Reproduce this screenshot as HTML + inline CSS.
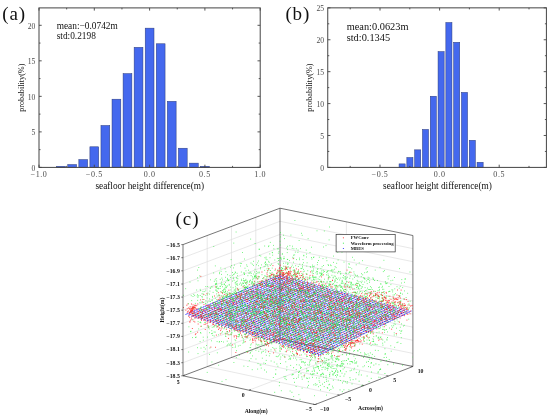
<!DOCTYPE html>
<html><head><meta charset="utf-8"><title>figure</title>
<style>html,body{margin:0;padding:0;background:#fff}body{width:550px;height:417px;overflow:hidden}</style>
</head><body>
<svg width="550" height="417" viewBox="0 0 550 417" style="display:block;font-family:'Liberation Serif', serif">
<rect width="550" height="417" fill="#fff"/>
<rect x="56.72" y="166.33" width="8.80" height="1.07" fill="#4468ee" stroke="#2a3a7a" stroke-width="0.5"/>
<rect x="67.78" y="164.56" width="8.80" height="2.84" fill="#4468ee" stroke="#2a3a7a" stroke-width="0.5"/>
<rect x="78.84" y="159.58" width="8.80" height="7.82" fill="#4468ee" stroke="#2a3a7a" stroke-width="0.5"/>
<rect x="89.90" y="146.80" width="8.80" height="20.60" fill="#4468ee" stroke="#2a3a7a" stroke-width="0.5"/>
<rect x="100.96" y="125.48" width="8.80" height="41.92" fill="#4468ee" stroke="#2a3a7a" stroke-width="0.5"/>
<rect x="112.02" y="99.20" width="8.80" height="68.20" fill="#4468ee" stroke="#2a3a7a" stroke-width="0.5"/>
<rect x="123.08" y="73.62" width="8.80" height="93.78" fill="#4468ee" stroke="#2a3a7a" stroke-width="0.5"/>
<rect x="134.14" y="47.33" width="8.80" height="120.07" fill="#4468ee" stroke="#2a3a7a" stroke-width="0.5"/>
<rect x="145.20" y="28.15" width="8.80" height="139.25" fill="#4468ee" stroke="#2a3a7a" stroke-width="0.5"/>
<rect x="156.26" y="43.78" width="8.80" height="123.62" fill="#4468ee" stroke="#2a3a7a" stroke-width="0.5"/>
<rect x="167.32" y="101.33" width="8.80" height="66.07" fill="#4468ee" stroke="#2a3a7a" stroke-width="0.5"/>
<rect x="178.38" y="148.22" width="8.80" height="19.18" fill="#4468ee" stroke="#2a3a7a" stroke-width="0.5"/>
<rect x="189.44" y="163.14" width="8.80" height="4.26" fill="#4468ee" stroke="#2a3a7a" stroke-width="0.5"/>
<rect x="200.50" y="166.33" width="8.80" height="1.07" fill="#4468ee" stroke="#2a3a7a" stroke-width="0.5"/>
<rect x="39.00" y="7.90" width="221.20" height="159.50" fill="none" stroke="#444" stroke-width="1"/>
<path d="M39.00 167.4v-2.7M39.00 7.9v2.7M94.30 167.4v-2.7M94.30 7.9v2.7M149.60 167.4v-2.7M149.60 7.9v2.7M204.90 167.4v-2.7M204.90 7.9v2.7M260.20 167.4v-2.7M260.20 7.9v2.7M66.65 167.4v-1.5M66.65 7.9v1.5M121.95 167.4v-1.5M121.95 7.9v1.5M177.25 167.4v-1.5M177.25 7.9v1.5M232.55 167.4v-1.5M232.55 7.9v1.5M39.0 167.40h2.7M260.2 167.40h-2.7M39.0 131.88h2.7M260.2 131.88h-2.7M39.0 96.35h2.7M260.2 96.35h-2.7M39.0 60.83h2.7M260.2 60.83h-2.7M39.0 25.31h2.7M260.2 25.31h-2.7M39.0 149.64h1.5M260.2 149.64h-1.5M39.0 114.11h1.5M260.2 114.11h-1.5M39.0 78.59h1.5M260.2 78.59h-1.5M39.0 43.07h1.5M260.2 43.07h-1.5" stroke="#444" stroke-width="0.9" fill="none"/>
<text x="39.00" y="177.00" text-anchor="middle" fill="#4a4a4a" style="font-size:8.0px;font-weight:normal;letter-spacing:0.6px;" >−1.0</text>
<text x="94.30" y="177.00" text-anchor="middle" fill="#4a4a4a" style="font-size:8.0px;font-weight:normal;letter-spacing:0.6px;" >−0.5</text>
<text x="149.60" y="177.00" text-anchor="middle" fill="#4a4a4a" style="font-size:8.0px;font-weight:normal;letter-spacing:0.6px;" >0.0</text>
<text x="204.90" y="177.00" text-anchor="middle" fill="#4a4a4a" style="font-size:8.0px;font-weight:normal;letter-spacing:0.6px;" >0.5</text>
<text x="260.20" y="177.00" text-anchor="middle" fill="#4a4a4a" style="font-size:8.0px;font-weight:normal;letter-spacing:0.6px;" >1.0</text>
<text x="35.40" y="170.70" text-anchor="end" fill="#4a4a4a" style="font-size:7.6px;font-weight:normal;" >0</text>
<text x="35.40" y="135.18" text-anchor="end" fill="#4a4a4a" style="font-size:7.6px;font-weight:normal;" >5</text>
<text x="35.40" y="99.65" text-anchor="end" fill="#4a4a4a" style="font-size:7.6px;font-weight:normal;" >10</text>
<text x="35.40" y="64.13" text-anchor="end" fill="#4a4a4a" style="font-size:7.6px;font-weight:normal;" >15</text>
<text x="35.40" y="28.61" text-anchor="end" fill="#4a4a4a" style="font-size:7.6px;font-weight:normal;" >20</text>
<text x="2.30" y="20.30" text-anchor="start" fill="#111" style="font-size:19px;font-weight:normal;letter-spacing:0.9px;" >(a)</text>
<text x="56.70" y="29.10" text-anchor="start" fill="#111" style="font-size:9.35px;font-weight:normal;" >mean:−0.0742m</text>
<text x="56.70" y="39.10" text-anchor="start" fill="#111" style="font-size:9.35px;font-weight:normal;" >std:0.2198</text>
<text x="149.80" y="188.70" text-anchor="middle" fill="#111" style="font-size:9.3px;font-weight:normal;" >seafloor height difference(m)</text>
<text transform="translate(24.2,87.7) rotate(-90)" text-anchor="middle" fill="#111" style="font-size:8.2px">probability(%)</text>
<rect x="399.05" y="163.89" width="6.10" height="3.51" fill="#4468ee" stroke="#2a3a7a" stroke-width="0.5"/>
<rect x="406.85" y="157.51" width="6.10" height="9.89" fill="#4468ee" stroke="#2a3a7a" stroke-width="0.5"/>
<rect x="414.65" y="149.85" width="6.10" height="17.55" fill="#4468ee" stroke="#2a3a7a" stroke-width="0.5"/>
<rect x="422.45" y="129.43" width="6.10" height="37.97" fill="#4468ee" stroke="#2a3a7a" stroke-width="0.5"/>
<rect x="430.25" y="96.24" width="6.10" height="71.16" fill="#4468ee" stroke="#2a3a7a" stroke-width="0.5"/>
<rect x="438.05" y="51.57" width="6.10" height="115.83" fill="#4468ee" stroke="#2a3a7a" stroke-width="0.5"/>
<rect x="445.85" y="22.53" width="6.10" height="144.87" fill="#4468ee" stroke="#2a3a7a" stroke-width="0.5"/>
<rect x="453.65" y="42.31" width="6.10" height="125.09" fill="#4468ee" stroke="#2a3a7a" stroke-width="0.5"/>
<rect x="461.45" y="92.41" width="6.10" height="74.99" fill="#4468ee" stroke="#2a3a7a" stroke-width="0.5"/>
<rect x="469.25" y="140.28" width="6.10" height="27.12" fill="#4468ee" stroke="#2a3a7a" stroke-width="0.5"/>
<rect x="477.05" y="162.29" width="6.10" height="5.11" fill="#4468ee" stroke="#2a3a7a" stroke-width="0.5"/>
<rect x="327.75" y="7.85" width="218.65" height="159.55" fill="none" stroke="#444" stroke-width="1"/>
<path d="M380.00 167.4v-2.7M380.00 7.85v2.7M439.60 167.4v-2.7M439.60 7.85v2.7M499.20 167.4v-2.7M499.20 7.85v2.7M350.20 167.4v-1.5M350.20 7.85v1.5M409.80 167.4v-1.5M409.80 7.85v1.5M469.40 167.4v-1.5M469.40 7.85v1.5M529.00 167.4v-1.5M529.00 7.85v1.5M327.75 167.40h2.7M546.4 167.40h-2.7M327.75 135.49h2.7M546.4 135.49h-2.7M327.75 103.58h2.7M546.4 103.58h-2.7M327.75 71.67h2.7M546.4 71.67h-2.7M327.75 39.76h2.7M546.4 39.76h-2.7M327.75 7.85h2.7M546.4 7.85h-2.7M327.75 151.44h1.5M546.4 151.44h-1.5M327.75 119.53h1.5M546.4 119.53h-1.5M327.75 87.62h1.5M546.4 87.62h-1.5M327.75 55.71h1.5M546.4 55.71h-1.5M327.75 23.81h1.5M546.4 23.81h-1.5" stroke="#444" stroke-width="0.9" fill="none"/>
<text x="380.00" y="177.00" text-anchor="middle" fill="#4a4a4a" style="font-size:8.0px;font-weight:normal;letter-spacing:0.6px;" >−0.5</text>
<text x="439.60" y="177.00" text-anchor="middle" fill="#4a4a4a" style="font-size:8.0px;font-weight:normal;letter-spacing:0.6px;" >0.0</text>
<text x="499.20" y="177.00" text-anchor="middle" fill="#4a4a4a" style="font-size:8.0px;font-weight:normal;letter-spacing:0.6px;" >0.5</text>
<text x="324.15" y="170.70" text-anchor="end" fill="#4a4a4a" style="font-size:7.6px;font-weight:normal;" >0</text>
<text x="324.15" y="138.79" text-anchor="end" fill="#4a4a4a" style="font-size:7.6px;font-weight:normal;" >5</text>
<text x="324.15" y="106.88" text-anchor="end" fill="#4a4a4a" style="font-size:7.6px;font-weight:normal;" >10</text>
<text x="324.15" y="74.97" text-anchor="end" fill="#4a4a4a" style="font-size:7.6px;font-weight:normal;" >15</text>
<text x="324.15" y="43.06" text-anchor="end" fill="#4a4a4a" style="font-size:7.6px;font-weight:normal;" >20</text>
<text x="324.15" y="11.15" text-anchor="end" fill="#4a4a4a" style="font-size:7.6px;font-weight:normal;" >25</text>
<text x="285.40" y="20.00" text-anchor="start" fill="#111" style="font-size:19px;font-weight:normal;letter-spacing:0.9px;" >(b)</text>
<text x="346.70" y="29.60" text-anchor="start" fill="#111" style="font-size:10.35px;font-weight:normal;" >mean:0.0623m</text>
<text x="346.70" y="40.50" text-anchor="start" fill="#111" style="font-size:10.35px;font-weight:normal;" >std:0.1345</text>
<text x="437.50" y="188.70" text-anchor="middle" fill="#111" style="font-size:9.3px;font-weight:normal;" >seafloor height difference(m)</text>
<text transform="translate(311.8,87.6) rotate(-90)" text-anchor="middle" fill="#111" style="font-size:8.2px">probability(%)</text>
<path d="M183.0 257.7L280.0 221.3L412.9 248.6M183.0 270.8L280.0 234.4L412.9 261.7M183.0 284.0L280.0 247.5L412.9 274.8M183.0 297.1L280.0 260.6L412.9 287.9M183.0 310.2L280.0 273.7L412.9 301.0M183.0 323.3L280.0 286.8L412.9 314.1M183.0 336.4L280.0 299.9L412.9 327.2M183.0 349.6L280.0 313.0L412.9 340.3M183.0 362.7L280.0 326.1L412.9 353.4M207.2 235.5L207.2 366.6L339.5 395.1M231.5 226.4L231.5 357.5L363.9 385.6M255.8 217.3L255.8 348.4L388.4 376.0M346.4 221.8L346.4 352.9L249.0 390.2" stroke="#dedede" stroke-width="0.7" fill="none"/>
<path d="M183.0 244.6L280.0 208.2M280.0 208.2L412.9 235.5M280.0 208.2L280.0 339.2M183.0 375.8L280.0 339.2M280.0 339.2L412.9 366.5M412.9 235.5L412.9 366.5" stroke="#4a4a4a" stroke-width="0.75" fill="none"/>
<clipPath id="bx"><polygon points="183.0,244.6 280.0,208.2 412.9,235.5 412.9,366.5 315.0,404.6 183.0,375.8"/></clipPath>
<g clip-path="url(#bx)">
<path d="M252.7 336.4h0.9M244.3 336.8h0.9M367.7 310.4h0.9M308.8 335.8h0.9M288.5 347.6h0.9M245.4 299.9h0.9M251.9 298.2h0.9M196.9 310.1h0.9M390.1 313.2h0.9M385.8 314.6h0.9M377.3 318.5h0.9M212.7 324.4h0.9M235.6 330.2h0.9M268.1 345.9h0.9M317.1 361.8h0.9M230.6 334.3h0.9M392.4 307.2h0.9M353.6 346.3h0.9M358.9 299.3h0.9M311.2 356.1h0.9M400.5 313.7h0.9M225.9 329.3h0.9M294.9 284.8h0.9M349.5 297.8h0.9M345.1 301.4h0.9M389.8 305.4h0.9M347.6 310.2h0.9M209.7 322.5h0.9M189.2 321.9h0.9M361.3 333.8h0.9M241.7 337.2h0.9M275.1 278.2h0.9M221.1 326.1h0.9M216.4 303.8h0.9M252.5 342.6h0.9M334.7 347.7h0.9M317.0 353.1h0.9M267.6 321.6h0.9M318.3 359.0h0.9M373.9 307.0h0.9M386.4 308.3h0.9M369.4 303.5h0.9M207.3 321.2h0.9M314.2 285.0h0.9M257.7 338.1h0.9M191.9 328.5h0.9M380.8 323.9h0.9M251.8 334.0h0.9M269.7 290.5h0.9M371.8 309.2h0.9M409.6 313.8h0.9M322.4 336.9h0.9M219.9 333.9h0.9M343.6 345.1h0.9M225.7 333.8h0.9M216.9 326.6h0.9M255.8 338.1h0.9M402.8 312.6h0.9M350.5 340.3h0.9M222.5 300.0h0.9M374.7 311.0h0.9M362.6 333.5h0.9M364.8 298.9h0.9M217.9 325.1h0.9M254.2 336.7h0.9M220.2 330.6h0.9M342.1 296.7h0.9M294.8 287.5h0.9M343.1 345.5h0.9M283.0 318.9h0.9M245.3 312.6h0.9M292.9 348.6h0.9M268.1 351.7h0.9M326.6 294.2h0.9M375.4 310.4h0.9M228.3 327.3h0.9M335.7 292.3h0.9M235.6 335.5h0.9M207.3 325.9h0.9M406.6 314.1h0.9M232.9 303.3h0.9M268.2 343.6h0.9M217.8 309.5h0.9M285.8 280.6h0.9M281.7 342.6h0.9M317.2 292.4h0.9M391.8 318.8h0.9M318.6 310.6h0.9M200.6 317.7h0.9M223.2 323.1h0.9M296.2 352.8h0.9M288.4 346.8h0.9M336.6 291.9h0.9M195.6 317.6h0.9M401.3 313.7h0.9M391.2 329.2h0.9M251.9 309.1h0.9M212.8 324.2h0.9M372.8 325.5h0.9M313.4 320.4h0.9M355.1 311.1h0.9M286.6 350.2h0.9M357.3 337.1h0.9M189.7 321.9h0.9M312.1 351.9h0.9M311.1 284.5h0.9M318.0 356.4h0.9M302.7 285.4h0.9M229.4 328.6h0.9M245.2 334.8h0.9M245.9 337.4h0.9M333.2 348.3h0.9M287.0 294.0h0.9M394.4 313.0h0.9M318.2 354.5h0.9M282.5 278.4h0.9M245.7 293.6h0.9M203.3 319.9h0.9M349.3 342.4h0.9M389.6 307.2h0.9M297.3 346.9h0.9M393.8 319.8h0.9M254.8 340.8h0.9M197.7 324.0h0.9M286.6 346.2h0.9M328.1 352.7h0.9M214.7 304.8h0.9M229.2 330.6h0.9M293.4 355.2h0.9M201.1 320.0h0.9M229.9 301.8h0.9M303.2 305.0h0.9M302.1 283.6h0.9M251.0 292.0h0.9M314.6 292.4h0.9M374.7 325.5h0.9M271.6 284.1h0.9M273.1 341.7h0.9M386.5 321.3h0.9M260.9 341.4h0.9M295.3 283.5h0.9M278.2 278.7h0.9M372.8 333.8h0.9M322.2 288.4h0.9M297.1 354.5h0.9M274.3 349.9h0.9M251.8 291.5h0.9M309.3 355.5h0.9M292.4 305.9h0.9M318.0 354.0h0.9M191.7 316.0h0.9M200.2 317.1h0.9M194.4 322.0h0.9M195.5 315.4h0.9M193.5 315.3h0.9M381.8 306.3h0.9M230.1 299.3h0.9M356.3 327.4h0.9M194.2 311.4h0.9M313.4 287.0h0.9M395.2 308.3h0.9M369.6 304.2h0.9M361.5 300.0h0.9M386.4 320.2h0.9M294.5 348.5h0.9M245.0 296.1h0.9M335.4 299.7h0.9M249.1 328.4h0.9M298.1 285.1h0.9M305.2 292.3h0.9M286.1 351.7h0.9M252.0 340.7h0.9M214.3 321.7h0.9M303.1 287.4h0.9M209.1 307.5h0.9M233.7 335.8h0.9M405.6 312.3h0.9M313.2 292.5h0.9M321.5 361.0h0.9M280.3 278.7h0.9M217.6 326.2h0.9M246.6 291.0h0.9M303.5 291.9h0.9M309.3 296.4h0.9M314.5 286.0h0.9M253.3 294.8h0.9M314.4 354.1h0.9M329.4 297.6h0.9M349.7 302.4h0.9M279.1 288.5h0.9M399.2 315.4h0.9M295.3 279.7h0.9M348.8 298.0h0.9M309.4 285.4h0.9M220.3 301.3h0.9M277.1 329.0h0.9M237.5 330.6h0.9M235.2 304.0h0.9M276.5 283.8h0.9M337.7 296.1h0.9M319.8 286.9h0.9M221.0 304.6h0.9M397.1 313.9h0.9M361.8 344.2h0.9M224.3 327.4h0.9M370.6 332.7h0.9M290.8 347.5h0.9M264.7 338.2h0.9M299.0 283.8h0.9M229.8 323.8h0.9M356.3 301.0h0.9M358.6 338.3h0.9M218.7 327.9h0.9M287.9 280.7h0.9M194.6 313.4h0.9M356.2 307.1h0.9M393.1 307.6h0.9M292.7 282.6h0.9M363.9 300.3h0.9M236.0 336.7h0.9M283.1 345.6h0.9M329.4 292.8h0.9M298.7 350.2h0.9M368.7 306.0h0.9M283.2 284.2h0.9M193.4 321.3h0.9M218.2 307.2h0.9M306.1 352.4h0.9M388.0 307.3h0.9M214.2 307.3h0.9M247.2 336.6h0.9M189.3 317.6h0.9M376.3 328.9h0.9M238.9 299.1h0.9M389.2 319.3h0.9M253.3 340.2h0.9M248.9 306.8h0.9M200.4 326.3h0.9M301.5 348.3h0.9M344.6 299.7h0.9M301.4 292.0h0.9M257.3 313.4h0.9M207.7 307.3h0.9M365.9 308.5h0.9M265.9 339.8h0.9M302.9 288.3h0.9M381.9 332.8h0.9M327.4 350.6h0.9M386.6 305.4h0.9M341.3 298.7h0.9M192.9 315.6h0.9M321.6 287.2h0.9M203.7 324.4h0.9M245.9 336.6h0.9M383.7 324.4h0.9M309.8 355.7h0.9M201.9 312.1h0.9M332.9 348.2h0.9M247.0 299.5h0.9M360.5 334.0h0.9M281.7 346.3h0.9M282.9 347.4h0.9M215.9 335.1h0.9M278.8 293.8h0.9M234.9 326.8h0.9M292.7 280.4h0.9M216.7 322.3h0.9M383.7 314.8h0.9M298.9 284.1h0.9M300.0 350.4h0.9M322.2 360.6h0.9M252.0 339.5h0.9M253.1 291.4h0.9M255.4 335.8h0.9M303.3 351.5h0.9M346.9 293.7h0.9M367.1 311.2h0.9M241.1 335.1h0.9M400.3 309.1h0.9M201.0 318.7h0.9M232.6 328.1h0.9M261.3 341.2h0.9M341.3 299.4h0.9M236.3 302.8h0.9M299.1 290.4h0.9M232.0 302.2h0.9M326.8 294.7h0.9M330.0 292.0h0.9M216.5 308.9h0.9M377.2 303.4h0.9M388.0 305.0h0.9M238.6 292.9h0.9M197.7 313.3h0.9M311.8 289.0h0.9M220.9 307.5h0.9M337.3 296.6h0.9M351.2 306.3h0.9M335.6 301.6h0.9M370.4 331.1h0.9M383.7 306.7h0.9M204.8 329.5h0.9M381.7 310.0h0.9M226.6 331.6h0.9M270.5 291.4h0.9M306.3 355.0h0.9M318.4 345.8h0.9M345.4 340.3h0.9M331.1 353.2h0.9M399.0 322.1h0.9M287.8 289.3h0.9M368.7 309.3h0.9M265.3 284.4h0.9M291.3 280.7h0.9M232.2 344.9h0.9M374.6 304.3h0.9M218.1 329.4h0.9M312.9 354.0h0.9M307.0 284.1h0.9M288.9 279.9h0.9M348.2 342.3h0.9M295.9 353.4h0.9M285.9 277.6h0.9M402.2 315.3h0.9M247.8 290.7h0.9M281.8 346.4h0.9M334.0 355.6h0.9M239.8 325.5h0.9M266.6 286.3h0.9M239.9 299.4h0.9M281.5 286.5h0.9M287.3 312.0h0.9M366.4 304.4h0.9M274.3 281.4h0.9M266.0 345.0h0.9M407.4 314.4h0.9M248.0 332.8h0.9M282.5 283.0h0.9M372.3 304.9h0.9M297.5 292.4h0.9M338.2 293.7h0.9M315.3 290.4h0.9M280.8 349.3h0.9M318.1 361.6h0.9M341.2 293.7h0.9M337.4 356.4h0.9M296.2 289.6h0.9M358.1 334.6h0.9M310.1 350.1h0.9M241.6 331.1h0.9M317.8 358.6h0.9M265.8 345.0h0.9M355.8 302.7h0.9M277.3 283.3h0.9M322.9 354.6h0.9M314.6 356.8h0.9M404.0 315.7h0.9M406.5 320.1h0.9M264.6 343.6h0.9M324.5 349.8h0.9M383.9 326.7h0.9M299.3 349.2h0.9M273.1 352.9h0.9M236.1 338.2h0.9M309.3 285.7h0.9M306.9 286.7h0.9M191.1 318.1h0.9M201.0 320.0h0.9M342.6 296.6h0.9M248.3 335.2h0.9M336.6 330.2h0.9M198.1 318.2h0.9M188.7 314.4h0.9M394.1 312.5h0.9M193.4 316.2h0.9M356.6 299.3h0.9M254.2 338.8h0.9M266.9 342.5h0.9M296.9 349.6h0.9M260.1 340.0h0.9M309.2 289.5h0.9M229.4 311.6h0.9M366.7 304.8h0.9M332.2 345.7h0.9M233.8 336.9h0.9M353.2 298.2h0.9M246.2 333.6h0.9M403.2 315.1h0.9" stroke="#ff3030" stroke-width="0.9" fill="none"/>
<path d="M344.8 328.8h0.9M202.2 313.0h0.9M212.2 313.7h0.9M311.3 352.5h0.9M227.7 334.7h0.9M256.6 297.2h0.9M298.4 297.9h0.9M291.2 305.9h0.9M245.3 294.9h0.9M221.7 327.8h0.9M308.5 297.2h0.9M227.4 322.1h0.9M194.9 334.6h0.9M303.7 375.7h0.9M364.4 302.2h0.9M360.0 336.1h0.9M397.9 317.5h0.9M246.1 329.0h0.9M219.3 309.4h0.9M210.0 315.8h0.9M220.7 329.0h0.9M284.4 357.0h0.9M208.3 327.3h0.9M341.8 343.7h0.9M306.0 285.0h0.9M328.6 309.5h0.9M326.2 349.7h0.9M362.3 316.1h0.9M215.0 347.3h0.9M192.8 316.1h0.9M284.3 328.1h0.9M309.2 305.7h0.9M384.6 318.2h0.9M244.8 341.7h0.9M311.8 352.7h0.9M370.0 343.0h0.9M329.8 332.9h0.9M235.4 352.5h0.9M272.8 336.2h0.9M270.3 287.3h0.9M247.7 314.3h0.9M267.4 343.9h0.9M341.8 306.4h0.9M252.3 338.4h0.9M261.6 295.9h0.9M243.6 297.8h0.9M277.2 312.4h0.9M372.5 307.9h0.9M262.1 336.1h0.9M381.4 318.9h0.9M206.6 323.6h0.9M394.4 315.4h0.9M245.0 326.8h0.9M247.2 352.2h0.9M243.4 310.3h0.9M368.2 332.1h0.9M267.2 331.6h0.9M380.6 339.1h0.9M210.4 347.1h0.9M299.4 355.2h0.9M197.2 332.2h0.9M195.5 333.6h0.9M338.6 356.4h0.9M395.8 333.5h0.9M378.3 340.2h0.9M297.0 353.5h0.9M399.7 318.0h0.9M355.8 319.5h0.9M384.4 321.7h0.9M205.0 324.1h0.9M330.4 320.1h0.9M324.7 314.4h0.9M228.0 338.4h0.9M391.7 316.9h0.9M225.9 315.0h0.9M264.0 341.5h0.9" stroke="#ff3030" stroke-width="0.9" fill="none"/>
<path d="M284.0 346.9h0.8M387.2 337.5h0.8M235.0 346.0h0.8M296.1 378.4h0.8M232.4 326.9h0.8M338.6 316.4h0.8M308.1 343.6h0.8M316.9 361.5h0.8M268.2 332.0h0.8M364.1 329.7h0.8M227.6 313.1h0.8M341.5 305.8h0.8M371.8 341.5h0.8M257.6 337.4h0.8M358.2 324.5h0.8M265.4 323.2h0.8M239.2 334.7h0.8M281.3 339.4h0.8M256.9 347.9h0.8M246.2 351.6h0.8M261.2 331.3h0.8M330.6 315.1h0.8M314.7 314.8h0.8M243.5 366.1h0.8M359.4 343.9h0.8M346.9 381.7h0.8M379.2 339.1h0.8M363.7 338.3h0.8M281.0 348.6h0.8M353.2 321.3h0.8M356.0 332.7h0.8M318.2 309.8h0.8M261.6 343.1h0.8M235.9 357.6h0.8M359.7 325.2h0.8M363.7 333.7h0.8M319.1 296.8h0.8M329.2 390.3h0.8M322.7 337.1h0.8M288.0 337.3h0.8M306.5 300.6h0.8M293.8 342.1h0.8M327.4 388.3h0.8M289.3 307.2h0.8M313.0 329.8h0.8M265.9 322.0h0.8M318.7 346.5h0.8M298.3 338.0h0.8M366.7 316.7h0.8M228.6 311.0h0.8M274.7 306.6h0.8M337.4 332.6h0.8M241.2 299.9h0.8M206.2 316.2h0.8M319.7 333.2h0.8M230.7 345.7h0.8M269.5 353.6h0.8M335.5 321.7h0.8M282.6 320.5h0.8M324.4 342.2h0.8M304.3 316.6h0.8M376.2 326.8h0.8M269.4 298.1h0.8M331.3 322.3h0.8M275.8 356.4h0.8M269.3 399.4h0.8M313.8 355.7h0.8M335.9 358.8h0.8M200.7 318.0h0.8M279.2 346.1h0.8M309.4 305.5h0.8M386.6 340.1h0.8M316.1 320.1h0.8M332.1 347.4h0.8M293.1 354.4h0.8M300.6 311.7h0.8M326.6 314.9h0.8M308.9 333.1h0.8M255.5 350.3h0.8M297.7 291.3h0.8M329.0 366.0h0.8M266.7 344.3h0.8M264.3 307.6h0.8M276.1 280.1h0.8M340.4 327.8h0.8M276.9 331.5h0.8M255.1 311.9h0.8M305.2 348.1h0.8M226.8 331.8h0.8M309.0 323.3h0.8M291.6 339.7h0.8M239.0 326.7h0.8M350.9 326.5h0.8M285.1 292.8h0.8M339.8 344.2h0.8M247.4 325.1h0.8M300.6 310.2h0.8M307.2 378.4h0.8M317.4 297.0h0.8M340.9 342.9h0.8M348.0 327.7h0.8M300.9 340.8h0.8M283.4 319.2h0.8M251.0 328.4h0.8M282.7 329.7h0.8M343.6 347.1h0.8M232.4 347.5h0.8M233.5 310.0h0.8M330.6 297.6h0.8M293.0 321.3h0.8M247.0 303.4h0.8M201.6 310.9h0.8M215.6 320.5h0.8M266.6 341.1h0.8M345.7 309.5h0.8M332.3 323.0h0.8M269.7 320.9h0.8M272.8 321.1h0.8M272.4 347.5h0.8M319.9 324.5h0.8M273.7 328.3h0.8M285.4 376.7h0.8M377.8 338.3h0.8M260.8 314.2h0.8M335.9 329.0h0.8M209.0 332.7h0.8M300.3 325.7h0.8M326.7 345.4h0.8M370.1 331.4h0.8M273.9 301.6h0.8M250.6 358.6h0.8M269.0 290.1h0.8M234.8 347.3h0.8M348.5 389.8h0.8M255.8 301.0h0.8M277.8 318.5h0.8M291.0 345.5h0.8M287.8 314.7h0.8M282.0 400.9h0.8M285.1 348.2h0.8M320.4 328.5h0.8M343.5 322.6h0.8M287.6 339.2h0.8M336.1 377.0h0.8M230.7 334.8h0.8M320.3 301.5h0.8M368.5 318.7h0.8M288.5 350.1h0.8M347.3 345.5h0.8M257.5 345.6h0.8M378.6 364.7h0.8M343.9 333.4h0.8M280.6 334.7h0.8M372.5 310.3h0.8M217.5 308.5h0.8M346.4 308.6h0.8M282.1 319.3h0.8M384.5 348.7h0.8M261.4 307.7h0.8M338.9 320.1h0.8M289.6 348.9h0.8M231.7 320.4h0.8M332.6 350.6h0.8M265.8 360.4h0.8M370.8 324.6h0.8M314.0 395.7h0.8M268.1 285.1h0.8M347.5 327.0h0.8M270.0 335.2h0.8M325.6 377.5h0.8M340.8 345.3h0.8M315.4 362.7h0.8M225.0 310.9h0.8M232.5 315.6h0.8M260.8 307.6h0.8M355.3 313.6h0.8M281.9 334.8h0.8M292.1 296.4h0.8M395.2 313.8h0.8M298.3 321.6h0.8M324.2 317.3h0.8M361.4 355.9h0.8M315.3 314.1h0.8M288.5 359.4h0.8M325.9 379.3h0.8M318.7 380.7h0.8M287.2 294.9h0.8M290.3 358.1h0.8M345.5 333.5h0.8M271.2 339.4h0.8M314.6 367.7h0.8M336.9 318.4h0.8M279.2 342.7h0.8M305.1 301.0h0.8M325.1 345.7h0.8M322.1 363.9h0.8M292.9 344.7h0.8M237.4 336.6h0.8M294.3 336.9h0.8M266.2 329.2h0.8M335.7 342.7h0.8M312.6 340.6h0.8M277.5 366.3h0.8M230.2 310.9h0.8M229.3 345.0h0.8M338.0 337.5h0.8M351.1 341.6h0.8M294.0 323.1h0.8M307.8 337.1h0.8M346.2 355.1h0.8M231.0 325.6h0.8M336.1 338.3h0.8M272.1 324.7h0.8M304.8 319.2h0.8M400.4 333.4h0.8M246.5 321.3h0.8M327.1 341.5h0.8M227.3 333.7h0.8M329.8 342.3h0.8M245.1 336.7h0.8M342.7 369.0h0.8M279.3 354.8h0.8M275.0 374.1h0.8M390.8 351.2h0.8M267.6 310.4h0.8M270.2 297.2h0.8M334.4 305.8h0.8M216.7 341.6h0.8M348.8 315.4h0.8M330.6 337.9h0.8M322.3 326.0h0.8M310.6 334.5h0.8M324.4 329.5h0.8M276.7 332.9h0.8M277.5 287.6h0.8M314.9 383.7h0.8M332.8 346.4h0.8M203.6 351.7h0.8M225.6 379.6h0.8M289.8 310.8h0.8M365.2 354.1h0.8M296.8 324.1h0.8M253.1 303.9h0.8M344.6 309.0h0.8M301.3 331.1h0.8M352.5 334.1h0.8M369.8 325.6h0.8M295.5 320.4h0.8M322.3 361.0h0.8M298.1 339.8h0.8M218.3 365.2h0.8M233.5 362.5h0.8M291.9 296.0h0.8M380.0 337.5h0.8M382.5 345.2h0.8M259.7 364.9h0.8M271.3 299.8h0.8M317.9 366.5h0.8M302.8 320.8h0.8M293.3 396.6h0.8M341.9 391.6h0.8M301.9 344.6h0.8M295.9 326.7h0.8M225.3 334.0h0.8M323.7 349.9h0.8M285.5 325.5h0.8M296.0 341.1h0.8M257.3 369.1h0.8M320.0 342.5h0.8M291.4 297.6h0.8M288.8 323.4h0.8M255.1 332.4h0.8M349.0 353.2h0.8M265.0 363.5h0.8M339.2 350.6h0.8M330.7 351.3h0.8M383.7 314.7h0.8M290.5 297.8h0.8M330.9 306.3h0.8M311.3 354.0h0.8M298.2 331.9h0.8M327.1 328.4h0.8M217.9 323.6h0.8M300.8 367.5h0.8M296.4 340.9h0.8M386.0 360.5h0.8M336.8 330.2h0.8M265.9 355.3h0.8M353.5 323.8h0.8M284.6 303.5h0.8M323.5 322.6h0.8M319.9 385.4h0.8M214.9 317.0h0.8M284.7 298.1h0.8M313.3 368.7h0.8M302.6 341.0h0.8M328.2 320.6h0.8M374.5 344.0h0.8M352.7 379.6h0.8M316.9 296.4h0.8M297.5 309.4h0.8M202.9 340.2h0.8M252.5 331.9h0.8M251.8 369.7h0.8M379.8 377.4h0.8M301.6 361.5h0.8M242.1 318.7h0.8M393.8 335.0h0.8M273.6 348.6h0.8M284.3 338.8h0.8M381.5 339.1h0.8M291.1 307.3h0.8M288.0 340.6h0.8M316.0 321.9h0.8M257.7 344.5h0.8M341.1 361.5h0.8M227.3 344.9h0.8M283.8 319.6h0.8M280.5 345.6h0.8M211.5 362.0h0.8M344.8 329.6h0.8M293.2 318.2h0.8M275.1 336.6h0.8M348.4 343.1h0.8M303.9 344.1h0.8M381.9 312.3h0.8M341.3 321.7h0.8M355.5 304.5h0.8M244.9 330.8h0.8M308.4 333.8h0.8M332.0 327.2h0.8M308.7 351.4h0.8M260.4 296.4h0.8M305.8 332.3h0.8M342.6 324.7h0.8M338.2 324.3h0.8M283.5 321.2h0.8M353.1 310.7h0.8M321.6 374.0h0.8M192.1 337.6h0.8M238.9 300.6h0.8M288.0 347.7h0.8M209.5 348.0h0.8M302.5 347.5h0.8M336.9 339.7h0.8M207.2 337.1h0.8M287.3 315.5h0.8M269.0 305.8h0.8M195.7 337.1h0.8M354.1 337.7h0.8M320.4 350.4h0.8M363.7 338.5h0.8M327.0 323.3h0.8M336.7 365.1h0.8M292.9 317.5h0.8M238.1 327.4h0.8M352.6 325.8h0.8M262.9 351.4h0.8M334.9 325.4h0.8M389.1 328.0h0.8M277.1 305.3h0.8M255.7 309.5h0.8M267.4 329.3h0.8M263.5 363.1h0.8M329.3 329.1h0.8M207.8 327.7h0.8M267.2 317.4h0.8M240.8 322.7h0.8M371.8 358.9h0.8M296.3 364.7h0.8M245.2 330.6h0.8M271.9 330.0h0.8M228.7 317.6h0.8M364.1 337.0h0.8M313.4 325.4h0.8M292.3 348.8h0.8M340.1 380.5h0.8M301.9 324.2h0.8M281.9 337.8h0.8M235.9 328.5h0.8M255.9 344.2h0.8M278.6 331.9h0.8M292.0 323.0h0.8M350.8 299.8h0.8M325.7 338.4h0.8M198.5 315.9h0.8M274.5 337.9h0.8M326.2 395.1h0.8M310.9 325.8h0.8M309.8 313.8h0.8M260.1 332.1h0.8M325.9 360.6h0.8M234.6 344.1h0.8M355.8 318.9h0.8M337.3 349.4h0.8M255.6 359.0h0.8M342.6 345.0h0.8M307.6 289.7h0.8M274.9 291.0h0.8M252.0 315.2h0.8M330.8 323.3h0.8M305.1 345.1h0.8M318.0 386.7h0.8M343.6 315.3h0.8M327.9 310.4h0.8M316.7 373.0h0.8M275.0 335.6h0.8M322.7 350.6h0.8M232.2 305.1h0.8M360.0 325.7h0.8M211.2 333.6h0.8M360.7 305.4h0.8M394.3 347.3h0.8M330.5 356.4h0.8M373.0 341.5h0.8M260.4 306.8h0.8M348.6 306.9h0.8M338.5 343.0h0.8M302.4 323.6h0.8M356.6 355.1h0.8M284.6 378.6h0.8M354.7 315.7h0.8M337.7 358.8h0.8M276.8 356.7h0.8M380.6 324.4h0.8M332.6 373.9h0.8M270.1 296.5h0.8M241.1 319.8h0.8M354.9 358.7h0.8M219.2 311.7h0.8M297.5 348.3h0.8M379.3 324.2h0.8M334.1 320.7h0.8M318.7 346.5h0.8M352.3 328.5h0.8M202.8 337.2h0.8M324.5 363.8h0.8M279.2 382.4h0.8M246.7 327.9h0.8M250.9 343.9h0.8M333.0 349.0h0.8M294.7 336.4h0.8M365.9 354.7h0.8M301.3 359.7h0.8M331.7 307.7h0.8M221.6 381.4h0.8M366.6 343.2h0.8M328.4 359.4h0.8M308.5 349.1h0.8M365.4 327.9h0.8M301.5 318.5h0.8M306.0 345.0h0.8M393.8 332.8h0.8M310.1 333.1h0.8M305.0 362.3h0.8M315.4 333.8h0.8M349.1 321.2h0.8M278.9 385.7h0.8M278.1 334.3h0.8M278.3 335.9h0.8M331.6 340.6h0.8M316.0 377.9h0.8M322.3 373.2h0.8M285.9 287.8h0.8M269.4 331.9h0.8M261.9 358.2h0.8M252.7 307.9h0.8M287.5 319.0h0.8M229.2 320.0h0.8M287.7 319.5h0.8M312.8 291.6h0.8M291.0 334.5h0.8M341.7 324.3h0.8M250.1 339.2h0.8M226.9 323.7h0.8M304.9 342.3h0.8M324.1 382.4h0.8M298.5 394.6h0.8M358.6 372.9h0.8M283.7 331.7h0.8M300.7 300.8h0.8M289.4 358.3h0.8M301.7 297.8h0.8M197.2 347.7h0.8M325.7 343.6h0.8M346.3 354.2h0.8M258.1 339.4h0.8M332.0 386.2h0.8M317.1 317.6h0.8M297.8 343.8h0.8M261.6 351.8h0.8M329.4 317.0h0.8M302.7 362.3h0.8M250.4 301.7h0.8M273.8 331.6h0.8M334.0 329.3h0.8M380.9 317.7h0.8M354.1 345.7h0.8M322.7 345.4h0.8M303.8 376.8h0.8M278.3 286.8h0.8M280.9 284.6h0.8M348.7 329.2h0.8M248.7 305.5h0.8M382.9 329.4h0.8M337.1 364.6h0.8M323.6 350.7h0.8M260.6 320.2h0.8M275.1 320.2h0.8M237.4 331.5h0.8M341.7 347.1h0.8M354.6 332.4h0.8M266.9 316.8h0.8M236.2 350.7h0.8M281.2 279.7h0.8M301.2 345.1h0.8M285.4 361.8h0.8M241.2 315.5h0.8M312.9 344.5h0.8M302.9 361.7h0.8M287.7 332.5h0.8M337.7 352.6h0.8M275.3 309.1h0.8M364.0 365.8h0.8M330.8 357.8h0.8M360.3 313.5h0.8M384.9 315.6h0.8M362.6 366.8h0.8M297.2 293.1h0.8M265.7 298.7h0.8M277.0 340.8h0.8M211.0 340.8h0.8M309.2 314.1h0.8M314.9 349.4h0.8M374.3 356.4h0.8M266.2 372.0h0.8M288.8 328.7h0.8M328.5 329.2h0.8M351.2 343.4h0.8M278.4 311.4h0.8M239.0 355.1h0.8M318.7 378.2h0.8M318.5 337.1h0.8M290.0 351.8h0.8M208.8 328.9h0.8M275.0 291.7h0.8M299.6 332.7h0.8M301.4 286.3h0.8M270.9 305.2h0.8M336.3 301.4h0.8M317.6 328.4h0.8M278.0 343.7h0.8M322.6 373.4h0.8M321.6 369.6h0.8M315.4 314.6h0.8M389.5 312.4h0.8M244.0 321.4h0.8M264.8 318.9h0.8M291.1 355.6h0.8M363.1 323.0h0.8M242.9 310.8h0.8M213.8 336.0h0.8M316.6 384.4h0.8M328.7 362.8h0.8M301.1 362.2h0.8M340.7 329.9h0.8M328.6 323.7h0.8M363.8 341.2h0.8M234.7 330.6h0.8M335.4 358.6h0.8M337.9 338.2h0.8M315.4 340.6h0.8M355.7 338.3h0.8M246.5 313.0h0.8M307.3 364.8h0.8M327.8 341.0h0.8M341.6 373.2h0.8M226.6 322.1h0.8M366.9 328.6h0.8M225.1 314.0h0.8M200.7 314.6h0.8M257.6 363.6h0.8M247.5 351.3h0.8M283.7 326.3h0.8M348.8 298.4h0.8M288.7 328.5h0.8M353.2 351.2h0.8M323.3 319.0h0.8M270.2 313.7h0.8M241.8 309.0h0.8M284.9 351.7h0.8M345.8 329.1h0.8M349.5 320.7h0.8M330.3 323.9h0.8M337.1 372.2h0.8M338.2 350.6h0.8M353.9 368.3h0.8M251.5 334.1h0.8M321.5 333.1h0.8M246.2 315.8h0.8M350.6 343.9h0.8M244.4 334.1h0.8M236.0 327.5h0.8M356.7 340.4h0.8M308.2 321.0h0.8M323.8 311.4h0.8M310.4 309.9h0.8M307.9 344.6h0.8M293.1 319.5h0.8M270.8 304.6h0.8M269.7 334.0h0.8M317.8 333.7h0.8M262.9 336.6h0.8M393.9 310.8h0.8M282.2 280.6h0.8M236.7 325.2h0.8M312.8 349.6h0.8M315.5 385.3h0.8M286.6 333.6h0.8M370.7 345.6h0.8M326.0 348.1h0.8M245.1 337.1h0.8M276.2 326.5h0.8M310.6 333.2h0.8M282.8 345.0h0.8M199.7 341.6h0.8M275.9 330.0h0.8M255.1 398.3h0.8M309.0 362.2h0.8M361.6 337.6h0.8M314.8 320.5h0.8M380.7 305.7h0.8M298.9 323.7h0.8M290.3 365.4h0.8M306.2 356.6h0.8M254.3 332.8h0.8M342.2 341.7h0.8M335.8 328.8h0.8M218.1 324.4h0.8M324.3 303.4h0.8M229.5 324.3h0.8M302.2 318.9h0.8M260.8 312.3h0.8M385.1 321.4h0.8M369.9 332.4h0.8M305.7 317.7h0.8M359.2 371.2h0.8M384.4 342.0h0.8M356.3 361.8h0.8M345.4 342.1h0.8M337.6 346.9h0.8M258.4 351.3h0.8M351.8 317.2h0.8M320.3 318.8h0.8M299.7 322.7h0.8M241.6 302.2h0.8M360.2 316.9h0.8M322.1 347.2h0.8M353.0 330.5h0.8M349.0 324.4h0.8M266.1 335.1h0.8M320.0 365.8h0.8M342.4 350.5h0.8M298.4 332.7h0.8M237.9 334.6h0.8M261.1 325.5h0.8M237.9 346.0h0.8M343.4 364.1h0.8M305.2 326.0h0.8M339.5 335.3h0.8M250.1 352.4h0.8M325.7 375.9h0.8M230.3 343.3h0.8M255.4 337.6h0.8M277.6 304.1h0.8M334.6 315.2h0.8M256.4 331.2h0.8M385.3 319.1h0.8M336.0 314.4h0.8M291.4 301.6h0.8M271.3 343.0h0.8M328.9 314.0h0.8M268.9 355.8h0.8M248.2 296.3h0.8M298.6 372.0h0.8M322.2 322.6h0.8M332.6 305.6h0.8M312.2 357.5h0.8M259.5 330.8h0.8M224.3 321.7h0.8M216.9 352.8h0.8M279.0 332.6h0.8M243.3 309.0h0.8M251.3 323.5h0.8M331.5 371.1h0.8M286.6 309.8h0.8M330.7 342.8h0.8M291.4 325.1h0.8M225.5 336.5h0.8M317.5 342.9h0.8M313.7 301.9h0.8M311.3 355.8h0.8M335.0 337.2h0.8M348.1 319.3h0.8M245.9 333.4h0.8M334.4 319.9h0.8M322.6 336.9h0.8M346.8 326.6h0.8M333.7 373.3h0.8M337.1 320.2h0.8M282.3 355.3h0.8M314.6 319.5h0.8M334.5 368.5h0.8M314.4 318.4h0.8M263.4 306.4h0.8M291.6 375.0h0.8M257.3 333.5h0.8M301.4 346.0h0.8M353.9 322.6h0.8M306.6 370.7h0.8M279.4 285.5h0.8M274.9 286.8h0.8M276.6 315.0h0.8M332.4 374.8h0.8M267.0 329.3h0.8M197.6 353.6h0.8M303.9 306.6h0.8M319.3 382.3h0.8M317.0 353.8h0.8M396.7 319.9h0.8M330.9 343.4h0.8M235.4 340.7h0.8M304.6 332.5h0.8M287.2 308.6h0.8M298.8 327.3h0.8M378.4 377.2h0.8M306.4 371.7h0.8M327.9 354.5h0.8M298.7 310.5h0.8M306.8 291.2h0.8M305.8 346.0h0.8M279.9 310.2h0.8M331.6 349.7h0.8M250.7 328.3h0.8M332.1 355.6h0.8M212.1 333.3h0.8M260.6 302.2h0.8M289.5 311.1h0.8M316.3 341.2h0.8M286.3 295.3h0.8M329.4 307.1h0.8M288.8 356.4h0.8M260.2 313.8h0.8M271.3 298.8h0.8M275.7 348.4h0.8M279.9 318.5h0.8M333.1 343.2h0.8M228.4 313.8h0.8M269.5 342.3h0.8M372.5 344.4h0.8M340.5 366.7h0.8M373.4 336.6h0.8M321.6 291.8h0.8M326.6 321.4h0.8M276.0 297.0h0.8M289.6 338.0h0.8M342.5 336.3h0.8M339.7 330.9h0.8M246.4 332.0h0.8M308.2 349.7h0.8M243.7 328.7h0.8M367.7 353.9h0.8M244.4 313.0h0.8M265.3 349.4h0.8M384.1 332.4h0.8M287.4 345.8h0.8M294.1 355.1h0.8M257.8 297.2h0.8M280.5 320.0h0.8M347.3 320.2h0.8M270.0 340.7h0.8M331.5 362.3h0.8M279.8 359.1h0.8M332.9 329.2h0.8M295.9 337.5h0.8M370.2 333.5h0.8M286.7 322.5h0.8M301.5 295.9h0.8M260.2 348.8h0.8M270.6 349.8h0.8M308.4 304.6h0.8M264.0 332.5h0.8M267.0 329.4h0.8M327.5 328.8h0.8M264.1 324.9h0.8M270.0 339.3h0.8M343.8 307.2h0.8M330.4 348.2h0.8M301.7 388.2h0.8M252.7 312.7h0.8M300.0 366.9h0.8M289.7 325.9h0.8M293.1 358.1h0.8M286.5 366.9h0.8M295.7 386.5h0.8M349.0 346.7h0.8M263.6 345.9h0.8M286.1 328.3h0.8M306.4 305.5h0.8M264.8 306.4h0.8M334.0 338.2h0.8M242.9 326.3h0.8M378.4 337.1h0.8M305.0 349.3h0.8M285.7 322.6h0.8M269.9 296.8h0.8M279.3 304.6h0.8M256.9 336.0h0.8M332.6 360.2h0.8M356.4 318.4h0.8M282.3 329.7h0.8M327.2 348.5h0.8M382.6 326.8h0.8M249.6 347.7h0.8M278.0 332.0h0.8M279.5 319.5h0.8M340.1 370.6h0.8M331.7 330.7h0.8M313.5 319.0h0.8M363.7 341.3h0.8M316.2 318.7h0.8M309.4 350.0h0.8M257.4 304.2h0.8M272.9 377.5h0.8M327.1 313.4h0.8M206.8 372.4h0.8M328.7 353.4h0.8M247.5 366.5h0.8M308.3 350.7h0.8M324.4 361.1h0.8M320.3 356.8h0.8M330.5 389.5h0.8M373.6 311.9h0.8M341.1 345.4h0.8M304.5 294.5h0.8M304.9 298.9h0.8M279.6 347.7h0.8M278.2 356.0h0.8M290.4 340.8h0.8M239.0 294.3h0.8M242.2 321.1h0.8M318.0 321.3h0.8M293.5 334.2h0.8M228.9 334.8h0.8M296.4 332.7h0.8M355.4 330.5h0.8M273.8 342.6h0.8M294.4 314.6h0.8M317.3 309.3h0.8M218.0 334.8h0.8M380.3 319.6h0.8M235.3 324.6h0.8M279.7 302.4h0.8M300.6 373.7h0.8M200.0 322.2h0.8M240.7 330.5h0.8M335.3 333.2h0.8M333.9 324.1h0.8M390.4 345.8h0.8M287.2 335.5h0.8M282.5 337.2h0.8M234.6 339.8h0.8M313.3 331.2h0.8M320.2 320.8h0.8M339.7 298.5h0.8M342.7 321.5h0.8M324.9 367.3h0.8M339.2 350.5h0.8M369.2 322.4h0.8M276.4 296.1h0.8M280.4 357.0h0.8M376.0 327.4h0.8M260.8 368.1h0.8M301.6 349.6h0.8M329.9 318.8h0.8M302.0 314.6h0.8M261.0 333.1h0.8M402.2 365.2h0.8M345.8 371.7h0.8M285.8 298.5h0.8M266.1 331.6h0.8M294.9 324.6h0.8M239.7 345.4h0.8M257.4 325.4h0.8M264.2 339.8h0.8M315.5 363.7h0.8M356.0 320.1h0.8M315.5 318.0h0.8M292.0 353.3h0.8M286.0 328.6h0.8M367.8 332.4h0.8M265.5 298.4h0.8M279.1 343.1h0.8M330.1 348.6h0.8M291.9 310.8h0.8M345.7 343.6h0.8M347.5 324.7h0.8M273.6 318.7h0.8M306.0 346.0h0.8M274.4 335.2h0.8M229.5 323.9h0.8M308.2 329.3h0.8M265.3 314.6h0.8M293.9 306.2h0.8M272.3 302.5h0.8M333.9 291.4h0.8M326.0 311.4h0.8M371.1 324.9h0.8M332.3 324.9h0.8M401.4 330.7h0.8M264.9 308.7h0.8M200.6 348.1h0.8M310.2 357.3h0.8M244.0 316.3h0.8M239.2 335.0h0.8M289.7 391.0h0.8M355.3 344.3h0.8M328.8 324.4h0.8M384.7 354.5h0.8M261.7 307.7h0.8M250.3 345.0h0.8M343.6 309.9h0.8M336.9 341.6h0.8M216.8 321.8h0.8M195.0 337.5h0.8M294.5 308.0h0.8M315.6 347.0h0.8" stroke="#30f040" stroke-width="0.8" fill="none"/>
<path d="M200.5 322.8h0.8M323.7 312.2h0.8M259.0 304.6h0.8M273.3 283.9h0.8M252.4 312.4h0.8M281.0 300.9h0.8M319.2 370.4h0.8M268.7 311.0h0.8M313.1 348.2h0.8M301.2 314.2h0.8M304.0 291.3h0.8M263.6 300.4h0.8M236.0 324.5h0.8M229.6 305.1h0.8M324.6 307.1h0.8M241.6 321.3h0.8M387.0 320.3h0.8M383.0 316.8h0.8M342.2 295.0h0.8M347.4 337.9h0.8M368.7 340.0h0.8M314.3 301.4h0.8M338.0 328.7h0.8M339.1 322.5h0.8M254.3 314.4h0.8M325.3 328.2h0.8M283.4 294.2h0.8M217.9 307.9h0.8M280.3 302.9h0.8M248.5 300.0h0.8M278.9 311.6h0.8M260.0 338.1h0.8M312.9 331.3h0.8M235.3 313.0h0.8M359.0 321.2h0.8M270.4 301.2h0.8M259.7 313.3h0.8M323.2 297.4h0.8M307.5 338.7h0.8M287.3 293.7h0.8M238.9 330.6h0.8M308.5 294.9h0.8M330.9 367.9h0.8M385.7 325.3h0.8M403.0 326.0h0.8M296.8 291.4h0.8M282.1 292.8h0.8M325.7 362.5h0.8M288.1 326.7h0.8M375.9 335.8h0.8M254.6 325.7h0.8M276.7 342.6h0.8M221.4 333.0h0.8M314.2 310.6h0.8M265.0 302.3h0.8M317.3 346.1h0.8M364.1 317.0h0.8M291.4 348.7h0.8M275.3 335.5h0.8M331.5 329.8h0.8M289.1 312.6h0.8M358.8 315.7h0.8M220.2 316.5h0.8M341.9 320.2h0.8M288.7 304.0h0.8M295.1 294.1h0.8M296.6 339.4h0.8M310.7 326.8h0.8M349.0 306.9h0.8M270.8 329.7h0.8M237.1 307.2h0.8M277.3 305.2h0.8M266.6 299.1h0.8M233.7 317.4h0.8M188.5 326.8h0.8M327.9 323.8h0.8M243.0 331.1h0.8M308.7 365.3h0.8M276.5 330.3h0.8M240.5 304.2h0.8M293.4 330.9h0.8M291.8 318.8h0.8M336.2 339.5h0.8M226.5 325.3h0.8M366.4 335.2h0.8M393.7 323.9h0.8M288.9 318.6h0.8M250.1 317.1h0.8M274.6 289.8h0.8M330.3 302.0h0.8M273.1 292.7h0.8M304.4 302.1h0.8M359.0 311.8h0.8M238.6 336.3h0.8M328.9 342.0h0.8M218.6 319.1h0.8M328.0 292.5h0.8M315.1 303.9h0.8M243.3 321.7h0.8M339.4 332.5h0.8M379.0 328.5h0.8M281.9 318.0h0.8M222.4 313.4h0.8M360.8 304.0h0.8M345.4 330.9h0.8M340.9 302.6h0.8M241.5 323.2h0.8M250.3 347.5h0.8M261.9 330.2h0.8M278.2 311.5h0.8M198.3 328.9h0.8M280.1 290.0h0.8M300.8 332.8h0.8M331.6 356.2h0.8M367.1 334.8h0.8M366.7 310.8h0.8M234.7 315.8h0.8M254.7 309.9h0.8M279.6 297.3h0.8M256.6 330.3h0.8M200.5 333.2h0.8M237.4 297.9h0.8M272.1 323.4h0.8M207.1 316.0h0.8M238.7 329.1h0.8M330.5 327.4h0.8M311.5 328.5h0.8M231.6 332.8h0.8M327.8 313.0h0.8M320.3 340.6h0.8M273.3 311.8h0.8M386.4 322.6h0.8M299.9 335.0h0.8M358.2 329.1h0.8M391.9 311.6h0.8M238.4 336.8h0.8M315.7 300.9h0.8M341.3 302.8h0.8M348.5 305.8h0.8M360.1 339.3h0.8M318.1 326.7h0.8M330.5 316.1h0.8M338.5 301.4h0.8M295.3 299.3h0.8M279.8 351.3h0.8M336.6 307.8h0.8M253.1 321.3h0.8M228.9 324.8h0.8M366.4 314.4h0.8M276.7 304.4h0.8M325.3 324.8h0.8M256.1 315.4h0.8M273.8 362.1h0.8M249.8 307.4h0.8M350.0 347.2h0.8M302.5 307.6h0.8M386.1 357.4h0.8M309.9 295.6h0.8M225.4 304.3h0.8M284.9 321.9h0.8M401.0 323.9h0.8M240.2 303.6h0.8M307.0 356.5h0.8M296.3 359.9h0.8M272.5 298.7h0.8M213.7 326.8h0.8M300.6 311.7h0.8M334.1 324.1h0.8M358.6 313.3h0.8M348.5 311.3h0.8M213.3 326.8h0.8M349.6 343.3h0.8M210.2 314.4h0.8M330.2 347.0h0.8M266.5 327.0h0.8M289.7 316.7h0.8M296.1 315.2h0.8M256.0 302.6h0.8M368.3 328.3h0.8M331.0 326.0h0.8M332.2 306.7h0.8M190.6 331.3h0.8M356.1 333.0h0.8M329.9 309.4h0.8M203.6 347.3h0.8M365.1 306.9h0.8M271.6 304.3h0.8M326.9 353.5h0.8M320.5 325.3h0.8M319.5 319.7h0.8M258.9 304.0h0.8M308.9 301.3h0.8M319.3 309.6h0.8M246.4 323.1h0.8M310.9 301.2h0.8M287.7 297.8h0.8M326.4 358.8h0.8M289.9 347.2h0.8M286.7 328.5h0.8M338.0 309.9h0.8M246.2 308.6h0.8M354.8 345.8h0.8M287.8 309.6h0.8M248.9 360.7h0.8M360.5 326.3h0.8M258.3 298.7h0.8M351.6 312.7h0.8M281.7 339.8h0.8M280.0 332.2h0.8M276.5 364.0h0.8M290.8 299.8h0.8M219.0 341.6h0.8M283.0 298.1h0.8M326.3 331.5h0.8M213.5 318.1h0.8M306.4 316.6h0.8M224.4 318.4h0.8M394.5 321.7h0.8M378.7 332.1h0.8M232.2 306.0h0.8M238.5 322.2h0.8M243.8 342.1h0.8M319.4 311.8h0.8M279.9 321.7h0.8M218.5 319.0h0.8M264.4 306.8h0.8M333.4 336.2h0.8M273.8 308.2h0.8M228.6 307.9h0.8M388.0 316.2h0.8M275.2 304.8h0.8M295.4 314.0h0.8M284.0 335.2h0.8M348.4 311.2h0.8M337.4 324.3h0.8M285.9 319.8h0.8M313.6 315.6h0.8M302.5 348.9h0.8M351.0 299.5h0.8M285.2 330.7h0.8M231.3 332.8h0.8M397.6 342.1h0.8M351.1 315.0h0.8M284.7 320.4h0.8M300.5 288.7h0.8M367.5 322.6h0.8M227.3 313.8h0.8M305.2 301.7h0.8M267.3 329.0h0.8M211.9 313.9h0.8M318.8 295.2h0.8M272.1 313.5h0.8M245.0 325.4h0.8M351.9 361.7h0.8M322.8 325.1h0.8M253.8 322.8h0.8M281.4 293.5h0.8M328.1 313.0h0.8M388.3 316.6h0.8M265.1 284.5h0.8M273.1 338.8h0.8M323.9 306.9h0.8M257.3 298.0h0.8M214.7 325.6h0.8M284.2 333.4h0.8M283.0 314.3h0.8M262.1 304.1h0.8M385.3 311.4h0.8M344.4 326.0h0.8M310.0 303.6h0.8M284.0 284.6h0.8M288.5 341.1h0.8M286.3 317.7h0.8M261.0 299.9h0.8M274.6 296.1h0.8M279.4 348.8h0.8M306.5 351.5h0.8M391.4 325.8h0.8M257.9 334.6h0.8M335.0 313.3h0.8M340.3 301.0h0.8M271.6 325.1h0.8M208.2 314.5h0.8M324.9 325.9h0.8M352.7 331.6h0.8M204.6 322.5h0.8M358.5 315.0h0.8M311.9 329.9h0.8M289.5 299.6h0.8M296.7 344.2h0.8M350.1 331.7h0.8M348.6 335.9h0.8M261.2 317.0h0.8M360.7 328.8h0.8M260.1 323.9h0.8M330.2 317.2h0.8M281.0 296.0h0.8M389.7 311.9h0.8M296.3 319.8h0.8M346.3 341.1h0.8M275.9 316.6h0.8M261.3 323.6h0.8M294.5 322.8h0.8M331.8 325.8h0.8M322.0 312.5h0.8M286.3 335.1h0.8M261.3 306.6h0.8M267.3 316.2h0.8M259.5 345.0h0.8M364.3 315.7h0.8M212.2 318.0h0.8M369.7 330.0h0.8M283.8 356.2h0.8M312.5 314.3h0.8M310.4 302.1h0.8M209.6 320.5h0.8M367.3 305.4h0.8M201.2 326.3h0.8M246.0 321.7h0.8M366.7 319.7h0.8M258.6 328.1h0.8M318.9 347.2h0.8M348.9 299.4h0.8M311.4 339.5h0.8M348.3 310.7h0.8M230.0 315.5h0.8M317.4 302.4h0.8M239.9 305.2h0.8M246.6 308.0h0.8M229.7 312.1h0.8M340.3 329.7h0.8M338.0 332.4h0.8M296.2 351.7h0.8M293.5 330.6h0.8M373.8 312.8h0.8M325.5 337.5h0.8M351.8 334.4h0.8M349.9 338.7h0.8M238.7 334.4h0.8M358.6 327.8h0.8M345.2 337.2h0.8M302.7 306.3h0.8M368.7 311.9h0.8M378.7 321.0h0.8M330.0 302.9h0.8M357.8 350.9h0.8M313.5 314.5h0.8M253.7 336.8h0.8M304.7 296.9h0.8M258.2 328.7h0.8M205.8 308.7h0.8M287.9 334.0h0.8M389.4 314.5h0.8M303.8 308.3h0.8M337.2 293.5h0.8M324.4 334.8h0.8M294.8 309.8h0.8M288.3 300.7h0.8M320.0 290.8h0.8M265.0 343.5h0.8M247.0 306.6h0.8M265.5 318.4h0.8M373.3 341.6h0.8M365.2 322.0h0.8M396.1 334.9h0.8M229.6 318.8h0.8M305.4 293.6h0.8M265.5 304.1h0.8M274.1 282.0h0.8M289.3 341.1h0.8M296.7 338.0h0.8M353.1 332.6h0.8M290.4 314.5h0.8M266.1 297.9h0.8M264.9 341.6h0.8M296.0 338.2h0.8M351.2 326.8h0.8M290.3 334.1h0.8M353.1 343.4h0.8M331.2 306.5h0.8M366.1 316.5h0.8M217.6 309.3h0.8M338.5 321.6h0.8M258.4 322.2h0.8M262.7 318.6h0.8M259.5 306.1h0.8M217.2 318.1h0.8M286.0 330.2h0.8M232.4 316.5h0.8M300.8 337.4h0.8M330.9 348.9h0.8M240.1 317.8h0.8M340.9 363.8h0.8M289.7 327.5h0.8M369.0 337.3h0.8M271.4 304.4h0.8M333.0 313.3h0.8M346.5 326.6h0.8M351.3 317.5h0.8M289.1 302.9h0.8M252.4 296.7h0.8M274.0 305.7h0.8M369.3 303.8h0.8M354.1 327.2h0.8M373.9 327.9h0.8M256.9 309.3h0.8M304.7 294.9h0.8M319.0 307.3h0.8M281.5 289.0h0.8M231.2 329.9h0.8M297.7 332.6h0.8M335.0 307.4h0.8M230.7 311.9h0.8M249.6 318.7h0.8M292.6 292.1h0.8M236.4 295.7h0.8M393.3 325.7h0.8M242.5 343.1h0.8M280.2 312.4h0.8M256.0 313.5h0.8M323.9 357.7h0.8M256.9 318.4h0.8M315.3 295.5h0.8M248.2 329.7h0.8M261.7 319.3h0.8M341.7 314.0h0.8M376.2 311.3h0.8M393.9 318.0h0.8M247.4 311.4h0.8M387.7 322.2h0.8M331.4 355.7h0.8M213.7 332.0h0.8M236.1 309.2h0.8M301.2 307.2h0.8M339.8 347.2h0.8M337.9 380.0h0.8M392.3 327.3h0.8M318.6 297.4h0.8M318.1 312.9h0.8M361.4 333.0h0.8M279.3 283.6h0.8M286.0 337.9h0.8M263.6 333.7h0.8M323.3 308.9h0.8M228.4 343.9h0.8M294.8 328.0h0.8M320.2 311.0h0.8M278.0 302.9h0.8M290.1 289.5h0.8M272.8 320.5h0.8M403.9 325.3h0.8M279.7 318.9h0.8M355.6 335.5h0.8M259.7 297.3h0.8M329.8 295.3h0.8M387.5 315.9h0.8M273.1 293.4h0.8M245.1 305.5h0.8M308.6 313.0h0.8M204.9 349.0h0.8M292.6 342.1h0.8M258.1 320.0h0.8M367.0 337.2h0.8M344.2 313.9h0.8M256.4 325.7h0.8M322.5 317.0h0.8M326.0 312.5h0.8M281.8 294.1h0.8M275.0 296.0h0.8M263.6 285.5h0.8M247.8 323.8h0.8M323.6 337.9h0.8M293.1 315.4h0.8M314.4 357.0h0.8M215.9 321.6h0.8M351.5 337.9h0.8M331.5 347.4h0.8M263.6 330.8h0.8M260.2 313.6h0.8M344.9 310.4h0.8M348.1 323.3h0.8M327.2 304.6h0.8M230.2 321.1h0.8M290.9 322.2h0.8M333.3 348.8h0.8M228.3 325.6h0.8M294.9 329.1h0.8M260.1 311.9h0.8M283.4 316.9h0.8M366.9 317.9h0.8M363.6 306.8h0.8M340.5 305.1h0.8M368.3 316.3h0.8M268.1 320.7h0.8M267.4 311.4h0.8M259.8 313.8h0.8M276.5 314.9h0.8M281.1 283.4h0.8M238.1 311.3h0.8M221.7 322.8h0.8M196.3 314.7h0.8M299.3 321.6h0.8M269.3 321.1h0.8M393.1 310.8h0.8M253.6 310.7h0.8M254.2 307.5h0.8M369.2 340.5h0.8M353.1 309.2h0.8M238.7 304.0h0.8M306.2 310.7h0.8M257.8 331.8h0.8M272.9 317.4h0.8M279.4 330.3h0.8M381.0 319.7h0.8M226.0 327.9h0.8M269.8 301.3h0.8M244.0 304.4h0.8M276.5 303.5h0.8M315.3 290.2h0.8M276.7 301.8h0.8M218.6 316.9h0.8M315.9 318.0h0.8M230.0 312.1h0.8M273.6 291.8h0.8M330.7 301.5h0.8M281.4 323.2h0.8M346.9 335.6h0.8M374.6 322.8h0.8M213.8 314.8h0.8M247.0 337.6h0.8M361.0 316.1h0.8M310.5 347.4h0.8M316.4 310.3h0.8M311.2 308.3h0.8M322.8 309.0h0.8M265.6 340.1h0.8M323.2 306.7h0.8M349.6 318.5h0.8M343.3 323.5h0.8M213.7 311.3h0.8M272.6 310.8h0.8M235.6 311.5h0.8M241.5 324.7h0.8M293.2 324.3h0.8M353.8 343.4h0.8M373.3 316.3h0.8M312.7 341.4h0.8M366.4 315.3h0.8M249.5 322.8h0.8M314.2 309.1h0.8M299.3 318.1h0.8M331.0 308.8h0.8M230.4 334.1h0.8M256.9 328.3h0.8M286.6 340.6h0.8M332.3 340.1h0.8M301.6 327.1h0.8M310.8 336.0h0.8M274.3 337.4h0.8M247.1 311.5h0.8M301.1 354.9h0.8M326.0 334.0h0.8M303.5 302.3h0.8M280.7 310.5h0.8M247.6 313.7h0.8M287.4 300.2h0.8M219.0 325.5h0.8M343.0 326.2h0.8M232.4 320.2h0.8M245.5 321.5h0.8M290.4 325.9h0.8M366.6 340.0h0.8M286.0 307.1h0.8M335.3 296.8h0.8M380.5 336.9h0.8M241.2 308.7h0.8M231.0 317.7h0.8M220.5 312.6h0.8M331.6 357.1h0.8M336.8 370.7h0.8M315.9 352.0h0.8M281.0 303.2h0.8M287.8 297.1h0.8M313.9 318.3h0.8M363.8 322.2h0.8M252.0 355.9h0.8M249.3 293.8h0.8M276.7 301.3h0.8M309.6 286.4h0.8M296.8 314.4h0.8M280.2 293.0h0.8M358.2 316.0h0.8M247.9 310.0h0.8M326.0 314.6h0.8M307.0 324.0h0.8M239.2 329.8h0.8M278.3 333.7h0.8M382.4 340.0h0.8M293.5 295.0h0.8M266.4 311.1h0.8M363.9 320.0h0.8M328.7 307.5h0.8M275.6 335.3h0.8M261.8 335.5h0.8M319.6 308.2h0.8M310.4 340.4h0.8M282.2 326.7h0.8M377.3 314.1h0.8M259.0 327.6h0.8M318.1 300.0h0.8M275.4 351.1h0.8M370.1 304.7h0.8M300.4 300.7h0.8M249.5 326.2h0.8M318.1 340.6h0.8M307.0 316.6h0.8M313.8 339.1h0.8M275.0 329.0h0.8M332.3 345.7h0.8M276.2 303.2h0.8M233.3 319.9h0.8M303.5 325.6h0.8M326.3 331.2h0.8M346.5 325.2h0.8M287.6 328.8h0.8M337.1 314.5h0.8M207.9 325.9h0.8M254.5 330.1h0.8M339.0 315.9h0.8M307.1 301.8h0.8M313.7 354.2h0.8M370.5 316.6h0.8M341.9 326.0h0.8M335.0 332.8h0.8M289.7 310.1h0.8M228.7 305.7h0.8M318.4 296.9h0.8M354.1 309.7h0.8M367.3 312.0h0.8M312.2 319.7h0.8M283.8 294.6h0.8M381.8 323.2h0.8M327.5 368.2h0.8M257.7 326.1h0.8M279.5 290.2h0.8M294.8 298.9h0.8M255.7 303.3h0.8M333.2 320.5h0.8M329.4 335.5h0.8M364.0 322.6h0.8M287.6 295.0h0.8M288.6 341.9h0.8M307.1 294.0h0.8M214.8 332.1h0.8M351.3 333.3h0.8M279.3 287.8h0.8M317.7 304.7h0.8M373.2 327.6h0.8M334.4 303.3h0.8M365.9 308.1h0.8M283.6 312.1h0.8M246.8 322.8h0.8M257.7 314.1h0.8M309.7 311.3h0.8M281.3 323.6h0.8M302.9 309.5h0.8M309.2 315.6h0.8M271.4 343.8h0.8M246.1 313.2h0.8M281.9 301.9h0.8M273.4 314.1h0.8M320.9 320.9h0.8M384.2 319.3h0.8M290.4 293.6h0.8M292.3 339.4h0.8M318.1 340.2h0.8M260.3 302.1h0.8M323.3 294.4h0.8M346.9 317.1h0.8M228.0 325.0h0.8M340.6 313.6h0.8M382.0 329.4h0.8M264.1 306.8h0.8M251.4 314.7h0.8M216.5 327.3h0.8M299.2 317.3h0.8M261.7 295.7h0.8M280.4 288.4h0.8M338.9 297.8h0.8M280.9 390.7h0.8M338.4 322.6h0.8M193.3 313.2h0.8M243.1 319.5h0.8M284.6 326.5h0.8M313.4 340.2h0.8M266.2 333.3h0.8M304.8 299.5h0.8M209.2 354.4h0.8M269.3 291.9h0.8M234.3 322.7h0.8M333.1 318.6h0.8M352.9 323.4h0.8M366.5 304.9h0.8M290.2 293.6h0.8M311.2 309.3h0.8M308.8 334.9h0.8M281.7 297.9h0.8M352.6 313.1h0.8M262.6 316.4h0.8M253.7 300.0h0.8M265.8 341.3h0.8M351.7 341.6h0.8M309.5 335.1h0.8M265.4 315.4h0.8M263.8 295.5h0.8M260.1 315.4h0.8M299.7 294.5h0.8M280.5 348.0h0.8M275.4 374.1h0.8M378.1 320.8h0.8M276.0 340.8h0.8M337.4 342.4h0.8M279.4 350.9h0.8M323.7 327.4h0.8M363.9 317.5h0.8M306.5 318.3h0.8M346.0 306.5h0.8M254.0 332.1h0.8M335.2 315.4h0.8M342.5 341.8h0.8M266.6 311.6h0.8M304.7 344.7h0.8M298.9 338.8h0.8M356.6 317.9h0.8M349.9 330.4h0.8M355.6 326.8h0.8M267.5 333.1h0.8M281.6 289.4h0.8M260.6 341.5h0.8M258.0 327.8h0.8M268.1 283.5h0.8M387.2 331.9h0.8M375.8 336.0h0.8M295.0 306.7h0.8M358.5 327.1h0.8M314.0 335.1h0.8M276.4 295.2h0.8M366.7 324.9h0.8M341.2 324.3h0.8M299.0 281.0h0.8M396.5 317.4h0.8M316.5 313.3h0.8M231.0 312.5h0.8M385.5 314.5h0.8M349.5 313.0h0.8M327.5 368.4h0.8M331.5 303.8h0.8M205.9 308.8h0.8M356.2 326.6h0.8M253.4 309.1h0.8M231.8 298.8h0.8M312.1 299.5h0.8M204.7 322.2h0.8M330.8 302.6h0.8M306.7 337.4h0.8M316.5 345.6h0.8M320.7 344.3h0.8M253.0 334.2h0.8M326.9 352.4h0.8M345.2 348.5h0.8M334.9 330.2h0.8M339.1 332.9h0.8M300.6 335.3h0.8M277.5 299.4h0.8M307.8 298.2h0.8M354.5 316.3h0.8M328.3 333.0h0.8M305.5 309.5h0.8M269.8 290.4h0.8M324.7 327.3h0.8M271.1 313.5h0.8M386.5 339.2h0.8M377.8 328.6h0.8M384.6 329.9h0.8M357.7 311.6h0.8M298.8 297.1h0.8M291.8 285.9h0.8M371.5 311.9h0.8M330.1 319.8h0.8M363.5 312.0h0.8M258.8 304.0h0.8M306.0 296.8h0.8M260.5 365.1h0.8M298.6 314.2h0.8M294.2 317.6h0.8M343.4 342.7h0.8M332.9 307.5h0.8M341.6 346.1h0.8M301.3 290.4h0.8M261.3 307.4h0.8M322.3 354.2h0.8M370.9 311.0h0.8M248.7 332.0h0.8M282.9 300.8h0.8M373.7 316.2h0.8M208.3 326.9h0.8M329.7 348.5h0.8M388.1 321.6h0.8M365.6 314.5h0.8M243.2 342.0h0.8M367.5 322.9h0.8M289.3 310.3h0.8M250.6 308.3h0.8M304.0 296.8h0.8M379.4 323.2h0.8M261.8 320.3h0.8M235.5 320.6h0.8M220.6 322.3h0.8M340.2 306.9h0.8M370.0 324.4h0.8M368.1 326.7h0.8M225.0 336.1h0.8M300.7 320.2h0.8M325.5 300.8h0.8M367.2 327.6h0.8M260.0 318.5h0.8M313.9 291.1h0.8M282.3 321.1h0.8M380.9 317.4h0.8M253.9 309.1h0.8M218.9 325.0h0.8M382.3 343.2h0.8M346.3 324.4h0.8M297.9 293.9h0.8M276.4 298.1h0.8M243.3 340.3h0.8M329.9 308.4h0.8M355.4 316.9h0.8M226.4 322.8h0.8M303.0 329.8h0.8M254.7 308.8h0.8M348.5 312.4h0.8M306.5 317.4h0.8M267.5 285.8h0.8M226.9 324.2h0.8M309.3 336.1h0.8M314.1 286.9h0.8M320.6 304.5h0.8M261.7 301.5h0.8M274.3 304.2h0.8M322.1 304.9h0.8M315.0 313.5h0.8M315.6 337.8h0.8M297.5 285.0h0.8M262.1 302.6h0.8M393.0 319.9h0.8M328.6 364.6h0.8M235.4 310.2h0.8M369.0 344.0h0.8M348.3 316.1h0.8M232.0 307.8h0.8M232.4 327.8h0.8M292.7 335.1h0.8M347.7 319.4h0.8M368.7 304.9h0.8M392.6 316.2h0.8M240.1 308.9h0.8M224.4 323.0h0.8M287.2 339.2h0.8M279.3 296.7h0.8M308.8 301.8h0.8M264.8 304.1h0.8M232.5 315.8h0.8M400.5 343.5h0.8M308.5 326.7h0.8M400.7 331.5h0.8M352.5 331.4h0.8M292.3 292.2h0.8M311.3 359.1h0.8M270.5 306.5h0.8M381.4 312.6h0.8M318.0 305.9h0.8M360.7 325.7h0.8M352.4 331.5h0.8M248.9 310.5h0.8M330.7 339.5h0.8M363.5 309.8h0.8M316.8 312.3h0.8M307.1 308.4h0.8M305.6 301.6h0.8M282.4 305.3h0.8M309.7 297.6h0.8M287.7 314.0h0.8M285.7 306.3h0.8M288.0 306.1h0.8M337.7 329.5h0.8M324.9 306.4h0.8M327.7 330.6h0.8M241.6 300.3h0.8M285.6 336.3h0.8M303.4 290.2h0.8M263.8 339.2h0.8M281.6 299.9h0.8M264.4 322.5h0.8M219.5 315.4h0.8M309.9 296.8h0.8M337.4 356.2h0.8M367.9 327.9h0.8M285.9 325.0h0.8M314.6 358.9h0.8M284.0 320.6h0.8M289.1 323.7h0.8M353.2 335.3h0.8M277.3 307.7h0.8M261.7 312.7h0.8M326.4 330.7h0.8M305.8 315.3h0.8M293.8 302.6h0.8M288.4 297.1h0.8M327.8 334.6h0.8M301.4 312.7h0.8M309.2 347.2h0.8M408.4 319.2h0.8M306.3 296.1h0.8M319.2 323.3h0.8M335.9 359.5h0.8M224.8 333.2h0.8M316.3 323.7h0.8M300.5 311.9h0.8M306.5 329.1h0.8M232.8 319.9h0.8M297.0 296.6h0.8M295.6 336.0h0.8M374.5 326.4h0.8M211.4 330.7h0.8M326.7 320.4h0.8M200.0 332.5h0.8M331.0 331.1h0.8M226.6 345.8h0.8M262.8 327.1h0.8M224.7 320.3h0.8M289.1 323.7h0.8M330.9 314.6h0.8M313.7 353.6h0.8M226.2 315.4h0.8M268.5 291.2h0.8M232.4 326.7h0.8M285.2 330.5h0.8M320.7 353.1h0.8M236.7 324.7h0.8M273.2 332.4h0.8M202.2 317.8h0.8M233.6 317.0h0.8M278.7 311.0h0.8M305.3 297.4h0.8M352.9 331.7h0.8M386.6 309.7h0.8M324.6 301.3h0.8M295.5 337.0h0.8M270.3 305.6h0.8M285.4 301.2h0.8M307.2 296.6h0.8M379.4 316.6h0.8M281.5 287.8h0.8M259.4 310.2h0.8M241.5 335.6h0.8M228.4 310.8h0.8M365.1 320.4h0.8M324.1 296.7h0.8M280.6 303.2h0.8M355.3 317.4h0.8M290.8 293.0h0.8M363.4 330.1h0.8M317.5 300.2h0.8M284.5 357.1h0.8M357.4 315.5h0.8M301.1 292.8h0.8M329.4 313.0h0.8M267.3 310.9h0.8M267.5 296.2h0.8M384.1 330.1h0.8M310.8 340.3h0.8M367.4 304.6h0.8M291.9 302.6h0.8M362.9 320.8h0.8M336.5 327.4h0.8M374.9 321.0h0.8M224.0 327.9h0.8M298.8 339.7h0.8M285.9 307.2h0.8M332.7 317.6h0.8M330.8 333.5h0.8M272.1 314.4h0.8M378.3 309.4h0.8M292.4 308.4h0.8M212.4 335.4h0.8M315.9 339.6h0.8M251.5 350.9h0.8M310.6 322.7h0.8M297.8 338.1h0.8M300.5 336.2h0.8M319.6 358.3h0.8M270.5 301.6h0.8M262.8 295.3h0.8M232.1 315.6h0.8M276.1 296.3h0.8M336.4 298.4h0.8M263.5 327.1h0.8M310.3 331.1h0.8M249.5 340.2h0.8M222.1 316.2h0.8M289.6 345.5h0.8M370.5 322.9h0.8M216.6 316.5h0.8M331.3 308.1h0.8M314.1 305.4h0.8M377.8 337.5h0.8M317.3 337.3h0.8M226.8 341.2h0.8M260.7 340.2h0.8M299.8 307.1h0.8M392.9 314.4h0.8M336.4 365.8h0.8M337.2 338.5h0.8M290.0 291.4h0.8M292.0 320.9h0.8M276.7 311.8h0.8M340.3 342.3h0.8M337.8 336.1h0.8M299.1 330.9h0.8M337.4 325.5h0.8M322.6 299.3h0.8M363.7 328.5h0.8M211.7 316.1h0.8M263.5 312.4h0.8M324.7 324.8h0.8M361.3 321.3h0.8M294.0 324.4h0.8M382.1 318.5h0.8M264.0 321.2h0.8M300.7 319.2h0.8M266.8 330.6h0.8M318.1 292.7h0.8M278.5 339.5h0.8M221.1 326.8h0.8M332.8 328.6h0.8M354.0 313.7h0.8M262.8 331.6h0.8M348.9 299.9h0.8M267.5 283.8h0.8M286.7 300.5h0.8M328.4 360.0h0.8M274.1 316.5h0.8M313.6 344.4h0.8M259.2 313.7h0.8M377.8 350.6h0.8M272.2 321.0h0.8M374.9 344.3h0.8M338.1 348.4h0.8M373.1 339.9h0.8M254.2 311.9h0.8M311.7 355.1h0.8M308.7 300.9h0.8M299.7 359.6h0.8M244.7 303.3h0.8M317.2 366.8h0.8M320.5 317.2h0.8M322.5 316.2h0.8M300.1 350.9h0.8M346.1 322.1h0.8M245.2 334.3h0.8M223.0 342.0h0.8M227.7 321.8h0.8M261.5 344.4h0.8M356.4 321.4h0.8M304.3 331.1h0.8M359.5 303.3h0.8M291.0 329.9h0.8M318.3 318.5h0.8M188.3 352.0h0.8M371.0 319.9h0.8M277.9 303.9h0.8M318.7 312.5h0.8M386.7 306.1h0.8M368.9 328.8h0.8M267.9 306.2h0.8M400.9 337.7h0.8M375.6 310.8h0.8M396.2 328.2h0.8M283.4 324.6h0.8M243.2 311.5h0.8M227.1 331.6h0.8M327.3 365.7h0.8M320.9 310.4h0.8M386.0 329.5h0.8M272.1 299.5h0.8M320.9 337.2h0.8M276.6 294.2h0.8M301.2 314.5h0.8M305.1 309.9h0.8M295.4 350.5h0.8M330.7 314.1h0.8M306.5 335.9h0.8M234.2 331.0h0.8M245.4 312.0h0.8M318.7 294.4h0.8M269.1 339.0h0.8M272.2 308.3h0.8M264.6 320.5h0.8M313.2 307.0h0.8M344.9 319.3h0.8M308.6 333.3h0.8M338.2 338.6h0.8M331.2 306.3h0.8M268.3 331.2h0.8M258.2 310.4h0.8M255.6 318.9h0.8M338.8 305.4h0.8M348.1 305.7h0.8M286.0 290.4h0.8M267.5 328.5h0.8M339.7 306.2h0.8M337.1 317.2h0.8M384.9 324.8h0.8M372.5 332.8h0.8M327.7 320.7h0.8M364.6 307.9h0.8M293.1 317.1h0.8M323.9 345.7h0.8M284.5 344.1h0.8M281.6 288.6h0.8M222.0 309.7h0.8M283.9 317.7h0.8M254.5 302.3h0.8M295.3 358.1h0.8M316.7 329.9h0.8M243.7 305.7h0.8M287.0 301.6h0.8M322.2 329.8h0.8M221.0 341.5h0.8M350.3 334.1h0.8M270.9 318.0h0.8M201.6 313.1h0.8M394.9 324.3h0.8M293.6 326.4h0.8M273.1 297.6h0.8M301.5 291.3h0.8M332.6 323.3h0.8M280.7 312.4h0.8M275.7 300.5h0.8M315.6 293.5h0.8M329.4 349.3h0.8M333.1 312.1h0.8M275.7 338.9h0.8M253.6 310.6h0.8M264.0 330.3h0.8M296.4 322.5h0.8M287.6 289.7h0.8M249.7 320.3h0.8M233.1 308.7h0.8M265.3 352.1h0.8M368.5 321.5h0.8M313.2 322.2h0.8M324.1 299.5h0.8M223.5 328.8h0.8M292.5 305.7h0.8M293.7 312.5h0.8M309.8 295.3h0.8M284.2 342.3h0.8M318.2 318.2h0.8M281.9 333.5h0.8M314.1 301.5h0.8M322.6 349.9h0.8M307.8 291.2h0.8M327.0 363.9h0.8M279.4 284.0h0.8M391.5 319.3h0.8M260.4 298.6h0.8M210.9 316.3h0.8M386.8 316.2h0.8M218.4 322.1h0.8M349.7 320.3h0.8M241.3 320.2h0.8M328.4 309.1h0.8M360.4 301.3h0.8M245.3 329.7h0.8M356.5 318.0h0.8M345.7 328.9h0.8M242.2 337.2h0.8M242.8 338.6h0.8M296.4 355.0h0.8M232.5 325.9h0.8M350.4 316.8h0.8M309.2 329.3h0.8M348.4 308.5h0.8M255.1 329.8h0.8M221.6 315.8h0.8M326.6 289.0h0.8M265.7 316.2h0.8M292.2 349.4h0.8M376.2 327.0h0.8M329.4 315.0h0.8M217.9 314.6h0.8M328.7 303.8h0.8M283.0 339.8h0.8M251.8 291.0h0.8M246.6 325.5h0.8M261.6 295.7h0.8M275.5 369.7h0.8M363.1 321.6h0.8M358.6 312.9h0.8M314.6 312.5h0.8M263.0 295.2h0.8M290.0 342.4h0.8M370.2 321.8h0.8M257.2 304.4h0.8M215.7 325.0h0.8M234.2 306.8h0.8M282.8 300.4h0.8M379.3 309.2h0.8M364.8 320.5h0.8M335.8 314.8h0.8M297.1 289.7h0.8M317.7 339.9h0.8M376.5 332.6h0.8M216.1 326.0h0.8M333.5 314.5h0.8M353.0 317.3h0.8M272.5 286.6h0.8M309.3 305.0h0.8M306.9 300.0h0.8M267.0 303.8h0.8M229.0 311.5h0.8M303.1 324.4h0.8M315.1 308.9h0.8M263.0 338.9h0.8M304.9 329.8h0.8M327.9 320.4h0.8M399.4 330.5h0.8M228.3 326.7h0.8M353.8 338.7h0.8M268.8 305.5h0.8M319.5 288.3h0.8M236.5 302.6h0.8M293.7 332.7h0.8M348.3 315.1h0.8M239.4 327.4h0.8M190.1 331.6h0.8M319.8 303.9h0.8M221.4 315.6h0.8M259.9 321.2h0.8M328.0 351.1h0.8M363.3 338.0h0.8M338.3 315.5h0.8M296.5 348.9h0.8M354.5 363.2h0.8M317.5 298.8h0.8M292.2 303.5h0.8M293.3 324.8h0.8M341.8 335.5h0.8M332.8 327.4h0.8M319.8 361.4h0.8M254.5 305.3h0.8M235.0 320.7h0.8M339.5 308.8h0.8M299.7 320.9h0.8M287.7 302.9h0.8M377.1 322.7h0.8M292.3 331.0h0.8M257.3 293.3h0.8M315.2 303.2h0.8M258.4 329.8h0.8M251.5 291.5h0.8M269.5 325.9h0.8M313.4 336.6h0.8M313.7 320.9h0.8M329.6 330.0h0.8M251.3 330.2h0.8M319.0 349.7h0.8M211.8 327.3h0.8M298.1 324.5h0.8M317.5 366.6h0.8M321.7 303.3h0.8M349.1 331.6h0.8M317.6 350.4h0.8M263.9 318.6h0.8M281.1 290.5h0.8M315.0 357.7h0.8M291.6 283.8h0.8M285.6 342.4h0.8M289.3 300.0h0.8M351.6 327.0h0.8M288.3 292.6h0.8M283.2 304.3h0.8M208.2 315.6h0.8M256.4 293.4h0.8M338.2 316.8h0.8M236.4 322.8h0.8M221.6 321.9h0.8M314.2 293.8h0.8M336.0 346.2h0.8M339.1 350.6h0.8M379.5 316.3h0.8M346.3 339.9h0.8M372.6 331.9h0.8M333.9 297.6h0.8M324.5 358.6h0.8M310.3 343.2h0.8M310.8 338.1h0.8M281.0 293.9h0.8M286.2 324.7h0.8M270.8 297.3h0.8M263.6 304.0h0.8M263.9 316.0h0.8M280.4 319.8h0.8M308.1 310.1h0.8M278.0 317.6h0.8M328.5 306.0h0.8M289.3 300.1h0.8M351.2 317.1h0.8M334.0 311.9h0.8M334.9 323.7h0.8M270.5 340.9h0.8M387.1 306.8h0.8M315.9 315.4h0.8M321.3 312.9h0.8M310.4 351.9h0.8M247.3 317.1h0.8M300.8 290.3h0.8M218.8 342.1h0.8M310.3 315.5h0.8M261.1 352.9h0.8M313.8 335.2h0.8M230.0 328.6h0.8M239.5 332.9h0.8M341.7 308.8h0.8M310.4 336.1h0.8M252.8 295.1h0.8M266.9 310.3h0.8M297.9 296.6h0.8M300.0 288.3h0.8M230.6 321.1h0.8M312.5 346.0h0.8M221.4 326.5h0.8M336.5 324.4h0.8M304.9 311.1h0.8M273.5 309.4h0.8M342.5 310.1h0.8M274.1 340.8h0.8M267.0 302.4h0.8M199.6 322.4h0.8M334.0 322.1h0.8M227.6 308.2h0.8M270.2 328.3h0.8M297.5 348.1h0.8M350.3 308.7h0.8M255.4 314.2h0.8M387.2 315.9h0.8M349.7 334.2h0.8M242.7 321.1h0.8M344.1 338.3h0.8M291.8 339.5h0.8M348.4 300.2h0.8M244.6 296.0h0.8M355.1 309.6h0.8M317.6 307.7h0.8M303.1 352.2h0.8M329.0 334.8h0.8M349.4 350.2h0.8M253.0 319.9h0.8M313.7 324.8h0.8M230.4 308.8h0.8M277.3 321.7h0.8M312.5 317.1h0.8M320.0 319.8h0.8M323.1 325.2h0.8M222.0 331.7h0.8M329.2 304.7h0.8M350.4 330.3h0.8M262.3 322.5h0.8M197.7 321.6h0.8M298.9 320.5h0.8M396.2 313.6h0.8M249.5 328.6h0.8M248.6 311.8h0.8M309.7 319.7h0.8M397.8 321.7h0.8M281.5 327.4h0.8M312.4 305.7h0.8M294.7 299.1h0.8M219.5 303.5h0.8M380.1 327.8h0.8M249.7 353.4h0.8M341.1 340.2h0.8M336.4 320.3h0.8M221.8 299.2h0.8M303.2 316.2h0.8M320.2 312.1h0.8M345.7 313.8h0.8M281.1 302.0h0.8M337.1 335.2h0.8M372.5 338.8h0.8M261.3 298.6h0.8M294.3 301.0h0.8M340.9 318.5h0.8M328.5 384.8h0.8M322.5 338.2h0.8M337.4 332.9h0.8M275.5 330.1h0.8M383.4 306.9h0.8M357.1 329.2h0.8M331.0 309.3h0.8M317.3 322.8h0.8M284.7 307.8h0.8M325.4 322.5h0.8M261.4 318.5h0.8M248.8 332.3h0.8M246.2 309.0h0.8M249.1 304.7h0.8M225.7 312.6h0.8M368.4 318.2h0.8M269.6 341.2h0.8M324.9 341.6h0.8M347.8 314.3h0.8M271.5 325.1h0.8M261.2 300.4h0.8M320.1 374.7h0.8M315.3 333.5h0.8M334.3 320.4h0.8M323.9 297.8h0.8M269.6 299.7h0.8M287.1 348.1h0.8M291.5 329.0h0.8M381.7 305.8h0.8M285.8 294.5h0.8M367.5 309.0h0.8M287.4 330.1h0.8M319.3 309.0h0.8M338.0 301.4h0.8M232.5 306.2h0.8M349.0 311.3h0.8M206.2 345.5h0.8M345.3 303.3h0.8M303.4 330.5h0.8M293.6 316.8h0.8M282.4 334.5h0.8M320.4 328.7h0.8M279.5 326.3h0.8M284.6 302.4h0.8M291.6 325.5h0.8M352.8 338.5h0.8M312.9 367.1h0.8M255.3 315.3h0.8M260.8 342.2h0.8M307.6 287.5h0.8M211.8 314.9h0.8M248.9 310.8h0.8M278.0 311.6h0.8M374.7 320.4h0.8M360.2 334.5h0.8M286.2 304.4h0.8M258.1 319.9h0.8M339.9 304.2h0.8M221.9 316.6h0.8M292.1 303.8h0.8M259.0 315.1h0.8M339.3 328.3h0.8M270.7 361.0h0.8M315.0 317.8h0.8M245.8 319.4h0.8M293.5 294.0h0.8M259.3 337.0h0.8M321.2 303.1h0.8M262.1 334.4h0.8M222.5 324.9h0.8M261.2 330.3h0.8M222.3 304.0h0.8M349.2 322.2h0.8M282.9 336.3h0.8M325.4 317.9h0.8M349.6 332.2h0.8M283.0 342.4h0.8M351.6 319.2h0.8M303.5 302.3h0.8M268.5 323.5h0.8M332.0 371.5h0.8M320.4 350.3h0.8M306.2 316.8h0.8M316.6 313.7h0.8M228.0 327.4h0.8M237.5 309.1h0.8M321.5 330.2h0.8M263.5 321.4h0.8M315.2 349.3h0.8M277.6 334.9h0.8M304.6 354.0h0.8M242.3 320.4h0.8M230.9 324.1h0.8M283.0 311.4h0.8M399.9 327.2h0.8" stroke="#30f040" stroke-width="0.8" fill="none"/>
<path d="M185.5 314.5L281.0 274.5M188.5 315.4L284.0 275.3M191.5 316.4L286.9 276.2M194.5 317.3L289.9 277.0M197.5 318.2L292.9 277.8M200.6 319.2L295.8 278.6M203.6 320.1L298.8 279.5M206.6 321.0L301.8 280.3M209.6 322.0L304.7 281.1M212.6 322.9L307.7 282.0M215.6 323.8L310.7 282.8M218.6 324.8L313.6 283.6M221.6 325.7L316.6 284.5M224.6 326.6L319.6 285.3M227.7 327.5L322.5 286.1M230.7 328.5L325.5 286.9M233.7 329.4L328.5 287.8M236.7 330.3L331.4 288.6M239.7 331.3L334.4 289.4M242.7 332.2L337.4 290.3M245.7 333.1L340.3 291.1M248.7 334.1L343.3 291.9M251.8 335.0L346.2 292.8M254.8 335.9L349.2 293.6M257.8 336.9L352.2 294.4M260.8 337.8L355.1 295.2M263.8 338.7L358.1 296.1M266.8 339.7L361.1 296.9M269.8 340.6L364.0 297.7M272.8 341.5L367.0 298.6M275.8 342.5L370.0 299.4M278.9 343.4L372.9 300.2M281.9 344.3L375.9 301.0M284.9 345.2L378.9 301.9M287.9 346.2L381.8 302.7M290.9 347.1L384.8 303.5M293.9 348.0L387.8 304.4M296.9 349.0L390.7 305.2M299.9 349.9L393.7 306.0M302.9 350.8L396.7 306.9M306.0 351.8L399.6 307.7M309.0 352.7L402.6 308.5M312.0 353.6L405.6 309.3M315.0 354.6L408.5 310.2M318.0 355.5L411.5 311.0" stroke="#2020ff" stroke-width="0.92" stroke-dasharray="1.4 0.5" fill="none"/>
<path d="M230.5 325.5h0.9M407.3 309.5h0.9M197.3 303.9h0.9M235.4 325.8h0.9M367.2 297.6h0.9M340.2 317.9h0.9M225.0 324.8h0.9M207.4 311.3h0.9M355.7 285.5h0.9M370.4 294.8h0.9M238.2 326.0h0.9M295.0 280.0h0.9M221.7 296.8h0.9M263.2 277.9h0.9M192.2 313.8h0.9M234.3 328.1h0.9M274.4 276.8h0.9M265.5 280.4h0.9M267.2 281.1h0.9M326.4 344.7h0.9M400.2 305.1h0.9M203.4 299.5h0.9M202.8 310.9h0.9M377.4 303.0h0.9M390.5 305.8h0.9M350.4 335.8h0.9M207.4 317.4h0.9M220.9 324.7h0.9M370.0 297.8h0.9M388.8 306.6h0.9M228.4 290.2h0.9M221.1 301.5h0.9M239.0 330.7h0.9M321.9 346.8h0.9M316.6 281.4h0.9M318.7 283.4h0.9M253.8 334.3h0.9M193.4 306.8h0.9M339.6 309.2h0.9M349.4 315.1h0.9M276.2 340.7h0.9M188.0 308.0h0.9M195.1 315.1h0.9M334.1 341.4h0.9M341.6 340.8h0.9M278.7 275.8h0.9M351.9 317.4h0.9M313.1 343.5h0.9M223.0 301.8h0.9M204.0 319.9h0.9M337.7 338.4h0.9M191.9 308.5h0.9M308.1 348.1h0.9M271.8 335.2h0.9M216.9 320.3h0.9M372.4 321.6h0.9M284.1 274.5h0.9M295.2 341.6h0.9M257.4 320.8h0.9M321.6 347.9h0.9M376.2 301.1h0.9M209.2 306.1h0.9M339.8 341.8h0.9M257.7 276.4h0.9M334.4 334.6h0.9M198.3 311.4h0.9M302.6 342.6h0.9M288.1 341.6h0.9M392.6 319.1h0.9M393.9 318.3h0.9M218.9 321.4h0.9M215.5 320.6h0.9M291.5 276.8h0.9M400.9 312.5h0.9M302.6 274.2h0.9M340.4 336.7h0.9M282.9 273.8h0.9M360.4 295.4h0.9M336.6 286.4h0.9M282.0 286.2h0.9M198.0 313.9h0.9M299.5 275.5h0.9M290.4 278.5h0.9M273.7 340.7h0.9M217.7 319.8h0.9M300.5 346.3h0.9M374.1 320.6h0.9M257.3 279.0h0.9M260.4 284.9h0.9M314.6 329.2h0.9M393.8 316.5h0.9M230.1 318.8h0.9M385.8 308.8h0.9M294.8 341.6h0.9M379.3 302.0h0.9M367.4 326.9h0.9M252.4 333.5h0.9M369.6 292.5h0.9M363.2 326.9h0.9M266.5 273.0h0.9M385.2 312.2h0.9M254.2 326.3h0.9M308.8 294.2h0.9M353.4 312.7h0.9M247.2 325.8h0.9M290.7 339.0h0.9M329.8 347.3h0.9M242.6 286.3h0.9M292.9 311.3h0.9M194.5 315.5h0.9M241.8 330.6h0.9M348.3 282.3h0.9M295.2 276.9h0.9M223.1 300.3h0.9M251.0 326.0h0.9M186.8 308.8h0.9M299.7 343.8h0.9M209.5 314.4h0.9M366.8 298.9h0.9M332.2 287.0h0.9M274.0 278.8h0.9M226.9 294.7h0.9M292.7 344.6h0.9M264.6 282.9h0.9M314.9 353.8h0.9M346.6 302.3h0.9M361.3 293.4h0.9M352.4 289.2h0.9M346.4 321.8h0.9M315.9 351.0h0.9M285.1 273.6h0.9M296.5 276.8h0.9M279.8 265.2h0.9M384.9 298.3h0.9M377.3 323.7h0.9M392.5 316.1h0.9M310.1 271.9h0.9M271.0 292.2h0.9M209.0 317.1h0.9M314.9 346.7h0.9M366.8 325.1h0.9M282.0 272.8h0.9M327.5 345.9h0.9M253.5 327.0h0.9M300.5 340.3h0.9M298.7 278.8h0.9M298.0 269.9h0.9M282.2 338.4h0.9M251.8 324.0h0.9M326.9 286.5h0.9M356.5 308.3h0.9M345.0 283.7h0.9M200.7 316.1h0.9M265.5 336.0h0.9M201.9 317.8h0.9M329.6 341.7h0.9M285.4 283.9h0.9M320.1 285.8h0.9M272.5 265.6h0.9M400.8 308.0h0.9M305.4 348.4h0.9M404.1 299.1h0.9M346.9 286.6h0.9M303.9 278.9h0.9M228.3 323.2h0.9M313.8 349.9h0.9M267.4 276.6h0.9M353.4 332.0h0.9M218.4 299.4h0.9M387.2 312.7h0.9M326.9 289.9h0.9M366.9 294.0h0.9M392.4 305.5h0.9M218.7 295.3h0.9M386.7 302.3h0.9M299.0 344.2h0.9M320.8 316.9h0.9M196.7 313.8h0.9M312.4 349.6h0.9M393.2 314.0h0.9M383.1 299.8h0.9M316.3 349.3h0.9M213.5 319.4h0.9M245.5 331.1h0.9M331.5 339.8h0.9M255.3 333.0h0.9M366.0 293.8h0.9M303.1 276.8h0.9M252.4 332.7h0.9M302.4 338.1h0.9M298.3 346.1h0.9M185.4 310.2h0.9M398.0 305.4h0.9M288.6 332.9h0.9M313.8 350.9h0.9M307.1 282.6h0.9M349.3 287.5h0.9M261.9 283.7h0.9M344.3 291.4h0.9M374.4 325.8h0.9M217.9 292.7h0.9M300.4 271.6h0.9M277.2 270.7h0.9M364.3 294.1h0.9M283.8 273.1h0.9M354.5 292.5h0.9M217.4 309.5h0.9M391.9 305.8h0.9M343.9 286.0h0.9M286.9 278.6h0.9M262.7 334.6h0.9M351.2 334.9h0.9M288.8 345.2h0.9M361.0 313.3h0.9M304.0 344.2h0.9M282.4 275.1h0.9M200.9 309.7h0.9M333.9 330.4h0.9M249.2 317.8h0.9M355.2 292.6h0.9M232.0 326.7h0.9M249.1 331.4h0.9M224.3 294.4h0.9M254.0 281.3h0.9M233.1 327.8h0.9M327.9 327.3h0.9M240.2 297.1h0.9M320.9 281.5h0.9M306.3 274.4h0.9M368.9 296.2h0.9M345.0 289.4h0.9M378.1 298.3h0.9M243.9 287.5h0.9M271.6 303.5h0.9M294.1 271.1h0.9M197.5 313.2h0.9M211.2 312.0h0.9M298.5 318.9h0.9M311.5 349.3h0.9M366.2 327.9h0.9M350.3 336.9h0.9M306.6 351.4h0.9M284.7 266.4h0.9M303.5 349.3h0.9M369.6 301.7h0.9M256.4 278.0h0.9M209.4 305.3h0.9M370.3 298.9h0.9M222.1 293.2h0.9M296.8 276.3h0.9M234.4 301.4h0.9M359.8 295.9h0.9M228.9 294.0h0.9M332.0 280.2h0.9M302.4 277.5h0.9M321.0 276.9h0.9M354.0 330.4h0.9M287.5 274.7h0.9M410.1 306.0h0.9M364.6 331.7h0.9M312.3 275.3h0.9M217.5 299.8h0.9M306.4 310.6h0.9M209.5 314.9h0.9M330.6 287.1h0.9M340.6 291.1h0.9M215.4 303.4h0.9M323.1 348.3h0.9M229.4 308.7h0.9M365.1 298.8h0.9M382.9 300.3h0.9M352.4 292.5h0.9M363.2 298.7h0.9M330.9 340.2h0.9M344.5 287.2h0.9M234.3 328.0h0.9M293.4 343.3h0.9M298.1 278.4h0.9M308.1 347.4h0.9M235.6 294.1h0.9M346.7 336.8h0.9M325.4 347.7h0.9M245.6 282.6h0.9M328.5 325.2h0.9M204.4 315.2h0.9M226.1 295.7h0.9M266.2 333.9h0.9M279.8 271.9h0.9M276.8 339.5h0.9M405.9 309.6h0.9M294.9 344.6h0.9M360.9 330.3h0.9M309.6 319.4h0.9M325.3 283.9h0.9M285.4 309.8h0.9M282.3 333.6h0.9M296.9 313.6h0.9M310.5 318.6h0.9M329.8 341.1h0.9M284.3 334.4h0.9M229.4 317.2h0.9M236.1 327.5h0.9M311.6 283.5h0.9M381.4 301.5h0.9M358.8 299.4h0.9M241.2 324.2h0.9M365.6 331.1h0.9M202.1 302.0h0.9M278.7 341.4h0.9M389.3 305.1h0.9M201.3 315.2h0.9M207.8 305.5h0.9M322.9 274.8h0.9M213.9 317.4h0.9M373.3 291.2h0.9M271.5 332.9h0.9M249.0 326.2h0.9M385.4 300.1h0.9M259.4 281.7h0.9M345.2 338.2h0.9M220.1 320.7h0.9M294.0 279.0h0.9M287.5 272.6h0.9M365.1 297.8h0.9M225.9 299.7h0.9M197.7 316.9h0.9M307.5 278.0h0.9M200.2 299.9h0.9M253.7 284.0h0.9M372.9 307.8h0.9M269.0 276.3h0.9M383.5 299.7h0.9M296.0 274.1h0.9M220.9 292.2h0.9M280.4 270.6h0.9M276.4 275.7h0.9M384.9 319.9h0.9M385.4 317.7h0.9M385.7 305.3h0.9M370.7 319.6h0.9M337.3 345.5h0.9M284.0 343.8h0.9M311.3 282.1h0.9M222.7 318.7h0.9M317.6 347.8h0.9M395.4 316.6h0.9M382.9 300.8h0.9M200.4 316.4h0.9M304.0 340.1h0.9M244.3 321.2h0.9M374.3 301.2h0.9M404.0 310.6h0.9M296.6 311.3h0.9M322.4 284.2h0.9M366.1 331.5h0.9M404.9 307.6h0.9M193.3 312.9h0.9M274.7 332.2h0.9M308.3 344.7h0.9M261.7 333.3h0.9M365.1 298.7h0.9M211.0 314.0h0.9M215.5 320.7h0.9" stroke="#ff3030" stroke-width="0.9" fill="none"/>
<path d="M278.9 275.3h0.9M354.0 296.8h0.9M295.1 283.8h0.9M206.5 293.7h0.9M260.7 281.7h0.9M192.2 307.5h0.9M397.0 290.0h0.9M315.5 332.5h0.9M288.4 296.7h0.9M293.2 274.5h0.9M332.0 280.5h0.9M265.7 281.6h0.9M203.5 304.6h0.9M398.9 310.6h0.9M200.4 276.4h0.9M207.5 306.6h0.9M343.2 318.5h0.9M327.8 278.1h0.9M382.2 306.2h0.9M352.5 311.3h0.9M292.8 258.6h0.9M375.7 313.4h0.9M397.4 311.2h0.9M362.9 298.4h0.9M309.5 343.6h0.9M253.4 297.6h0.9M302.7 299.8h0.9M214.9 286.9h0.9M287.1 331.0h0.9M359.4 313.1h0.9M356.7 283.7h0.9M250.5 332.1h0.9M309.6 275.4h0.9M267.5 298.7h0.9M304.8 309.8h0.9M312.5 344.5h0.9M288.5 344.8h0.9M329.9 284.4h0.9M291.7 290.7h0.9M306.8 309.6h0.9M318.5 285.1h0.9M281.8 296.5h0.9M265.8 299.8h0.9M253.2 303.0h0.9M194.4 306.0h0.9M231.0 295.6h0.9M314.6 335.6h0.9M279.7 327.0h0.9M347.3 325.0h0.9M299.9 281.7h0.9M350.5 272.4h0.9M262.2 281.1h0.9M329.7 329.0h0.9M348.6 329.1h0.9M366.6 306.4h0.9M310.1 322.8h0.9M346.6 270.1h0.9M341.9 329.9h0.9M337.1 303.3h0.9M295.5 331.6h0.9M393.7 307.0h0.9M203.4 294.6h0.9M214.1 296.0h0.9M385.9 293.2h0.9M253.1 322.9h0.9M271.4 286.2h0.9M259.1 283.4h0.9M321.5 311.0h0.9M370.2 313.2h0.9M406.5 308.5h0.9M263.5 320.0h0.9M400.7 290.1h0.9M369.1 295.6h0.9M333.6 335.3h0.9" stroke="#ff3030" stroke-width="0.9" fill="none"/>
<path d="M283.8 334.9h0.8M375.0 304.5h0.8M286.9 329.6h0.8M318.0 260.5h0.8M254.2 272.0h0.8M291.2 294.2h0.8M192.6 296.5h0.8M307.4 313.4h0.8M292.7 270.3h0.8M258.7 272.9h0.8M232.2 310.6h0.8M350.9 298.7h0.8M314.6 322.3h0.8M252.5 306.1h0.8M219.7 288.5h0.8M254.7 243.5h0.8M294.9 301.4h0.8M246.2 295.0h0.8M268.2 312.2h0.8M319.7 309.3h0.8M385.1 303.2h0.8M341.6 252.2h0.8M259.3 255.4h0.8M301.8 338.8h0.8M297.1 273.4h0.8M288.7 282.8h0.8M299.1 290.0h0.8M189.6 282.1h0.8M373.8 300.7h0.8M283.0 293.5h0.8M269.6 295.8h0.8M291.4 309.2h0.8M281.6 310.9h0.8M306.0 257.0h0.8M288.2 313.2h0.8M304.3 296.1h0.8M290.6 274.9h0.8M335.5 286.9h0.8M227.0 294.3h0.8M364.9 293.2h0.8M313.2 331.3h0.8M284.6 315.3h0.8M379.0 287.0h0.8M224.4 304.7h0.8M381.5 295.7h0.8M286.9 259.4h0.8M225.0 297.0h0.8M293.7 288.5h0.8M252.2 276.9h0.8M316.9 311.0h0.8M273.2 295.4h0.8M294.5 220.5h0.8M294.3 273.2h0.8M300.9 340.1h0.8M275.0 291.0h0.8M326.7 320.0h0.8M331.0 318.1h0.8M316.0 291.9h0.8M296.3 273.0h0.8M262.8 285.9h0.8M286.5 299.6h0.8M345.7 325.6h0.8M321.4 304.5h0.8M301.4 323.5h0.8M282.5 321.6h0.8M282.3 309.4h0.8M307.4 304.1h0.8M232.4 293.9h0.8M340.3 278.1h0.8M281.8 284.4h0.8M281.6 327.9h0.8M306.7 305.8h0.8M272.2 252.7h0.8M322.0 286.1h0.8M318.4 312.4h0.8M316.9 333.2h0.8M383.8 314.7h0.8M285.4 263.0h0.8M321.4 312.5h0.8M318.5 329.2h0.8M235.4 291.2h0.8M346.0 307.9h0.8M260.5 283.5h0.8M366.2 296.4h0.8M310.5 309.7h0.8M351.0 329.1h0.8M223.9 288.3h0.8M289.9 284.2h0.8M315.0 302.5h0.8M315.5 324.5h0.8M373.2 295.3h0.8M306.7 262.8h0.8M296.8 277.2h0.8M255.5 276.7h0.8M330.9 293.5h0.8M302.9 313.4h0.8M322.2 290.6h0.8M291.1 297.6h0.8M278.4 272.0h0.8M273.6 315.4h0.8M262.2 285.1h0.8M327.8 275.5h0.8M294.6 277.4h0.8M325.4 301.4h0.8M327.8 312.6h0.8M273.3 276.3h0.8M230.2 267.2h0.8M284.8 296.3h0.8M318.6 290.0h0.8M270.1 276.7h0.8M284.9 298.8h0.8M349.1 320.6h0.8M349.2 272.4h0.8M315.6 288.5h0.8M236.2 293.4h0.8M393.5 310.1h0.8M269.9 295.6h0.8M280.8 300.4h0.8M317.8 338.8h0.8M241.4 291.5h0.8M300.7 346.3h0.8M348.5 323.8h0.8M306.8 316.0h0.8M290.9 320.2h0.8M398.6 302.6h0.8M404.5 311.1h0.8M277.9 253.2h0.8M233.0 298.9h0.8M313.9 292.5h0.8M276.8 310.0h0.8M347.0 296.2h0.8M309.2 295.4h0.8M360.2 325.0h0.8M318.9 336.6h0.8M387.5 276.6h0.8M261.5 284.4h0.8M222.5 284.3h0.8M280.4 322.7h0.8M295.3 265.7h0.8M238.6 307.7h0.8M220.9 319.4h0.8M265.9 264.1h0.8M245.0 298.2h0.8M282.4 281.8h0.8M334.7 266.6h0.8M256.9 296.4h0.8M334.6 281.4h0.8M383.3 292.0h0.8M230.4 294.7h0.8M366.3 280.8h0.8M382.1 289.3h0.8M258.7 272.1h0.8M315.6 315.5h0.8M214.9 265.9h0.8M319.2 273.0h0.8M238.3 296.6h0.8M233.4 243.1h0.8M318.3 304.2h0.8M263.2 309.4h0.8M260.7 312.6h0.8M292.4 314.5h0.8M289.9 290.4h0.8M363.8 312.0h0.8M272.7 285.8h0.8M359.2 312.9h0.8M319.3 323.2h0.8M312.7 299.1h0.8M367.6 279.5h0.8M292.7 339.4h0.8M312.4 295.3h0.8M334.3 318.0h0.8M307.1 292.8h0.8M213.4 246.5h0.8M314.1 342.7h0.8M359.3 302.3h0.8M382.0 306.3h0.8M291.5 279.6h0.8M286.2 281.5h0.8M308.1 313.2h0.8M266.6 277.0h0.8M353.5 271.9h0.8M238.6 296.4h0.8M250.7 313.7h0.8M255.0 298.8h0.8M359.5 297.6h0.8M229.2 306.2h0.8M262.1 278.5h0.8M370.0 293.4h0.8M280.5 305.3h0.8M352.6 302.9h0.8M339.5 315.1h0.8M313.2 257.5h0.8M285.0 267.2h0.8M274.1 310.2h0.8M243.7 313.1h0.8M243.7 272.8h0.8M354.0 322.8h0.8M265.2 309.8h0.8M306.6 287.4h0.8M197.1 294.7h0.8M322.6 258.6h0.8M308.8 292.9h0.8M316.0 303.1h0.8M373.6 311.6h0.8M282.8 274.3h0.8M293.3 272.0h0.8M304.1 348.9h0.8M287.2 269.4h0.8M329.4 298.2h0.8M247.7 331.7h0.8M313.2 293.6h0.8M312.5 296.3h0.8M300.3 327.3h0.8M213.9 316.3h0.8M336.0 340.4h0.8M283.5 288.1h0.8M232.7 287.7h0.8M275.4 292.4h0.8M355.7 283.8h0.8M328.5 296.4h0.8M214.9 298.1h0.8M299.5 340.2h0.8M340.3 287.4h0.8M321.9 285.1h0.8M281.5 268.0h0.8M358.1 304.4h0.8M321.7 342.5h0.8M356.9 299.5h0.8M279.9 245.0h0.8M319.6 340.3h0.8M346.8 308.5h0.8M348.6 330.3h0.8M340.8 303.2h0.8M226.8 315.8h0.8M366.3 310.5h0.8M329.5 285.2h0.8M340.6 319.4h0.8M243.1 280.6h0.8M218.7 300.8h0.8M238.4 316.4h0.8M366.9 314.6h0.8M294.3 254.9h0.8M265.2 264.5h0.8M240.1 283.0h0.8M223.1 317.0h0.8M351.1 286.0h0.8M306.6 277.0h0.8M367.9 305.1h0.8M322.1 275.1h0.8M273.1 309.1h0.8M270.1 291.5h0.8M256.2 264.7h0.8M267.1 264.9h0.8M241.3 284.2h0.8M352.6 284.4h0.8M276.2 298.9h0.8M248.0 290.0h0.8M320.3 288.6h0.8M277.7 263.4h0.8M275.8 305.1h0.8M201.4 296.7h0.8M284.3 295.8h0.8M352.7 327.8h0.8M230.7 259.6h0.8M222.9 298.8h0.8M328.7 239.9h0.8M311.2 247.2h0.8M261.4 312.8h0.8M287.3 259.5h0.8M229.3 296.2h0.8M363.9 295.9h0.8M282.4 287.2h0.8M206.7 308.2h0.8M234.7 321.8h0.8M305.2 315.8h0.8M334.5 307.6h0.8M249.3 282.2h0.8M233.6 292.8h0.8M269.7 301.3h0.8M269.9 265.5h0.8M304.9 286.9h0.8M350.8 297.3h0.8M253.9 312.9h0.8M218.5 294.9h0.8M250.4 301.9h0.8M299.4 315.5h0.8M225.0 277.3h0.8M281.4 271.9h0.8M240.9 272.0h0.8M351.2 299.8h0.8M322.9 287.5h0.8M335.2 326.3h0.8M370.5 292.6h0.8M292.9 314.1h0.8M342.1 323.0h0.8M309.4 287.3h0.8M212.0 296.4h0.8M357.0 285.7h0.8M283.2 299.7h0.8M294.9 252.1h0.8M318.2 281.4h0.8M345.9 278.1h0.8M271.7 272.4h0.8M311.7 314.6h0.8M377.5 304.8h0.8M301.1 292.7h0.8M283.2 263.3h0.8M216.7 318.1h0.8M226.7 302.6h0.8M327.2 314.3h0.8M292.5 322.6h0.8M324.1 285.4h0.8M266.4 290.5h0.8M219.7 299.4h0.8M245.2 287.6h0.8M318.9 276.9h0.8M329.2 227.0h0.8M221.1 310.2h0.8M335.2 319.7h0.8M349.7 289.6h0.8M392.7 312.5h0.8M334.0 319.8h0.8M310.2 323.4h0.8M321.0 299.3h0.8M400.3 293.5h0.8M346.5 290.1h0.8M339.3 279.9h0.8M194.3 307.9h0.8M295.7 278.8h0.8M235.2 312.0h0.8M220.0 315.9h0.8M256.4 294.4h0.8M346.1 329.1h0.8M258.3 278.0h0.8M312.5 276.7h0.8M369.0 322.1h0.8M350.4 333.6h0.8M270.9 306.2h0.8M371.0 287.8h0.8M345.8 317.7h0.8M318.3 313.2h0.8M311.3 284.3h0.8M282.6 301.5h0.8M294.3 293.7h0.8M348.4 287.1h0.8M298.1 294.3h0.8M307.9 282.6h0.8M263.3 313.0h0.8M225.5 271.7h0.8M301.4 300.6h0.8M275.7 286.4h0.8M309.9 343.7h0.8M362.6 247.0h0.8M374.8 270.1h0.8M260.5 295.7h0.8M321.7 340.3h0.8M310.4 277.8h0.8M361.7 287.3h0.8M259.9 283.6h0.8M281.0 259.1h0.8M287.1 246.3h0.8M233.0 267.9h0.8M258.2 322.8h0.8M321.8 273.3h0.8M233.7 307.1h0.8M204.4 316.3h0.8M212.5 321.6h0.8M290.3 273.2h0.8M314.7 313.6h0.8M231.1 306.2h0.8M330.5 287.0h0.8M241.7 302.0h0.8M268.5 245.8h0.8M324.3 289.0h0.8M229.6 293.5h0.8M330.0 265.0h0.8M304.5 328.7h0.8M197.6 280.8h0.8M269.4 273.0h0.8M272.9 277.7h0.8M347.5 331.6h0.8M337.7 260.0h0.8M306.1 319.5h0.8M290.3 305.7h0.8M409.6 272.0h0.8M315.9 321.6h0.8M351.6 307.7h0.8M234.9 297.8h0.8M255.8 294.1h0.8M354.2 277.4h0.8M326.2 285.9h0.8M265.0 262.0h0.8M267.2 294.6h0.8M336.5 323.2h0.8M233.6 300.9h0.8M250.8 289.4h0.8M328.8 283.8h0.8M367.1 295.7h0.8M305.7 305.2h0.8M322.0 330.7h0.8M279.2 309.9h0.8M242.5 282.7h0.8M328.6 316.3h0.8M347.1 337.2h0.8M304.4 306.4h0.8M253.3 274.1h0.8M266.3 312.2h0.8M335.9 302.2h0.8M221.4 304.3h0.8M223.2 300.4h0.8M341.9 283.3h0.8M340.8 283.2h0.8M286.8 313.8h0.8M315.2 293.0h0.8M236.2 281.7h0.8M295.8 326.8h0.8M333.4 312.4h0.8M306.8 292.5h0.8M353.3 307.1h0.8M238.3 306.9h0.8M250.3 239.1h0.8M345.2 273.1h0.8M296.2 306.5h0.8M274.2 274.8h0.8M388.6 286.5h0.8M240.9 263.5h0.8M311.0 335.9h0.8M278.6 323.4h0.8M278.0 258.5h0.8M345.4 286.7h0.8M291.2 283.6h0.8M322.4 319.6h0.8M252.1 296.2h0.8M313.3 277.8h0.8M293.8 290.0h0.8M292.6 334.2h0.8M311.8 272.9h0.8M271.5 323.7h0.8M307.0 279.6h0.8M308.6 308.8h0.8M288.3 279.0h0.8M287.5 276.9h0.8M364.3 282.1h0.8M257.8 301.6h0.8M297.6 294.1h0.8M302.9 314.4h0.8M263.1 327.4h0.8M239.8 263.4h0.8M320.3 329.3h0.8M371.6 304.7h0.8M384.0 309.2h0.8M332.3 339.9h0.8M329.2 299.4h0.8M378.8 296.5h0.8M331.5 271.2h0.8M240.9 285.4h0.8M310.1 297.1h0.8M336.6 287.9h0.8M282.1 253.9h0.8M312.5 276.2h0.8M284.4 331.8h0.8M336.1 317.9h0.8M272.5 299.1h0.8M312.6 320.0h0.8M306.4 300.2h0.8M235.0 307.1h0.8M269.2 275.9h0.8M355.9 309.2h0.8M299.4 291.7h0.8M232.0 281.1h0.8M345.4 329.9h0.8M368.9 300.4h0.8M269.8 295.3h0.8M225.1 316.3h0.8M389.5 291.4h0.8M308.3 308.7h0.8M284.2 238.6h0.8M278.8 279.6h0.8M242.1 252.5h0.8M229.6 308.6h0.8M298.6 312.0h0.8M356.4 325.0h0.8M378.2 321.8h0.8M357.8 331.6h0.8M252.4 282.3h0.8M313.0 319.0h0.8M306.0 254.1h0.8M402.3 287.6h0.8M334.1 292.3h0.8M295.9 248.8h0.8M303.3 292.6h0.8M285.3 311.6h0.8M364.2 291.5h0.8M337.0 315.3h0.8M316.3 326.1h0.8M307.4 270.7h0.8M312.7 312.5h0.8M278.6 251.6h0.8M213.2 304.5h0.8M286.4 278.9h0.8M269.6 303.8h0.8M272.8 284.2h0.8M249.6 291.6h0.8M287.0 315.2h0.8M227.0 296.0h0.8M353.2 324.1h0.8M280.6 257.9h0.8M279.7 273.7h0.8M287.2 280.2h0.8M323.9 231.0h0.8M301.0 233.3h0.8M390.5 284.6h0.8M238.2 296.2h0.8M232.9 298.8h0.8M340.7 306.5h0.8M291.3 305.8h0.8M315.5 319.6h0.8M232.3 275.4h0.8M286.2 323.4h0.8M310.7 306.5h0.8M293.4 313.9h0.8M277.2 314.7h0.8M370.7 314.5h0.8M279.3 306.5h0.8M301.2 326.1h0.8M319.3 331.5h0.8M355.8 264.8h0.8M365.8 324.9h0.8M285.4 273.0h0.8M272.8 322.8h0.8M324.3 287.5h0.8M228.4 280.6h0.8M332.8 335.3h0.8M307.7 238.7h0.8M285.7 328.1h0.8M293.0 328.7h0.8M262.1 311.7h0.8M369.3 280.7h0.8M242.2 304.5h0.8M298.4 284.7h0.8M262.1 299.7h0.8M191.3 300.6h0.8M359.1 298.3h0.8M328.8 285.9h0.8M303.4 255.8h0.8M338.5 295.8h0.8M280.9 279.4h0.8M329.5 330.7h0.8M345.0 289.5h0.8M217.7 302.8h0.8M263.6 305.4h0.8M370.9 305.6h0.8M282.4 268.7h0.8M259.2 284.5h0.8M267.9 284.9h0.8M268.3 309.1h0.8M359.7 309.9h0.8M277.7 248.8h0.8M336.7 299.5h0.8M335.3 306.7h0.8M300.1 301.9h0.8M305.3 316.9h0.8M352.9 296.6h0.8M225.6 299.8h0.8M386.0 296.0h0.8M358.8 262.9h0.8M281.0 267.6h0.8M234.7 313.9h0.8M262.9 312.3h0.8M268.3 261.3h0.8M367.6 302.0h0.8M374.3 317.4h0.8M262.8 306.2h0.8M328.6 339.8h0.8M383.7 315.7h0.8M200.1 290.6h0.8M242.2 300.6h0.8M291.8 286.2h0.8M215.3 283.6h0.8M326.1 286.8h0.8M253.1 308.5h0.8M266.9 304.3h0.8M244.1 309.8h0.8M325.6 245.6h0.8M250.9 297.2h0.8M252.3 279.8h0.8M369.4 313.7h0.8M254.4 277.1h0.8M323.0 272.1h0.8M331.6 269.9h0.8M297.7 250.1h0.8M218.9 302.2h0.8M346.9 302.5h0.8M322.2 285.5h0.8M262.9 300.8h0.8M349.1 264.1h0.8M274.7 293.5h0.8M216.1 318.8h0.8M290.4 309.4h0.8M380.7 307.9h0.8M292.8 298.6h0.8M303.0 262.7h0.8M399.9 303.8h0.8M301.8 338.2h0.8M246.0 282.8h0.8M383.9 293.6h0.8M284.8 288.2h0.8M208.7 313.7h0.8M321.5 292.4h0.8M271.0 283.6h0.8M269.9 242.4h0.8M350.1 320.7h0.8M401.4 279.6h0.8M286.3 285.1h0.8M328.8 302.8h0.8M242.0 313.2h0.8M297.5 272.3h0.8M398.8 288.2h0.8M256.0 297.7h0.8M330.2 344.6h0.8M210.3 287.9h0.8M269.7 317.5h0.8M224.4 306.6h0.8M229.6 275.7h0.8M404.0 282.3h0.8M337.4 308.5h0.8M262.7 328.1h0.8M359.1 293.0h0.8M366.4 272.3h0.8M323.2 294.4h0.8M367.7 325.6h0.8M222.1 286.7h0.8M359.2 322.7h0.8M285.7 267.4h0.8M292.1 246.2h0.8M214.4 305.9h0.8M323.2 247.0h0.8M290.5 235.1h0.8M268.6 298.8h0.8M253.2 283.8h0.8M318.9 257.2h0.8M319.9 273.0h0.8M358.7 289.0h0.8M328.4 277.9h0.8M244.2 259.0h0.8M287.9 286.8h0.8M318.5 305.6h0.8M283.9 258.6h0.8M328.5 296.4h0.8M298.7 240.5h0.8M242.3 329.5h0.8M212.4 286.9h0.8M274.6 290.9h0.8M343.0 290.3h0.8M258.8 249.5h0.8M319.3 337.7h0.8M336.3 326.7h0.8M292.4 299.6h0.8M278.9 294.2h0.8M231.2 315.3h0.8M270.9 297.0h0.8M197.1 270.1h0.8M404.7 279.3h0.8M292.4 338.9h0.8M357.4 306.6h0.8M228.0 318.0h0.8M301.8 235.3h0.8M309.1 278.1h0.8M283.6 298.5h0.8M336.0 292.3h0.8M292.2 289.7h0.8M236.3 293.3h0.8M310.1 324.2h0.8M301.5 273.5h0.8M338.0 297.5h0.8M303.1 269.4h0.8M382.5 301.6h0.8M356.8 321.9h0.8M384.9 315.1h0.8M252.1 285.8h0.8M380.6 307.9h0.8M299.9 296.0h0.8M279.7 241.3h0.8M317.4 290.7h0.8M311.4 321.3h0.8M335.1 303.5h0.8M364.2 297.7h0.8M352.4 321.9h0.8M359.6 291.3h0.8M283.0 258.7h0.8M304.9 277.2h0.8M210.0 301.5h0.8M253.1 315.5h0.8M353.9 288.8h0.8M326.6 282.6h0.8M389.2 309.4h0.8M306.6 320.4h0.8M200.2 308.3h0.8M258.8 296.1h0.8M288.0 317.5h0.8M246.2 290.8h0.8M255.3 276.4h0.8M282.1 274.5h0.8M244.6 315.2h0.8M344.8 279.6h0.8M310.7 300.4h0.8M317.0 271.5h0.8M263.5 282.3h0.8M271.8 252.4h0.8M258.3 295.2h0.8M267.3 314.3h0.8M264.7 300.6h0.8M350.7 310.4h0.8M376.7 297.4h0.8M311.6 295.8h0.8M322.2 285.8h0.8M266.6 259.7h0.8M350.6 322.7h0.8M353.8 260.0h0.8M219.8 286.3h0.8M247.8 326.1h0.8M317.0 334.5h0.8M383.5 260.3h0.8M221.9 303.8h0.8M324.2 279.2h0.8M332.9 290.0h0.8M345.4 310.9h0.8M345.2 301.2h0.8M274.1 324.3h0.8M219.8 279.4h0.8M367.8 279.3h0.8M291.8 248.3h0.8M268.2 246.6h0.8M310.0 288.7h0.8M335.7 304.3h0.8M212.0 300.1h0.8M303.0 315.9h0.8M295.0 275.4h0.8M402.3 305.9h0.8M308.8 343.1h0.8M399.0 268.6h0.8M335.7 267.6h0.8M382.4 303.8h0.8M301.2 290.6h0.8M249.4 309.3h0.8M329.4 308.1h0.8M271.1 264.1h0.8M255.0 292.1h0.8M297.0 310.8h0.8M273.0 313.1h0.8M304.3 333.0h0.8M264.4 263.1h0.8M355.1 305.6h0.8M232.8 294.3h0.8M253.0 265.4h0.8M322.8 324.2h0.8M320.1 275.8h0.8M254.8 285.6h0.8M298.8 290.5h0.8M278.0 264.3h0.8M331.0 317.3h0.8M283.0 235.2h0.8M366.3 315.5h0.8M301.4 285.0h0.8M267.8 319.3h0.8M342.0 319.1h0.8M230.8 317.5h0.8M331.5 275.3h0.8M312.3 319.3h0.8M366.0 300.2h0.8M274.1 299.1h0.8M321.6 313.2h0.8M198.4 267.5h0.8M216.0 299.8h0.8M308.6 312.8h0.8M225.8 286.3h0.8M289.5 299.3h0.8M314.1 341.0h0.8M309.9 284.5h0.8M321.6 305.1h0.8M293.5 248.8h0.8M239.1 284.2h0.8M362.0 260.7h0.8M294.5 294.5h0.8M365.4 296.4h0.8M326.2 316.9h0.8M315.6 325.8h0.8M257.3 289.7h0.8M241.4 310.1h0.8M320.1 304.9h0.8M253.0 261.3h0.8M297.4 279.5h0.8M252.3 285.3h0.8M321.4 284.5h0.8M270.2 285.5h0.8M281.5 318.1h0.8M334.4 327.3h0.8M282.4 311.2h0.8M282.5 296.1h0.8M280.2 305.0h0.8M355.4 307.9h0.8M335.7 305.8h0.8M361.7 281.2h0.8M290.1 290.5h0.8M322.8 270.4h0.8M226.1 299.2h0.8M272.6 292.2h0.8M330.9 305.7h0.8M324.3 347.4h0.8M266.2 276.8h0.8M305.2 292.6h0.8M344.2 307.4h0.8M352.8 304.1h0.8M311.3 296.1h0.8M250.6 286.8h0.8M230.5 299.1h0.8M294.0 311.7h0.8M291.4 321.2h0.8M316.1 316.2h0.8M343.6 262.1h0.8M316.3 330.8h0.8M349.9 286.8h0.8M294.2 269.8h0.8M252.6 298.4h0.8M333.5 326.4h0.8M322.5 292.1h0.8M230.5 296.0h0.8M404.8 278.7h0.8M300.2 323.8h0.8M244.6 268.2h0.8M281.0 323.4h0.8M326.9 271.8h0.8M317.8 306.5h0.8M289.1 260.6h0.8M326.8 297.4h0.8M260.4 256.0h0.8M284.7 336.1h0.8M337.2 317.0h0.8M373.7 300.9h0.8M329.9 293.5h0.8M313.1 284.9h0.8M311.7 327.2h0.8M306.2 295.9h0.8M269.6 257.7h0.8M277.5 314.4h0.8M216.5 291.2h0.8M354.5 295.2h0.8M369.9 317.2h0.8M283.2 275.0h0.8M348.4 294.1h0.8M330.3 281.6h0.8M312.9 266.6h0.8M220.7 271.3h0.8M264.3 270.4h0.8M300.2 327.4h0.8M327.0 310.5h0.8M287.6 293.0h0.8M230.4 307.1h0.8M320.0 290.3h0.8M256.7 293.4h0.8M244.5 306.3h0.8M287.2 249.6h0.8M258.6 285.8h0.8M316.4 305.8h0.8M202.2 299.4h0.8M351.4 268.8h0.8M283.6 256.9h0.8M257.8 297.7h0.8M343.0 244.8h0.8M236.2 301.1h0.8M327.7 264.6h0.8M216.2 286.9h0.8M289.5 301.7h0.8M330.2 306.7h0.8M277.3 285.4h0.8M257.4 272.9h0.8M282.0 304.7h0.8M269.3 282.4h0.8M356.5 292.9h0.8M366.7 267.5h0.8M347.3 318.7h0.8M225.2 296.1h0.8M311.2 270.9h0.8M301.9 304.9h0.8M216.7 310.1h0.8M297.0 286.1h0.8M399.6 301.9h0.8M285.3 269.3h0.8M222.7 297.8h0.8M310.3 312.6h0.8M327.0 330.6h0.8M291.6 295.8h0.8M345.8 303.8h0.8M313.1 306.7h0.8M225.4 305.5h0.8M250.7 308.8h0.8M295.7 315.2h0.8M334.5 272.7h0.8M249.2 316.9h0.8M221.8 318.0h0.8M272.3 255.2h0.8M286.5 318.5h0.8M318.9 323.1h0.8M306.8 285.4h0.8M231.0 265.6h0.8M312.9 340.8h0.8M293.7 341.9h0.8M315.9 305.2h0.8M310.5 296.9h0.8M313.0 281.9h0.8M358.7 286.5h0.8M264.7 294.8h0.8M339.3 305.8h0.8M320.6 323.4h0.8M245.2 320.4h0.8M223.9 283.9h0.8M380.8 307.0h0.8M281.5 295.8h0.8M380.2 283.9h0.8M312.4 304.7h0.8M256.9 289.5h0.8M292.0 335.1h0.8M394.0 277.5h0.8M317.7 322.6h0.8M381.6 287.4h0.8M261.2 264.9h0.8M310.6 309.5h0.8M382.9 271.6h0.8M280.3 236.9h0.8M271.2 332.1h0.8M260.8 296.0h0.8M352.5 307.4h0.8M337.4 252.3h0.8M320.9 274.5h0.8M316.8 309.8h0.8M377.2 298.6h0.8M339.6 314.6h0.8M380.1 305.0h0.8M354.9 294.1h0.8M282.2 268.5h0.8M353.8 274.0h0.8M363.7 321.9h0.8M311.5 319.9h0.8M235.7 232.0h0.8M381.3 298.0h0.8M243.3 302.0h0.8M400.0 301.1h0.8M284.6 296.6h0.8M302.0 279.7h0.8M290.6 304.5h0.8M275.3 316.6h0.8M257.2 291.0h0.8M314.5 277.5h0.8M273.6 303.3h0.8M275.7 289.8h0.8M276.8 275.1h0.8M348.4 263.8h0.8M314.9 305.7h0.8M335.9 285.6h0.8M327.2 317.6h0.8M316.6 230.8h0.8M266.2 300.8h0.8M378.4 287.5h0.8" stroke="#30f040" stroke-width="0.8" fill="none"/>
<path d="M271.9 301.4h0.8M356.8 303.7h0.8M291.1 320.7h0.8M314.5 327.5h0.8M327.0 320.1h0.8M298.0 306.1h0.8M323.0 302.1h0.8M358.7 313.5h0.8M287.5 307.7h0.8M369.4 324.0h0.8M342.2 288.7h0.8M277.3 312.6h0.8M296.3 337.2h0.8M298.9 336.1h0.8M299.8 289.1h0.8M315.3 323.0h0.8M285.0 284.5h0.8M306.3 299.6h0.8M258.7 305.3h0.8M221.7 304.0h0.8M283.2 334.8h0.8M225.4 290.9h0.8M288.3 271.4h0.8M255.8 301.4h0.8M317.4 344.1h0.8M323.3 295.1h0.8M251.4 313.3h0.8M381.4 301.0h0.8M335.3 280.2h0.8M276.7 275.5h0.8M331.0 296.2h0.8M276.6 333.7h0.8M204.8 308.8h0.8M233.5 319.9h0.8M317.3 336.7h0.8M299.8 300.8h0.8M306.9 293.1h0.8M291.6 334.3h0.8M266.2 316.5h0.8M339.3 303.3h0.8M305.4 337.7h0.8M287.7 286.4h0.8M318.8 326.0h0.8M331.4 312.8h0.8M369.6 317.8h0.8M362.7 311.5h0.8M343.6 308.1h0.8M192.7 308.6h0.8M256.3 309.6h0.8M231.6 310.8h0.8M250.2 301.0h0.8M385.9 301.9h0.8M366.8 309.0h0.8M336.6 315.2h0.8M324.0 289.3h0.8M260.2 297.5h0.8M297.7 280.1h0.8M358.9 296.8h0.8M356.6 300.6h0.8M259.9 294.9h0.8M299.1 329.1h0.8M342.7 337.5h0.8M368.9 322.3h0.8M365.3 319.7h0.8M298.0 292.2h0.8M278.4 321.6h0.8M381.5 300.9h0.8M220.9 306.3h0.8M343.6 336.6h0.8M303.7 281.8h0.8M380.5 320.4h0.8M294.2 274.6h0.8M209.2 294.1h0.8M331.8 311.6h0.8M308.6 288.9h0.8M287.7 294.0h0.8M314.1 336.7h0.8M356.4 297.9h0.8M352.0 311.6h0.8M381.8 307.7h0.8M306.4 324.8h0.8M270.1 270.5h0.8M264.6 301.4h0.8M332.9 298.8h0.8M345.2 327.6h0.8M306.6 309.7h0.8M275.5 319.9h0.8M342.5 319.5h0.8M257.4 297.2h0.8M296.5 322.4h0.8M282.3 321.1h0.8M284.8 323.6h0.8M229.7 316.7h0.8M255.6 328.1h0.8M234.0 314.4h0.8M282.8 316.7h0.8M227.5 312.5h0.8M291.1 314.4h0.8M341.1 313.9h0.8M271.7 318.5h0.8M356.1 320.3h0.8M262.9 307.2h0.8M313.7 336.4h0.8M304.2 278.8h0.8M337.5 301.2h0.8M381.2 317.7h0.8M346.2 329.2h0.8M223.5 312.7h0.8M264.8 305.3h0.8M257.5 304.5h0.8M259.2 317.5h0.8M312.6 310.3h0.8M274.4 260.0h0.8M267.1 305.3h0.8M365.7 318.4h0.8M376.2 319.6h0.8M360.5 320.6h0.8M285.5 321.2h0.8M321.0 303.0h0.8M352.8 304.5h0.8M326.8 297.1h0.8M375.9 303.7h0.8M366.1 302.3h0.8M297.9 291.3h0.8M238.2 311.9h0.8M267.7 316.9h0.8M331.3 315.2h0.8M242.0 306.7h0.8M321.1 325.9h0.8M277.1 329.3h0.8M267.8 325.3h0.8M361.8 297.8h0.8M335.0 310.4h0.8M381.2 305.2h0.8M335.3 338.1h0.8M233.2 299.9h0.8M338.0 329.3h0.8M298.7 274.0h0.8M234.6 293.8h0.8M213.4 302.7h0.8M266.8 280.4h0.8M258.8 249.0h0.8M238.9 325.2h0.8M273.9 320.6h0.8M284.4 323.9h0.8M276.9 258.4h0.8M249.8 313.1h0.8M226.0 301.5h0.8M270.8 306.9h0.8M229.3 296.3h0.8M227.7 300.9h0.8M300.2 304.2h0.8M295.8 282.3h0.8M235.6 293.5h0.8M300.5 318.0h0.8M356.0 306.8h0.8M257.5 316.7h0.8M312.0 266.8h0.8M302.5 313.1h0.8M263.7 299.0h0.8M250.0 330.9h0.8M230.4 319.2h0.8M264.8 301.5h0.8M311.3 307.2h0.8M292.1 281.8h0.8M338.9 334.5h0.8M332.3 337.5h0.8M323.9 331.7h0.8M316.2 308.8h0.8M352.8 325.0h0.8M321.8 302.8h0.8M333.8 323.7h0.8M332.9 334.9h0.8M297.9 325.0h0.8M379.1 289.4h0.8M272.6 332.1h0.8M234.6 318.0h0.8M249.3 310.2h0.8M283.0 266.2h0.8M335.9 335.5h0.8M369.1 305.2h0.8M309.6 299.4h0.8M230.0 319.0h0.8M326.3 297.1h0.8M252.2 295.9h0.8M275.4 325.0h0.8M234.2 313.5h0.8M245.6 299.1h0.8M299.8 324.1h0.8M198.1 295.9h0.8M311.9 307.2h0.8M298.8 297.4h0.8M322.1 322.1h0.8M287.1 292.1h0.8M389.5 303.8h0.8M331.9 301.6h0.8M292.4 292.9h0.8M350.8 309.3h0.8M341.3 287.5h0.8M236.4 313.9h0.8M335.0 335.2h0.8M265.4 289.4h0.8M236.8 311.1h0.8M321.6 296.0h0.8M297.8 336.3h0.8M389.5 298.9h0.8M374.9 309.5h0.8M288.0 331.3h0.8M321.8 340.7h0.8M282.0 337.3h0.8M383.2 307.6h0.8M376.9 313.5h0.8M279.4 316.2h0.8M314.8 339.1h0.8M274.7 301.9h0.8M239.3 311.5h0.8M376.6 295.8h0.8M276.0 303.7h0.8M359.8 319.5h0.8M357.2 329.4h0.8M256.3 292.3h0.8M324.9 299.1h0.8M312.1 298.7h0.8M301.2 318.7h0.8M262.8 310.2h0.8M272.7 286.3h0.8M315.7 306.7h0.8M221.2 284.8h0.8M304.7 323.0h0.8M310.7 300.0h0.8M310.1 267.1h0.8M254.8 319.1h0.8M243.1 322.4h0.8M298.7 279.2h0.8M295.3 322.4h0.8M296.5 333.8h0.8M330.8 331.4h0.8M279.6 278.7h0.8M298.8 330.1h0.8M375.7 311.0h0.8M329.4 315.9h0.8M302.1 320.5h0.8M390.8 302.9h0.8M232.6 301.0h0.8M379.3 300.0h0.8M229.9 312.8h0.8M329.5 302.7h0.8M333.8 276.0h0.8M338.7 321.9h0.8M239.7 307.1h0.8M293.9 275.3h0.8M334.0 327.1h0.8M240.9 319.9h0.8M298.3 304.3h0.8M234.0 265.1h0.8M256.3 271.4h0.8M364.5 315.0h0.8M286.4 334.7h0.8M322.4 303.0h0.8M304.0 328.0h0.8M320.6 340.4h0.8M313.0 341.3h0.8M351.4 287.4h0.8M309.6 252.5h0.8M313.0 269.0h0.8M372.4 316.8h0.8M362.2 312.9h0.8M257.2 304.4h0.8M283.0 296.5h0.8M278.9 301.8h0.8M373.3 312.7h0.8M319.1 330.6h0.8M236.7 273.3h0.8M320.5 332.1h0.8M334.9 309.4h0.8M246.0 284.3h0.8M403.7 307.9h0.8M305.8 307.5h0.8M400.6 301.0h0.8M378.9 304.0h0.8M268.1 328.5h0.8M333.5 298.2h0.8M294.7 271.1h0.8M339.3 302.4h0.8M370.5 297.9h0.8M286.4 324.9h0.8M346.2 321.4h0.8M337.3 324.8h0.8M275.2 277.3h0.8M269.6 326.7h0.8M315.1 277.1h0.8M285.9 328.3h0.8M257.7 285.4h0.8M213.3 302.7h0.8M265.6 258.9h0.8M303.0 339.7h0.8M283.9 332.2h0.8M305.3 280.1h0.8M268.8 325.3h0.8M298.8 315.7h0.8M299.7 330.4h0.8M379.7 313.7h0.8M253.2 303.9h0.8M288.1 266.9h0.8M286.8 291.2h0.8M288.6 326.9h0.8M200.2 308.3h0.8M316.0 307.6h0.8M300.7 310.7h0.8M295.1 279.7h0.8M310.7 318.4h0.8M268.7 293.1h0.8M311.1 318.2h0.8M266.9 303.3h0.8M359.7 281.7h0.8M278.6 294.6h0.8M241.9 323.8h0.8M382.2 300.1h0.8M323.8 300.4h0.8M263.5 289.6h0.8M235.5 308.6h0.8M289.3 328.9h0.8M314.1 331.0h0.8M314.7 309.4h0.8M258.4 314.3h0.8M337.4 305.1h0.8M335.8 318.6h0.8M271.7 324.8h0.8M370.2 311.4h0.8M296.5 304.8h0.8M240.7 306.0h0.8M282.3 322.1h0.8M281.7 318.2h0.8M274.4 279.6h0.8M320.6 337.2h0.8M318.8 302.1h0.8M208.9 306.0h0.8M394.5 312.2h0.8M366.4 297.9h0.8M331.7 324.8h0.8M267.6 316.0h0.8M239.4 309.2h0.8M339.8 295.4h0.8M283.1 334.0h0.8M308.6 327.3h0.8M225.5 319.5h0.8M356.1 312.6h0.8M306.1 303.0h0.8M273.1 290.4h0.8M250.9 273.3h0.8M245.5 309.7h0.8M231.3 317.3h0.8M263.5 277.9h0.8M268.1 269.3h0.8M227.1 304.7h0.8M377.0 309.7h0.8M213.3 312.6h0.8M332.5 320.0h0.8M366.5 321.8h0.8M244.4 287.9h0.8M267.3 288.8h0.8M356.0 314.8h0.8M276.5 335.3h0.8M305.4 293.7h0.8M278.6 283.7h0.8M307.9 334.3h0.8M338.8 301.7h0.8M250.4 308.4h0.8M314.9 328.6h0.8M361.3 325.2h0.8M271.1 322.1h0.8M273.1 312.3h0.8M272.5 292.4h0.8M280.8 307.1h0.8M318.7 339.4h0.8M229.4 320.2h0.8M320.7 285.3h0.8M287.9 285.9h0.8M251.0 320.5h0.8M319.7 330.5h0.8M353.9 325.7h0.8M338.2 297.5h0.8M324.0 322.3h0.8M205.4 290.1h0.8M400.6 304.2h0.8M347.1 334.3h0.8M325.5 322.8h0.8M348.4 301.3h0.8M407.5 305.0h0.8M292.9 300.5h0.8M318.6 328.6h0.8M292.6 290.6h0.8M318.4 317.7h0.8M353.7 292.1h0.8M387.8 312.6h0.8M353.2 306.2h0.8M246.6 287.7h0.8M294.2 307.2h0.8M224.3 308.8h0.8M226.3 308.7h0.8M351.9 294.4h0.8M306.2 338.1h0.8M295.4 330.4h0.8M375.5 300.0h0.8M328.9 309.9h0.8M205.1 308.6h0.8M302.8 271.8h0.8M274.8 300.7h0.8M326.5 330.2h0.8M308.7 296.4h0.8M261.2 320.2h0.8M382.0 316.5h0.8M283.8 328.7h0.8M288.9 317.3h0.8M323.2 313.8h0.8M373.0 279.4h0.8M308.9 335.4h0.8M268.7 275.6h0.8M310.0 328.4h0.8M305.1 341.8h0.8M259.7 295.2h0.8M279.1 271.6h0.8M251.5 313.3h0.8M283.8 323.9h0.8M267.4 289.6h0.8M365.0 293.7h0.8M278.7 312.4h0.8M272.8 279.2h0.8M293.9 302.1h0.8M329.8 324.1h0.8M255.3 294.8h0.8M323.9 297.1h0.8M257.6 289.8h0.8M282.2 287.6h0.8M378.9 298.2h0.8M340.4 290.5h0.8M237.2 327.1h0.8M216.8 315.2h0.8M291.8 265.1h0.8M289.7 328.0h0.8M303.8 323.5h0.8M287.3 341.5h0.8M273.1 329.6h0.8M342.2 328.5h0.8M305.7 349.1h0.8M246.6 317.4h0.8M330.0 327.5h0.8M230.5 308.4h0.8M312.3 305.2h0.8M287.8 334.9h0.8M212.1 297.3h0.8M377.8 306.8h0.8M235.0 296.6h0.8M262.6 292.1h0.8M240.0 298.8h0.8M306.2 316.0h0.8M230.5 313.7h0.8M264.2 286.7h0.8M343.6 301.8h0.8M245.7 327.2h0.8M319.4 321.2h0.8M402.1 294.1h0.8M221.1 282.1h0.8M282.5 303.9h0.8M377.5 317.2h0.8M247.1 306.1h0.8M354.0 328.3h0.8M281.8 308.6h0.8M357.0 331.5h0.8M360.3 306.5h0.8M222.5 297.9h0.8M314.2 293.1h0.8M313.0 324.9h0.8M232.3 307.7h0.8M295.2 289.5h0.8M325.4 287.5h0.8M347.4 338.9h0.8M314.5 339.0h0.8M347.5 308.4h0.8M247.1 305.2h0.8M289.3 325.0h0.8M268.8 291.0h0.8M351.4 309.5h0.8M242.7 305.6h0.8M237.1 311.4h0.8M343.0 316.9h0.8M216.5 303.3h0.8M216.3 293.9h0.8M340.0 332.8h0.8M210.5 305.3h0.8M370.1 300.9h0.8M272.3 306.9h0.8M350.2 333.4h0.8M200.3 307.0h0.8M304.9 290.4h0.8M300.0 310.9h0.8M383.9 314.5h0.8M289.6 278.2h0.8M272.7 288.5h0.8M311.5 305.7h0.8M243.1 310.4h0.8M280.0 297.9h0.8M216.3 283.2h0.8M248.3 299.2h0.8M292.9 327.6h0.8M267.1 272.0h0.8M347.4 309.2h0.8M331.3 325.1h0.8M233.2 321.3h0.8M331.2 297.3h0.8M343.3 321.8h0.8M252.4 311.6h0.8M248.5 293.7h0.8M395.2 293.6h0.8M296.5 307.0h0.8M296.3 328.0h0.8M271.8 302.7h0.8M242.4 319.1h0.8M337.7 322.5h0.8M229.2 309.8h0.8M333.3 306.1h0.8M349.5 319.1h0.8M392.8 308.1h0.8M279.3 318.9h0.8M385.1 317.3h0.8M336.0 309.7h0.8M234.1 300.6h0.8M245.9 309.8h0.8M283.8 301.5h0.8M333.7 313.5h0.8M242.6 322.1h0.8M271.7 289.1h0.8M244.2 298.2h0.8M381.0 293.1h0.8M283.7 316.6h0.8M346.9 320.3h0.8M360.8 288.5h0.8M320.1 330.6h0.8M287.3 267.1h0.8M288.7 323.4h0.8M286.8 283.0h0.8M315.6 272.8h0.8M296.6 283.9h0.8M328.3 285.9h0.8M311.6 284.9h0.8M309.0 328.1h0.8M290.5 313.6h0.8M295.1 332.2h0.8M312.1 289.1h0.8M290.1 290.3h0.8M365.0 296.8h0.8M305.6 292.6h0.8M351.9 302.4h0.8M293.3 275.4h0.8M319.1 338.9h0.8M258.5 322.9h0.8M336.7 321.9h0.8M299.2 318.6h0.8M291.1 307.2h0.8M376.0 324.0h0.8M356.9 286.4h0.8M322.9 295.1h0.8M276.8 336.4h0.8M288.9 299.2h0.8M278.9 280.5h0.8M204.6 314.5h0.8M241.3 280.5h0.8M201.2 307.1h0.8M247.3 282.9h0.8M230.5 310.5h0.8M286.7 296.6h0.8M224.7 315.0h0.8M284.2 320.8h0.8M371.0 313.0h0.8M315.6 322.9h0.8M346.6 298.8h0.8M302.7 340.7h0.8M276.5 314.7h0.8M331.1 327.7h0.8M341.4 330.8h0.8M216.7 291.3h0.8M356.6 305.6h0.8M275.7 300.0h0.8M228.6 312.0h0.8M349.9 317.6h0.8M343.9 291.7h0.8M351.9 316.9h0.8M199.7 315.0h0.8M392.4 290.1h0.8M237.8 315.5h0.8M205.5 314.6h0.8M281.7 295.7h0.8M317.5 336.9h0.8M338.1 311.2h0.8M301.1 313.2h0.8M275.9 309.2h0.8M223.0 289.8h0.8M227.2 315.5h0.8M215.8 287.7h0.8M276.2 308.8h0.8M216.6 318.0h0.8M337.0 304.6h0.8M315.9 305.5h0.8M312.7 301.5h0.8M256.4 312.8h0.8M236.3 307.2h0.8M240.2 320.1h0.8M303.2 296.2h0.8M290.8 319.9h0.8M297.9 266.5h0.8M218.2 308.5h0.8M306.2 332.2h0.8M253.6 301.7h0.8M250.5 299.3h0.8M302.1 315.6h0.8M290.7 322.1h0.8M279.7 304.1h0.8M340.9 327.3h0.8M255.9 297.9h0.8M292.6 323.4h0.8M227.3 279.5h0.8M289.1 319.3h0.8M321.6 290.3h0.8M286.8 321.2h0.8M332.8 325.2h0.8M283.9 295.9h0.8M276.8 298.7h0.8M233.7 301.0h0.8M369.9 306.2h0.8M306.0 329.7h0.8M254.6 308.6h0.8M342.3 317.6h0.8M266.1 284.2h0.8M295.4 313.8h0.8M354.8 316.2h0.8M378.7 310.6h0.8M382.2 286.3h0.8M389.3 302.4h0.8M208.2 308.0h0.8M377.9 303.1h0.8M241.5 310.4h0.8M285.2 286.4h0.8M356.2 304.8h0.8M274.9 276.1h0.8M321.6 315.2h0.8M363.0 304.9h0.8M316.6 312.8h0.8M294.5 309.9h0.8M370.5 321.4h0.8M346.0 322.4h0.8M288.3 309.8h0.8M315.6 279.1h0.8M280.2 323.7h0.8M206.7 298.0h0.8M290.2 298.6h0.8M363.8 303.4h0.8M254.8 278.0h0.8M312.0 306.7h0.8M320.0 329.3h0.8M252.2 305.7h0.8M325.8 319.4h0.8M266.1 316.7h0.8M365.6 306.2h0.8M279.6 300.9h0.8M301.9 307.4h0.8M237.3 320.3h0.8M296.1 339.3h0.8M378.2 295.8h0.8M351.5 316.7h0.8M346.2 319.2h0.8M277.5 248.9h0.8M352.5 313.3h0.8M311.5 344.2h0.8M346.8 319.9h0.8M361.0 310.6h0.8M306.4 266.1h0.8M286.5 272.9h0.8M261.0 303.6h0.8M345.4 309.1h0.8M318.8 294.9h0.8M377.8 311.5h0.8M265.1 334.5h0.8M347.1 307.8h0.8M274.9 297.8h0.8M252.3 322.6h0.8M333.4 310.4h0.8M263.2 312.1h0.8M297.7 320.0h0.8M345.2 296.9h0.8M304.7 327.7h0.8M336.1 317.6h0.8M277.3 331.7h0.8M343.2 305.9h0.8M277.0 307.8h0.8M393.7 302.2h0.8M298.3 281.9h0.8M280.7 331.5h0.8M369.1 305.1h0.8M278.8 313.8h0.8M304.5 280.6h0.8M317.3 311.0h0.8M297.1 305.3h0.8M254.2 305.4h0.8M273.2 287.5h0.8M293.1 289.3h0.8M234.4 319.5h0.8M293.9 304.0h0.8M249.2 320.3h0.8M196.9 315.3h0.8M270.9 302.1h0.8M266.5 294.2h0.8M264.3 315.8h0.8M281.9 321.5h0.8M263.8 305.7h0.8M311.6 280.3h0.8M358.5 307.2h0.8M270.7 309.8h0.8M383.4 289.3h0.8M256.0 314.9h0.8M294.8 310.4h0.8M334.2 303.9h0.8M299.2 258.1h0.8M252.7 322.5h0.8M341.3 286.5h0.8M247.0 311.9h0.8M269.4 313.1h0.8M287.1 301.5h0.8M388.7 275.9h0.8M336.3 263.3h0.8M306.6 342.4h0.8M231.2 322.3h0.8M264.7 325.3h0.8M322.8 327.8h0.8M233.7 292.2h0.8M284.9 284.1h0.8M299.9 311.8h0.8M302.2 309.3h0.8M305.0 342.4h0.8M284.4 323.7h0.8M361.1 300.6h0.8M262.4 300.5h0.8M306.5 341.9h0.8M270.2 324.7h0.8M346.3 320.8h0.8M236.0 324.9h0.8M221.2 310.6h0.8M230.7 319.5h0.8M353.4 292.3h0.8M345.9 311.9h0.8M318.1 306.6h0.8M328.8 327.3h0.8M274.9 290.3h0.8M322.8 281.7h0.8M226.4 318.8h0.8M327.8 318.3h0.8M295.2 331.7h0.8M325.3 303.5h0.8M323.7 322.1h0.8M327.2 338.2h0.8M246.9 324.6h0.8M260.8 315.8h0.8M337.5 332.8h0.8M352.5 314.9h0.8M294.1 290.6h0.8M295.2 276.1h0.8M279.3 326.9h0.8M362.6 304.2h0.8M399.7 295.9h0.8M231.4 307.7h0.8M288.2 307.0h0.8M252.4 297.1h0.8M288.3 329.9h0.8M304.5 330.0h0.8M298.5 334.5h0.8M298.2 336.1h0.8M366.1 322.7h0.8M263.7 313.1h0.8M349.4 303.2h0.8M237.5 278.8h0.8M274.3 300.8h0.8M214.8 279.8h0.8M262.9 308.0h0.8M386.8 308.8h0.8M303.1 318.6h0.8M292.1 327.1h0.8M323.5 281.8h0.8M236.8 283.9h0.8M276.7 306.6h0.8M297.8 283.6h0.8M393.4 305.4h0.8M253.5 324.0h0.8M251.8 283.9h0.8M312.6 316.7h0.8M293.6 306.4h0.8M265.5 310.4h0.8M286.2 291.4h0.8M203.1 316.9h0.8M321.0 306.8h0.8M344.0 298.4h0.8M258.8 306.6h0.8M270.2 322.4h0.8M268.2 316.6h0.8M372.2 319.3h0.8M241.5 320.7h0.8M231.7 320.4h0.8M330.1 308.7h0.8M320.5 281.8h0.8M229.1 318.4h0.8M392.9 303.2h0.8M315.6 334.0h0.8M322.1 297.8h0.8M226.1 311.8h0.8M255.7 275.2h0.8M339.8 313.3h0.8M265.7 329.9h0.8M221.4 305.2h0.8M277.4 309.0h0.8M235.6 310.7h0.8M221.2 274.4h0.8M267.8 286.0h0.8M235.2 315.2h0.8M392.6 303.9h0.8M307.3 316.0h0.8M327.4 328.8h0.8M300.0 290.4h0.8M320.1 334.4h0.8M283.5 318.1h0.8M294.0 294.3h0.8M333.0 306.2h0.8M335.5 303.2h0.8M251.6 296.0h0.8M250.6 296.9h0.8M317.9 349.6h0.8M280.2 232.7h0.8M298.2 324.5h0.8M216.3 281.0h0.8M249.8 316.3h0.8M261.4 299.9h0.8M240.5 292.9h0.8M328.3 277.3h0.8M210.7 313.3h0.8M271.6 274.4h0.8M393.7 310.8h0.8M346.2 324.7h0.8M348.4 273.2h0.8M385.9 283.5h0.8M338.3 334.8h0.8M324.7 323.2h0.8M246.8 307.0h0.8M308.0 289.6h0.8M264.8 300.7h0.8M343.2 317.3h0.8M302.5 275.8h0.8M342.0 315.3h0.8M312.6 295.0h0.8M274.8 304.1h0.8M227.7 306.0h0.8M356.3 323.3h0.8M244.3 319.2h0.8M369.0 282.3h0.8M355.5 305.7h0.8M361.2 273.7h0.8M335.2 324.6h0.8M272.3 315.1h0.8M359.1 313.1h0.8M264.5 257.7h0.8M326.4 339.9h0.8M218.0 288.8h0.8M315.3 297.4h0.8M300.6 308.0h0.8M255.7 312.1h0.8M268.2 311.8h0.8M373.0 295.3h0.8M264.4 325.4h0.8M353.2 314.7h0.8M300.3 338.5h0.8M351.4 316.4h0.8M287.4 287.9h0.8M311.7 289.8h0.8M319.6 326.4h0.8M245.0 304.4h0.8M268.7 262.4h0.8M362.3 302.4h0.8M369.4 327.4h0.8M240.9 290.9h0.8M386.9 283.0h0.8M345.4 319.6h0.8M377.5 290.7h0.8M277.9 306.3h0.8M277.4 272.7h0.8M292.2 294.9h0.8M287.9 317.4h0.8M328.3 321.7h0.8M316.2 303.4h0.8M378.7 290.6h0.8M225.9 302.2h0.8M312.1 340.1h0.8M315.1 282.7h0.8M288.1 327.0h0.8M233.1 323.4h0.8M293.2 267.3h0.8M275.1 319.8h0.8M232.2 313.4h0.8M243.4 317.5h0.8M305.1 331.5h0.8M331.8 319.3h0.8M313.3 279.2h0.8M201.6 293.8h0.8M345.2 320.9h0.8M236.1 307.5h0.8M242.8 289.1h0.8M328.8 284.7h0.8M290.4 280.7h0.8M240.9 314.7h0.8M259.8 312.6h0.8M368.8 309.6h0.8M312.2 301.6h0.8M259.2 309.6h0.8M340.9 307.7h0.8M289.6 289.0h0.8M303.1 290.6h0.8M214.9 306.2h0.8M274.6 301.9h0.8M311.8 325.4h0.8M297.7 307.8h0.8M312.3 333.2h0.8M294.2 303.9h0.8M315.8 286.2h0.8M338.6 285.7h0.8M313.8 334.7h0.8M345.4 308.8h0.8M246.1 326.4h0.8M286.6 318.6h0.8M327.9 332.6h0.8M300.2 277.7h0.8M256.2 277.3h0.8M325.2 293.7h0.8M214.0 318.4h0.8M283.0 302.8h0.8M256.3 317.4h0.8M378.2 311.4h0.8M358.9 308.9h0.8M269.9 311.3h0.8M286.4 295.4h0.8M282.3 329.2h0.8M363.9 309.8h0.8M253.3 313.8h0.8M240.6 296.6h0.8M308.6 313.7h0.8M242.8 291.4h0.8M300.8 331.6h0.8M275.5 277.2h0.8M247.3 298.7h0.8M223.8 304.7h0.8M301.3 297.8h0.8M241.2 311.6h0.8M273.0 275.1h0.8M372.1 299.4h0.8M275.7 290.2h0.8M246.9 291.6h0.8M336.6 282.6h0.8M310.3 310.1h0.8M284.7 308.1h0.8M342.0 312.9h0.8M324.2 271.5h0.8M298.3 321.3h0.8M288.0 321.2h0.8M289.9 288.7h0.8M351.2 312.0h0.8M280.7 308.6h0.8M315.1 338.6h0.8M273.2 306.1h0.8M251.4 316.7h0.8M255.7 310.3h0.8M318.6 343.9h0.8M290.5 289.7h0.8M296.3 320.5h0.8M351.8 295.5h0.8M257.1 311.7h0.8M278.4 323.9h0.8M278.0 315.0h0.8M326.9 300.7h0.8M352.9 331.3h0.8M246.9 281.3h0.8M296.1 281.8h0.8M322.8 335.1h0.8M293.0 279.8h0.8M345.9 330.6h0.8M317.1 289.3h0.8M323.6 319.8h0.8M298.6 331.8h0.8M319.2 310.4h0.8M198.7 308.4h0.8M252.0 294.1h0.8M301.0 284.9h0.8M328.3 318.8h0.8M346.0 323.7h0.8M334.4 294.6h0.8M315.0 293.5h0.8M222.1 301.1h0.8M246.4 315.5h0.8M332.2 308.7h0.8M324.4 285.5h0.8M341.7 302.8h0.8M228.2 310.3h0.8M243.9 281.2h0.8M354.9 305.4h0.8M320.7 275.3h0.8M239.0 325.2h0.8M343.7 317.5h0.8M364.6 316.8h0.8M316.3 305.5h0.8M358.8 306.2h0.8M223.0 302.4h0.8M242.4 311.1h0.8M290.4 282.2h0.8M256.9 316.6h0.8M318.9 279.6h0.8M318.8 330.2h0.8M274.4 296.3h0.8M377.6 302.7h0.8M299.6 289.5h0.8M356.9 313.1h0.8M398.4 295.7h0.8M289.1 295.9h0.8M193.3 313.9h0.8M308.5 336.8h0.8M323.8 330.0h0.8M282.9 327.9h0.8M368.1 310.5h0.8M337.5 325.2h0.8M306.5 342.1h0.8M372.5 277.9h0.8M250.3 313.3h0.8M324.8 339.9h0.8M302.7 302.7h0.8M353.1 319.7h0.8M331.5 290.8h0.8M355.9 293.4h0.8M252.4 318.5h0.8M280.1 296.7h0.8M371.3 316.7h0.8M291.1 305.8h0.8M289.5 245.7h0.8M266.6 268.8h0.8M257.6 289.5h0.8M253.2 324.0h0.8M274.6 270.5h0.8M258.7 276.8h0.8M276.5 324.8h0.8M389.4 314.6h0.8M280.4 324.0h0.8M305.7 323.0h0.8M299.9 301.5h0.8M224.8 289.3h0.8M275.3 333.4h0.8M346.7 311.5h0.8M329.7 316.8h0.8M267.2 301.0h0.8M345.4 303.5h0.8M267.5 291.9h0.8M311.5 342.2h0.8M339.9 311.8h0.8M347.0 308.1h0.8M272.8 314.9h0.8M294.5 318.2h0.8M281.5 270.3h0.8M246.8 294.5h0.8M247.0 314.3h0.8M272.2 330.6h0.8M260.5 311.4h0.8M321.7 327.7h0.8M234.3 293.0h0.8M350.5 303.4h0.8M351.7 336.5h0.8M264.2 324.7h0.8M361.7 310.7h0.8M334.9 294.8h0.8M308.9 305.4h0.8M303.2 321.4h0.8M298.4 298.8h0.8M250.5 292.6h0.8M256.9 295.4h0.8M366.9 293.2h0.8M285.5 324.1h0.8M259.3 328.4h0.8M230.4 298.7h0.8M325.4 313.7h0.8M353.1 327.6h0.8M332.4 314.0h0.8M381.4 301.3h0.8M301.6 328.0h0.8M242.2 318.9h0.8M298.3 325.1h0.8M362.2 319.4h0.8M325.7 325.1h0.8M263.4 304.1h0.8M295.0 343.7h0.8M259.8 300.7h0.8M291.5 284.0h0.8M224.7 291.9h0.8M294.8 327.2h0.8M320.5 316.6h0.8M242.7 311.4h0.8M283.1 318.3h0.8M285.2 299.1h0.8M279.9 324.7h0.8M292.7 300.0h0.8M338.3 306.9h0.8M291.4 323.3h0.8M250.3 316.3h0.8M402.4 304.5h0.8M374.0 309.0h0.8M297.3 339.0h0.8M387.0 307.5h0.8M332.9 324.4h0.8M348.1 292.0h0.8M312.1 287.8h0.8M248.6 325.1h0.8M311.9 305.8h0.8M281.5 321.6h0.8M216.3 305.2h0.8M331.1 308.5h0.8M283.1 286.9h0.8M257.4 281.8h0.8M214.1 311.2h0.8M300.2 248.6h0.8M230.1 304.9h0.8M291.2 266.8h0.8M357.3 307.5h0.8M330.5 334.5h0.8M248.2 310.8h0.8M302.9 340.8h0.8M351.0 282.3h0.8M316.9 341.5h0.8M251.2 318.2h0.8M331.1 323.2h0.8M337.3 292.5h0.8M264.3 246.0h0.8M214.7 314.9h0.8M326.1 326.2h0.8M339.2 326.8h0.8M335.1 285.7h0.8M279.9 310.5h0.8M362.3 274.8h0.8M314.8 294.9h0.8M343.8 309.8h0.8M223.9 303.0h0.8M306.7 315.8h0.8M232.9 305.6h0.8M280.3 316.2h0.8M215.3 314.6h0.8M269.8 301.9h0.8M358.2 315.0h0.8M338.4 330.2h0.8M279.9 292.6h0.8M260.6 312.5h0.8M320.6 320.2h0.8M296.9 315.4h0.8M305.7 304.4h0.8M205.3 303.9h0.8M229.9 298.2h0.8M274.0 322.3h0.8M334.9 315.9h0.8M296.8 284.2h0.8M366.8 309.2h0.8M323.4 345.2h0.8M269.4 319.2h0.8M336.8 291.4h0.8M294.6 316.0h0.8M318.2 294.0h0.8M282.5 311.2h0.8M267.4 308.3h0.8M322.8 309.9h0.8M275.1 302.6h0.8M224.0 284.6h0.8M250.8 305.3h0.8M355.8 325.8h0.8M305.9 330.7h0.8M280.4 321.4h0.8M350.5 326.8h0.8M310.9 327.5h0.8M265.5 309.9h0.8M202.2 297.0h0.8M261.0 297.3h0.8M286.7 309.4h0.8M326.3 320.2h0.8M379.9 307.1h0.8M317.5 338.9h0.8M254.2 276.1h0.8M261.9 313.9h0.8M321.9 323.9h0.8M310.6 301.6h0.8M269.1 281.1h0.8M359.1 308.1h0.8M312.0 265.1h0.8M338.1 328.2h0.8M275.1 314.3h0.8M337.4 323.8h0.8M375.9 318.2h0.8M241.3 295.4h0.8M344.5 298.4h0.8M330.5 328.2h0.8M326.6 324.6h0.8M209.0 310.8h0.8M272.3 302.8h0.8M321.7 322.3h0.8M308.5 309.8h0.8M334.1 292.2h0.8M272.5 319.2h0.8M254.3 306.6h0.8M333.5 324.1h0.8M321.3 331.3h0.8M362.6 299.3h0.8M250.6 263.0h0.8M290.8 320.8h0.8M309.9 323.6h0.8M243.9 324.3h0.8M224.3 292.5h0.8M340.0 312.2h0.8M220.1 316.0h0.8M301.3 288.5h0.8M251.4 325.6h0.8M288.6 324.6h0.8M337.3 314.0h0.8M223.4 298.5h0.8M265.0 276.1h0.8M311.1 343.2h0.8M254.7 313.3h0.8M334.9 340.1h0.8M313.7 285.6h0.8M270.4 294.9h0.8M277.1 282.2h0.8M225.4 317.3h0.8M371.0 312.7h0.8M216.4 306.4h0.8M345.1 292.9h0.8M323.3 329.6h0.8M279.8 257.6h0.8M296.0 259.6h0.8M346.5 328.1h0.8M299.1 337.1h0.8M340.4 289.7h0.8M320.4 298.7h0.8M347.0 317.2h0.8M366.4 290.2h0.8M241.9 323.5h0.8M350.7 300.6h0.8M303.9 271.2h0.8M315.1 335.7h0.8M368.5 315.9h0.8M361.9 322.2h0.8M253.1 312.1h0.8M318.0 350.3h0.8M278.5 302.3h0.8M263.9 289.9h0.8M307.6 336.8h0.8M358.1 297.7h0.8M244.3 306.4h0.8M373.9 306.7h0.8M275.1 313.0h0.8M278.9 336.8h0.8M274.0 329.7h0.8M335.9 324.0h0.8M270.7 310.2h0.8M352.3 306.1h0.8M305.3 327.3h0.8M319.0 291.6h0.8M222.1 292.6h0.8M225.6 296.2h0.8M286.5 319.0h0.8M320.6 280.2h0.8M349.6 297.2h0.8M315.3 339.9h0.8M216.4 303.7h0.8M354.3 336.7h0.8M217.3 316.0h0.8M380.2 311.3h0.8M321.4 315.3h0.8M348.8 327.9h0.8M245.5 305.9h0.8M250.3 296.9h0.8M322.0 317.4h0.8M287.2 264.4h0.8M241.3 294.6h0.8M307.4 293.2h0.8M284.2 282.6h0.8M344.9 328.6h0.8M251.2 302.3h0.8M367.2 271.7h0.8M391.6 313.9h0.8M343.6 309.5h0.8M385.7 297.4h0.8M349.9 319.8h0.8M287.4 323.5h0.8M304.4 285.5h0.8M359.6 318.4h0.8M249.6 307.1h0.8M283.2 296.4h0.8M319.7 307.3h0.8M308.8 322.6h0.8M314.7 293.0h0.8M218.6 303.3h0.8M342.1 310.1h0.8M256.7 303.0h0.8M305.0 292.4h0.8M357.0 291.8h0.8M325.3 345.9h0.8M329.9 332.3h0.8M354.8 292.2h0.8M296.2 317.8h0.8M315.8 312.8h0.8M255.3 289.3h0.8M223.8 289.6h0.8M265.5 294.2h0.8M263.6 297.3h0.8M228.0 313.9h0.8M322.8 320.6h0.8M300.9 268.6h0.8M313.4 332.5h0.8M242.1 301.8h0.8M226.3 307.8h0.8M303.3 317.5h0.8M281.1 319.8h0.8M408.5 303.9h0.8M378.9 297.4h0.8M297.2 271.8h0.8M356.1 287.5h0.8M353.0 303.2h0.8M234.6 317.1h0.8M279.1 312.1h0.8M331.8 290.2h0.8M227.1 291.9h0.8M335.7 288.7h0.8M297.4 296.1h0.8M351.1 283.0h0.8M312.4 303.8h0.8M262.9 329.7h0.8M244.4 295.0h0.8M262.1 302.3h0.8M370.1 286.6h0.8M271.4 316.7h0.8M321.3 270.9h0.8M259.9 295.0h0.8M265.5 291.0h0.8M401.7 305.0h0.8M285.0 339.7h0.8M385.4 315.5h0.8M365.6 310.2h0.8M350.3 315.6h0.8M304.3 325.8h0.8M338.5 331.3h0.8M253.3 322.4h0.8M226.6 293.8h0.8M287.2 337.0h0.8M339.6 331.8h0.8M288.9 333.0h0.8M302.1 314.1h0.8M264.5 318.8h0.8M260.6 313.5h0.8M229.0 302.9h0.8M262.7 318.7h0.8M307.2 338.0h0.8M291.7 330.0h0.8M280.2 309.1h0.8M296.5 298.8h0.8M269.7 319.0h0.8M359.0 303.8h0.8M253.7 313.8h0.8M265.2 326.9h0.8M276.8 308.7h0.8M320.6 288.6h0.8M267.5 332.3h0.8M274.5 322.8h0.8M341.6 311.8h0.8M307.8 323.9h0.8M210.5 308.8h0.8M368.6 302.2h0.8M303.5 301.3h0.8M281.2 269.7h0.8M377.2 304.2h0.8M363.7 308.9h0.8M345.6 297.5h0.8M398.0 307.0h0.8M397.2 308.5h0.8M306.7 292.0h0.8M239.7 296.3h0.8M334.4 280.0h0.8M330.6 321.9h0.8M254.4 276.2h0.8M286.8 291.9h0.8M301.6 336.6h0.8M334.3 285.7h0.8M242.3 308.8h0.8M265.4 315.9h0.8M320.6 327.4h0.8M261.1 292.2h0.8M272.4 283.4h0.8M266.8 302.0h0.8M274.3 326.8h0.8M269.8 301.6h0.8M309.8 266.7h0.8M291.8 324.5h0.8M357.4 312.2h0.8M373.8 306.0h0.8M280.4 293.6h0.8M241.7 302.4h0.8M329.9 300.0h0.8M299.6 335.9h0.8M227.4 303.3h0.8M279.5 303.3h0.8M381.0 315.4h0.8M290.9 335.4h0.8M325.1 342.4h0.8M247.5 287.1h0.8M265.7 298.8h0.8M244.8 293.6h0.8M284.0 322.6h0.8M395.5 305.9h0.8M214.3 304.9h0.8M205.4 303.4h0.8M391.5 289.8h0.8M269.9 297.1h0.8M379.8 301.3h0.8M339.5 338.4h0.8M290.0 305.8h0.8M397.5 303.1h0.8M354.9 314.2h0.8M350.6 293.0h0.8M307.8 350.5h0.8M316.1 339.5h0.8M238.1 324.8h0.8M251.6 292.2h0.8M331.7 288.7h0.8M331.0 301.6h0.8M346.7 335.6h0.8M284.1 277.1h0.8M313.4 279.5h0.8M327.2 296.1h0.8M314.0 343.4h0.8M294.9 317.4h0.8M221.2 299.4h0.8M258.0 308.6h0.8M387.8 296.3h0.8M302.7 327.4h0.8M271.8 268.1h0.8M310.7 320.7h0.8M263.7 307.5h0.8M316.8 339.2h0.8M254.3 284.1h0.8M304.6 290.2h0.8M306.3 344.9h0.8M392.3 291.9h0.8M313.6 282.6h0.8M311.9 320.7h0.8M332.9 283.5h0.8M392.6 303.0h0.8M244.3 319.4h0.8M236.9 313.4h0.8M265.7 257.2h0.8M201.1 310.5h0.8M277.2 286.5h0.8M361.6 314.5h0.8M286.6 315.0h0.8M296.0 306.5h0.8M278.1 288.2h0.8M299.6 294.8h0.8M342.2 302.5h0.8M358.9 305.5h0.8M317.1 298.2h0.8M251.6 314.3h0.8M227.0 286.0h0.8M291.7 319.4h0.8M347.5 315.2h0.8M247.0 308.3h0.8M341.7 312.1h0.8M277.5 269.9h0.8M241.3 313.8h0.8M286.3 272.2h0.8M266.5 304.3h0.8M294.5 272.8h0.8M271.3 300.9h0.8M286.3 312.5h0.8M319.3 306.3h0.8M306.0 306.2h0.8M222.1 297.5h0.8M287.2 274.1h0.8M233.0 274.4h0.8M311.9 337.4h0.8M218.7 303.2h0.8M203.1 302.4h0.8M305.5 320.5h0.8M331.2 319.4h0.8M255.6 303.9h0.8M323.2 319.0h0.8M299.9 292.5h0.8M285.7 333.1h0.8M211.1 286.8h0.8M304.4 326.4h0.8M294.4 300.1h0.8" stroke="#30f040" stroke-width="0.8" fill="none"/>
<path d="M317.8 319.6h0.8M348.9 326.5h0.8M247.3 319.3h0.8M254.9 296.5h0.8M266.0 285.5h0.8M368.8 319.3h0.8M264.4 287.2h0.8M274.3 303.0h0.8M294.9 311.1h0.8M347.3 317.7h0.8M238.6 314.7h0.8M247.5 301.3h0.8M346.1 333.0h0.8M226.8 305.5h0.8M310.1 351.9h0.8M218.3 323.5h0.8M310.7 313.2h0.8M317.3 310.6h0.8M276.8 303.0h0.8M236.3 328.8h0.8M305.0 295.1h0.8M316.2 325.3h0.8M285.2 290.1h0.8M281.9 306.4h0.8M344.1 303.2h0.8M369.2 313.0h0.8M296.8 344.2h0.8M291.5 293.6h0.8M267.0 299.4h0.8M356.8 316.0h0.8M329.5 303.9h0.8M285.3 327.9h0.8M394.9 311.0h0.8M296.6 297.2h0.8M322.6 301.9h0.8M387.9 306.6h0.8M321.3 304.1h0.8M319.9 347.2h0.8M252.3 332.5h0.8M224.2 300.8h0.8M298.8 334.6h0.8M284.8 311.4h0.8M244.9 313.1h0.8M231.3 313.8h0.8M311.5 302.4h0.8M259.1 330.3h0.8M257.9 298.3h0.8M302.4 334.6h0.8M403.3 310.2h0.8M274.3 322.4h0.8M305.3 340.0h0.8M331.3 330.7h0.8M202.5 316.7h0.8M308.3 301.5h0.8M281.2 306.9h0.8M305.4 303.1h0.8M317.8 289.5h0.8M237.2 316.3h0.8M216.8 314.2h0.8M386.6 310.9h0.8M317.5 300.1h0.8M319.0 309.4h0.8M255.5 288.5h0.8M333.2 321.9h0.8M292.7 327.9h0.8M292.0 327.5h0.8M283.7 294.8h0.8M348.5 338.3h0.8M306.1 307.2h0.8M354.3 319.9h0.8M269.1 339.2h0.8M331.6 339.0h0.8M275.3 338.8h0.8M221.8 303.6h0.8M330.6 316.3h0.8M203.8 309.7h0.8M290.0 281.1h0.8M278.2 340.6h0.8M362.6 311.3h0.8M256.0 289.7h0.8M379.9 325.0h0.8M218.3 311.0h0.8M304.0 300.9h0.8M316.0 331.4h0.8M243.0 325.6h0.8M236.8 297.9h0.8M285.4 299.5h0.8M359.3 303.7h0.8M251.4 299.3h0.8M223.7 310.9h0.8M240.0 331.8h0.8M380.9 307.4h0.8M313.0 349.4h0.8M265.7 332.1h0.8M340.1 293.6h0.8M288.5 302.6h0.8M367.3 326.0h0.8M313.6 313.6h0.8M247.7 327.2h0.8M228.8 300.5h0.8M281.3 298.4h0.8M272.7 334.8h0.8M320.4 325.5h0.8M236.9 306.0h0.8M356.0 295.4h0.8M355.1 310.2h0.8M239.9 329.1h0.8M236.4 308.0h0.8M317.5 323.7h0.8M357.4 315.0h0.8M352.9 305.8h0.8M332.7 326.5h0.8M328.7 290.4h0.8M261.1 281.0h0.8M224.8 326.3h0.8M340.3 318.9h0.8M269.4 332.9h0.8M301.4 343.0h0.8M236.0 309.8h0.8M282.1 309.1h0.8M255.9 301.2h0.8M314.1 317.0h0.8M237.3 296.1h0.8M299.4 290.2h0.8M371.9 312.3h0.8M260.7 294.0h0.8M267.9 295.4h0.8M331.8 315.2h0.8M282.2 305.9h0.8M248.6 329.0h0.8M215.2 313.1h0.8M273.0 338.9h0.8M356.2 334.9h0.8M361.9 300.7h0.8M303.1 332.6h0.8M284.0 309.4h0.8M306.1 288.7h0.8M299.5 296.9h0.8M310.3 348.5h0.8M237.3 288.5h0.8M363.7 327.1h0.8M298.7 288.3h0.8M260.8 329.4h0.8M304.4 350.2h0.8M317.1 346.3h0.8M310.3 316.6h0.8M261.4 306.9h0.8M339.9 302.2h0.8M290.7 324.8h0.8M275.8 342.9h0.8M296.8 300.3h0.8M330.6 311.2h0.8M289.9 287.5h0.8M262.0 325.7h0.8M331.2 293.7h0.8M314.6 330.1h0.8M338.6 304.3h0.8M262.4 294.1h0.8M282.5 284.1h0.8M359.4 315.4h0.8M350.2 337.1h0.8M237.2 289.9h0.8M302.4 328.5h0.8M205.6 309.9h0.8M194.6 314.7h0.8M293.0 339.9h0.8M386.6 314.1h0.8M261.1 337.1h0.8M260.0 292.0h0.8M330.9 314.2h0.8M344.1 324.8h0.8M216.0 313.2h0.8M272.1 286.3h0.8M315.8 343.0h0.8M243.5 309.9h0.8M386.1 319.5h0.8M356.9 315.2h0.8M380.9 318.3h0.8M310.8 307.6h0.8M351.8 306.3h0.8M276.9 337.2h0.8M343.5 343.1h0.8M229.3 325.5h0.8M293.4 308.7h0.8M281.2 278.7h0.8M313.0 301.4h0.8M221.0 309.8h0.8M358.5 312.9h0.8M234.7 329.8h0.8M225.0 307.8h0.8M335.1 325.3h0.8M389.3 307.8h0.8M285.5 341.1h0.8M259.6 322.0h0.8M351.5 311.3h0.8M231.9 316.7h0.8M391.4 314.7h0.8M256.1 295.5h0.8M380.8 318.7h0.8M327.4 297.0h0.8M331.0 294.0h0.8M378.0 326.6h0.8M245.3 331.0h0.8M243.7 330.2h0.8M274.7 316.4h0.8M338.5 317.6h0.8M339.3 306.3h0.8M225.9 323.6h0.8M267.4 334.8h0.8M276.3 318.7h0.8M296.1 290.7h0.8M314.2 342.5h0.8M273.2 280.3h0.8M340.7 321.2h0.8M216.0 310.2h0.8M302.9 320.7h0.8M379.7 317.9h0.8M317.3 310.7h0.8M235.7 297.8h0.8M370.7 306.7h0.8M231.7 299.4h0.8M378.0 315.7h0.8M277.8 289.9h0.8M288.0 309.5h0.8M224.9 315.6h0.8M278.4 306.9h0.8M270.4 306.1h0.8M300.5 300.4h0.8M313.6 347.7h0.8M324.0 339.4h0.8M335.2 335.5h0.8M349.3 320.8h0.8M233.5 304.6h0.8M328.5 309.0h0.8M306.8 289.7h0.8M276.8 300.6h0.8M265.1 313.3h0.8M249.5 304.6h0.8M282.7 295.6h0.8M285.9 319.4h0.8M354.4 295.4h0.8M241.2 320.8h0.8M354.8 303.1h0.8M250.6 298.4h0.8M310.2 343.2h0.8M313.1 309.0h0.8M397.4 314.2h0.8M385.5 318.5h0.8M317.4 312.3h0.8M269.7 323.8h0.8M274.4 278.7h0.8M276.0 329.7h0.8M246.7 325.2h0.8M206.5 305.2h0.8M327.3 294.0h0.8M276.1 322.0h0.8M285.5 307.8h0.8M368.6 309.8h0.8M295.7 308.9h0.8M319.7 344.5h0.8M195.7 317.3h0.8M294.5 322.5h0.8M368.5 330.9h0.8M268.9 301.3h0.8M253.3 284.9h0.8M332.8 303.2h0.8M301.3 286.6h0.8M262.1 337.7h0.8M299.1 320.2h0.8M371.4 297.2h0.8M220.3 298.0h0.8M301.2 292.2h0.8M338.8 325.3h0.8M352.6 302.1h0.8M272.1 286.2h0.8M282.6 308.3h0.8M323.5 332.8h0.8M308.6 312.8h0.8M358.2 300.0h0.8M296.6 347.3h0.8M321.6 332.5h0.8M344.9 314.4h0.8M354.6 317.0h0.8M202.0 313.5h0.8M302.5 324.3h0.8M256.7 311.6h0.8M376.6 323.1h0.8M329.8 328.9h0.8M346.5 335.7h0.8M375.4 320.6h0.8M269.1 338.9h0.8M313.2 330.9h0.8M272.1 315.3h0.8M316.8 287.4h0.8M360.7 323.0h0.8M288.0 275.0h0.8M317.5 314.4h0.8M343.2 322.9h0.8M244.3 319.9h0.8M279.7 307.2h0.8M298.1 321.7h0.8M335.6 347.5h0.8M259.9 289.9h0.8M237.2 321.7h0.8M311.8 295.6h0.8M317.1 294.6h0.8M244.5 290.1h0.8M295.6 322.1h0.8M358.6 332.7h0.8M282.5 300.6h0.8M402.6 306.9h0.8M285.0 339.0h0.8M275.6 303.7h0.8M346.3 321.1h0.8M382.1 307.0h0.8M266.4 286.4h0.8M336.1 300.7h0.8M315.4 341.4h0.8M339.0 299.7h0.8M278.6 315.3h0.8M250.0 331.4h0.8M362.2 319.0h0.8M227.9 303.9h0.8M359.7 313.8h0.8M260.0 285.2h0.8M314.0 347.7h0.8M342.4 308.9h0.8M311.2 295.1h0.8M334.0 324.2h0.8M253.7 292.8h0.8M273.2 335.1h0.8M295.2 305.3h0.8M254.1 314.8h0.8M383.6 304.4h0.8M283.5 315.0h0.8M269.2 337.1h0.8M332.4 293.1h0.8M325.6 352.2h0.8M342.3 336.8h0.8M265.8 307.8h0.8M325.4 320.0h0.8M253.3 331.8h0.8M323.5 289.8h0.8M236.3 317.0h0.8M212.0 308.9h0.8M279.3 340.7h0.8M276.9 276.6h0.8M233.7 315.3h0.8M365.0 314.5h0.8M271.5 341.5h0.8M329.0 346.0h0.8M324.5 299.4h0.8M228.6 306.8h0.8M352.4 305.7h0.8M353.5 317.4h0.8M289.8 296.5h0.8M296.8 284.2h0.8M303.8 305.0h0.8M307.9 307.6h0.8M322.7 295.8h0.8M278.7 288.2h0.8M250.6 311.7h0.8M281.2 288.2h0.8M301.6 331.0h0.8M294.8 345.7h0.8M351.1 326.6h0.8M274.7 288.2h0.8M217.6 314.3h0.8M291.1 304.1h0.8M299.4 308.6h0.8M367.1 304.0h0.8M245.8 324.5h0.8M225.7 310.2h0.8M248.5 298.3h0.8M384.0 314.3h0.8M295.0 309.8h0.8M287.4 278.1h0.8M369.6 317.5h0.8M293.5 334.8h0.8M264.2 302.3h0.8M313.0 329.6h0.8M318.8 349.2h0.8M319.5 300.9h0.8M250.7 302.8h0.8M353.6 340.6h0.8M256.8 301.9h0.8M393.5 307.3h0.8M302.5 301.4h0.8M294.0 318.0h0.8M256.7 287.6h0.8M297.9 324.5h0.8M299.8 307.5h0.8M201.9 317.5h0.8M319.9 325.4h0.8M368.6 309.4h0.8M253.5 329.4h0.8M225.9 302.5h0.8M297.7 350.0h0.8M335.2 309.2h0.8M286.3 292.4h0.8M215.2 312.8h0.8M265.8 329.5h0.8M237.9 301.5h0.8M363.2 316.4h0.8M342.9 314.1h0.8M300.9 288.9h0.8M294.3 304.4h0.8M207.0 314.7h0.8M273.1 303.7h0.8M296.8 341.3h0.8M255.2 306.5h0.8M350.4 303.4h0.8M271.9 300.6h0.8M299.4 304.9h0.8M353.7 337.2h0.8M282.0 300.3h0.8M401.1 315.8h0.8M340.8 337.9h0.8M270.7 304.5h0.8M288.5 294.7h0.8M381.8 316.3h0.8M270.9 310.5h0.8M243.9 299.1h0.8M229.0 315.2h0.8M279.6 291.4h0.8M314.6 313.2h0.8M313.5 343.8h0.8M297.0 282.6h0.8M310.7 337.0h0.8M233.3 309.6h0.8M393.3 313.6h0.8M363.5 320.7h0.8M292.4 279.5h0.8M275.4 279.9h0.8M301.4 288.5h0.8M281.1 311.4h0.8M372.4 323.2h0.8M384.4 324.1h0.8M269.1 323.0h0.8M282.4 310.8h0.8M344.0 302.9h0.8M362.0 311.7h0.8M235.6 325.7h0.8M264.8 299.0h0.8M271.5 321.2h0.8M226.7 324.8h0.8M267.6 317.9h0.8M282.3 276.6h0.8M275.8 324.0h0.8M282.8 307.5h0.8M266.8 342.1h0.8M341.0 304.1h0.8M273.0 339.5h0.8M327.8 300.9h0.8M210.7 314.2h0.8M314.2 320.7h0.8M374.7 306.5h0.8M410.2 311.0h0.8M242.7 331.7h0.8M239.8 294.8h0.8M313.4 343.7h0.8M344.8 296.2h0.8M315.2 347.9h0.8M254.8 304.5h0.8M276.3 333.4h0.8M362.9 336.6h0.8M209.7 315.0h0.8M321.6 328.2h0.8M361.3 296.8h0.8M279.7 329.8h0.8M285.0 285.0h0.8M264.3 312.4h0.8M354.0 304.6h0.8M320.6 319.2h0.8M320.6 286.0h0.8M236.3 292.6h0.8M333.5 298.0h0.8M347.0 311.7h0.8M323.9 322.2h0.8M263.3 340.0h0.8M346.1 306.2h0.8M302.9 286.3h0.8M363.4 302.0h0.8M358.6 305.1h0.8M385.5 309.5h0.8M372.3 330.8h0.8M348.3 338.5h0.8M357.3 314.4h0.8M380.6 306.3h0.8M274.5 306.7h0.8M235.2 299.9h0.8M299.4 346.4h0.8M273.5 314.9h0.8M345.4 303.5h0.8M359.2 316.7h0.8M286.6 325.4h0.8M275.3 297.1h0.8M371.5 328.6h0.8M212.5 302.9h0.8M318.1 314.1h0.8" stroke="#ff2020" stroke-width="0.8" fill="none"/>
<path d="M313.9 354.9h0.8M328.9 332.1h0.8M320.1 299.9h0.8M351.9 325.9h0.8M280.2 317.7h0.8M231.9 297.4h0.8M240.6 328.6h0.8M347.1 300.6h0.8M339.7 330.1h0.8M341.3 340.3h0.8M236.8 321.6h0.8M298.3 287.6h0.8M329.1 336.4h0.8M383.6 306.5h0.8M329.4 341.8h0.8M329.0 305.2h0.8M335.4 296.8h0.8M326.6 301.0h0.8M304.8 314.6h0.8M247.3 335.7h0.8M396.4 307.7h0.8M283.2 334.2h0.8M237.7 307.2h0.8M334.4 320.8h0.8M321.8 295.8h0.8M345.0 329.0h0.8M260.8 294.0h0.8M295.8 309.6h0.8M347.3 319.6h0.8M285.7 291.3h0.8M369.5 327.6h0.8M258.3 307.4h0.8M326.4 343.9h0.8M281.6 331.4h0.8M324.7 291.5h0.8M373.7 302.4h0.8M252.1 316.6h0.8M315.1 327.2h0.8M238.8 310.2h0.8M350.3 298.3h0.8M346.8 295.1h0.8M268.5 327.0h0.8M286.4 325.7h0.8M240.0 297.4h0.8M260.8 330.5h0.8M288.2 300.7h0.8M240.5 299.9h0.8M216.6 313.1h0.8M358.3 323.9h0.8M303.4 316.7h0.8M276.0 309.7h0.8M268.0 328.7h0.8M383.6 311.5h0.8M354.7 331.8h0.8M230.5 326.0h0.8M366.0 320.0h0.8M365.9 318.3h0.8M332.0 284.3h0.8M286.4 329.7h0.8M263.6 301.9h0.8M280.3 290.0h0.8M230.0 315.7h0.8M300.0 317.7h0.8M308.9 327.7h0.8M297.1 334.8h0.8M323.1 309.6h0.8M327.7 293.1h0.8M233.8 313.0h0.8M326.4 329.6h0.8M241.1 325.2h0.8M263.1 311.5h0.8M374.3 308.7h0.8M275.5 289.8h0.8M329.0 327.9h0.8M308.4 294.0h0.8M302.7 305.2h0.8M215.8 312.2h0.8M290.7 340.2h0.8M294.5 344.0h0.8M270.6 295.4h0.8M366.6 310.2h0.8M264.5 298.1h0.8M272.2 294.7h0.8M364.5 318.2h0.8M335.1 342.9h0.8M363.0 316.6h0.8M263.2 338.1h0.8M259.5 300.6h0.8M325.9 290.7h0.8M397.5 317.5h0.8M270.0 297.7h0.8M261.1 324.5h0.8M345.3 303.1h0.8M305.9 324.6h0.8M388.8 312.5h0.8M324.4 329.9h0.8M361.3 301.6h0.8M268.3 339.2h0.8M357.3 316.5h0.8M352.2 316.6h0.8M265.9 327.7h0.8M331.4 340.7h0.8M306.5 341.2h0.8M294.4 339.4h0.8M375.6 327.0h0.8M352.0 316.9h0.8M263.5 315.3h0.8M370.9 321.4h0.8M273.8 306.9h0.8M273.1 336.8h0.8" stroke="#20e030" stroke-width="0.8" fill="none"/>
<path d="M276.8 309.7h0.8M275.1 325.5h0.8M273.7 323.4h0.8M269.1 320.9h0.8M313.9 311.3h0.8M342.2 340.2h0.8M285.8 313.2h0.8M288.9 283.6h0.8M321.3 328.4h0.8M348.0 308.4h0.8M367.6 322.6h0.8M281.7 317.5h0.8M346.2 314.5h0.8M352.9 328.4h0.8M263.8 307.2h0.8M314.0 301.3h0.8M321.0 317.5h0.8M406.0 308.7h0.8M359.9 320.6h0.8M310.0 288.3h0.8M332.1 305.7h0.8M275.6 320.6h0.8M339.9 341.2h0.8M383.4 317.5h0.8M389.7 319.3h0.8M240.9 305.6h0.8M248.9 318.5h0.8M329.3 301.0h0.8M270.6 313.1h0.8M345.2 313.0h0.8M318.7 291.1h0.8M299.1 306.1h0.8M362.3 296.6h0.8M353.4 321.7h0.8M302.3 305.1h0.8M336.4 300.4h0.8M391.0 309.7h0.8M299.8 348.2h0.8M339.1 330.8h0.8M364.5 310.5h0.8M334.9 341.3h0.8M313.1 312.1h0.8M257.3 298.6h0.8M246.7 293.2h0.8M262.1 286.4h0.8M307.6 290.0h0.8M366.8 321.3h0.8M279.1 327.2h0.8M260.1 308.5h0.8M262.1 304.1h0.8M215.1 311.1h0.8M303.5 292.6h0.8M192.2 313.5h0.8M254.0 317.8h0.8M316.0 332.4h0.8M358.9 331.9h0.8M283.3 289.8h0.8M351.4 314.8h0.8M291.3 320.4h0.8M257.7 327.1h0.8M304.0 333.7h0.8M307.9 317.0h0.8M322.2 325.2h0.8M272.2 279.6h0.8M297.4 295.4h0.8M360.9 301.5h0.8M287.9 302.3h0.8M350.5 342.1h0.8M286.0 325.7h0.8M200.2 312.1h0.8M306.8 346.7h0.8M245.8 313.7h0.8M325.5 331.0h0.8M250.2 317.7h0.8M318.7 342.4h0.8M370.6 323.6h0.8M292.3 285.6h0.8M387.0 309.8h0.8M278.8 276.8h0.8M272.7 279.1h0.8M274.7 285.4h0.8M387.5 316.5h0.8M302.0 339.5h0.8M343.5 297.7h0.8M342.2 300.9h0.8M296.7 306.3h0.8M303.1 325.2h0.8M247.9 313.7h0.8M363.4 305.7h0.8M214.3 325.7h0.8M211.2 317.3h0.8M249.5 303.3h0.8M365.8 313.5h0.8M293.3 303.5h0.8M263.9 318.4h0.8M372.8 321.9h0.8M283.8 304.6h0.8M328.5 334.1h0.8M289.3 301.6h0.8M261.0 303.6h0.8M260.3 322.9h0.8M266.3 337.6h0.8M310.6 348.9h0.8M273.3 333.8h0.8M201.3 315.2h0.8M321.0 312.1h0.8M324.4 321.0h0.8M258.6 340.1h0.8M282.1 339.2h0.8M350.2 323.4h0.8M317.5 335.8h0.8M317.5 335.2h0.8M235.9 325.0h0.8M306.1 322.8h0.8M320.1 301.2h0.8M309.0 291.0h0.8M369.6 300.2h0.8M294.4 317.9h0.8M341.1 296.5h0.8M331.1 309.0h0.8M277.2 306.2h0.8M264.3 311.7h0.8M312.9 323.4h0.8M369.3 328.4h0.8M243.7 323.1h0.8M308.8 318.8h0.8M294.0 327.5h0.8M220.6 309.8h0.8M316.8 297.1h0.8M254.5 307.0h0.8M318.6 337.1h0.8M313.5 318.1h0.8M252.6 306.0h0.8M253.0 296.8h0.8M365.8 301.4h0.8M328.2 309.1h0.8M188.3 310.9h0.8M317.5 307.7h0.8M214.4 307.8h0.8M394.2 318.4h0.8M346.2 319.9h0.8M258.4 307.4h0.8M381.8 301.3h0.8M342.9 309.9h0.8M287.2 276.8h0.8M254.5 307.5h0.8M261.5 286.5h0.8M344.2 296.3h0.8M360.2 321.3h0.8M245.6 313.3h0.8M283.9 305.4h0.8M363.1 302.1h0.8M247.2 319.6h0.8M301.9 279.7h0.8M313.2 295.8h0.8M286.8 323.8h0.8M218.2 314.1h0.8M281.2 290.4h0.8M252.3 322.1h0.8M283.0 321.0h0.8M329.7 325.7h0.8M303.3 293.8h0.8M323.2 335.6h0.8M336.1 309.9h0.8M367.6 319.2h0.8M266.2 314.8h0.8M355.7 336.5h0.8M273.7 301.4h0.8M212.6 305.5h0.8M336.3 332.4h0.8M335.3 326.7h0.8M226.3 320.0h0.8M322.8 288.4h0.8M257.4 316.3h0.8M214.6 310.5h0.8M306.0 345.9h0.8M325.4 318.4h0.8M297.7 326.3h0.8M265.9 315.6h0.8M322.0 318.4h0.8M204.9 317.6h0.8M313.1 299.7h0.8M305.0 287.0h0.8M329.0 299.3h0.8M270.9 285.8h0.8M347.8 313.9h0.8M291.7 325.3h0.8M257.6 335.4h0.8M229.7 314.5h0.8M308.0 338.1h0.8M316.7 312.7h0.8M224.7 300.2h0.8M342.0 301.4h0.8M321.9 294.6h0.8M327.3 291.4h0.8M264.1 302.3h0.8M374.3 321.9h0.8M373.3 300.5h0.8M355.2 314.8h0.8M345.6 335.0h0.8M240.0 298.7h0.8M335.7 318.0h0.8M357.1 299.4h0.8M295.3 334.2h0.8M370.5 329.2h0.8M354.8 296.6h0.8M197.2 313.7h0.8M298.8 342.9h0.8M295.5 319.4h0.8M364.3 327.1h0.8M369.5 308.0h0.8M277.8 279.3h0.8M267.3 314.8h0.8M339.9 309.0h0.8M307.3 328.3h0.8M219.7 310.4h0.8M240.7 302.9h0.8M272.8 290.6h0.8M375.6 313.9h0.8M268.6 316.5h0.8M279.6 286.9h0.8M242.2 317.8h0.8M332.5 301.9h0.8M282.0 287.9h0.8M301.3 342.0h0.8M270.2 330.4h0.8M353.5 326.9h0.8M277.9 301.3h0.8M280.9 297.5h0.8M327.6 317.0h0.8M319.5 331.5h0.8M308.1 287.6h0.8M286.6 334.0h0.8M191.7 315.8h0.8M363.8 327.5h0.8M312.3 343.4h0.8M267.7 299.0h0.8M291.8 307.9h0.8M220.8 311.1h0.8M257.8 283.5h0.8M342.7 339.1h0.8M288.1 321.5h0.8M351.9 309.1h0.8M330.1 300.4h0.8M286.7 277.8h0.8M241.9 328.3h0.8M231.8 326.0h0.8M356.7 304.7h0.8M336.7 303.1h0.8M369.3 314.8h0.8M316.1 304.1h0.8M263.0 308.5h0.8M278.9 283.8h0.8M286.6 329.3h0.8M297.6 312.1h0.8M242.0 300.8h0.8M260.4 340.7h0.8M289.2 324.9h0.8M272.6 316.5h0.8M372.2 309.5h0.8M307.8 287.4h0.8M348.7 328.2h0.8M238.7 301.7h0.8M320.1 313.3h0.8M236.4 304.6h0.8M227.7 302.6h0.8M273.7 308.3h0.8M322.4 321.0h0.8M297.5 314.0h0.8M237.7 321.5h0.8M272.2 311.3h0.8M245.1 293.9h0.8M251.8 293.8h0.8M264.7 323.7h0.8M307.9 326.0h0.8M277.0 288.9h0.8M328.2 295.7h0.8M230.5 314.1h0.8M261.7 300.1h0.8M334.9 294.1h0.8M343.0 298.1h0.8M308.1 291.3h0.8M315.4 294.6h0.8M226.3 318.1h0.8M321.8 298.6h0.8M294.5 347.9h0.8M364.4 320.9h0.8M259.1 311.0h0.8M346.1 294.1h0.8M361.8 327.0h0.8M362.4 324.5h0.8M309.6 299.6h0.8M326.8 341.6h0.8M268.0 303.1h0.8M261.9 331.0h0.8M295.6 329.0h0.8M240.0 296.8h0.8M278.9 296.4h0.8M200.6 312.3h0.8M362.3 327.4h0.8M312.2 327.9h0.8M246.8 320.8h0.8M279.3 280.8h0.8M306.7 281.1h0.8M363.8 326.3h0.8M293.2 325.5h0.8M400.1 312.9h0.8M390.4 312.1h0.8M340.6 340.5h0.8M233.0 310.1h0.8M256.2 315.0h0.8M265.7 279.6h0.8M281.4 289.3h0.8M328.1 319.8h0.8M302.7 294.4h0.8M297.9 322.0h0.8M240.8 327.5h0.8M253.3 321.5h0.8M304.9 319.5h0.8M210.3 322.2h0.8M297.2 335.1h0.8M219.4 308.0h0.8M311.4 329.2h0.8M353.8 332.9h0.8M312.2 339.2h0.8M360.4 303.3h0.8M279.1 338.4h0.8M333.6 312.8h0.8M221.0 303.8h0.8M303.4 343.2h0.8M236.3 320.1h0.8M194.5 318.2h0.8M315.3 332.7h0.8M275.9 335.9h0.8M302.1 307.7h0.8M206.5 318.5h0.8M292.5 348.2h0.8M233.2 303.8h0.8M332.0 321.2h0.8M326.7 338.8h0.8M330.6 286.2h0.8M379.6 312.2h0.8M308.9 347.7h0.8M255.4 323.9h0.8M297.9 288.0h0.8M235.8 310.4h0.8M264.9 307.0h0.8M334.9 307.9h0.8M329.3 306.6h0.8M246.1 312.7h0.8M275.0 336.4h0.8M311.1 326.0h0.8M227.7 314.6h0.8M270.2 304.1h0.8M370.1 307.6h0.8M370.7 301.2h0.8M279.5 335.3h0.8M214.8 303.0h0.8M342.6 332.6h0.8M298.5 309.3h0.8M271.4 297.0h0.8M314.5 307.0h0.8M365.7 307.0h0.8M246.8 299.8h0.8M317.8 328.1h0.8M201.7 318.0h0.8M229.5 312.5h0.8M340.9 321.1h0.8M273.9 313.1h0.8M339.8 333.9h0.8M336.2 318.4h0.8M333.2 327.0h0.8M299.7 328.7h0.8M311.4 286.2h0.8M337.2 314.5h0.8M245.3 320.4h0.8M282.8 338.3h0.8M264.7 315.5h0.8M351.6 302.1h0.8M337.3 321.1h0.8M318.3 347.4h0.8M268.8 308.5h0.8M277.1 317.9h0.8M304.8 313.5h0.8M348.9 319.3h0.8M324.5 306.8h0.8M257.7 293.5h0.8M365.0 301.4h0.8M398.2 312.5h0.8M347.8 311.8h0.8M297.4 315.4h0.8M257.8 324.1h0.8M347.3 324.8h0.8M402.0 311.1h0.8M248.7 293.8h0.8M312.8 296.2h0.8M252.3 307.7h0.8M235.6 320.3h0.8M204.7 311.8h0.8M269.0 305.2h0.8M291.7 307.6h0.8M349.8 297.0h0.8M352.7 323.3h0.8M343.9 294.6h0.8M334.6 305.8h0.8M302.1 282.4h0.8M373.6 319.9h0.8M209.6 307.5h0.8M344.3 303.9h0.8M380.0 320.0h0.8M328.3 303.4h0.8M248.6 308.5h0.8M324.7 292.8h0.8M225.4 315.0h0.8M275.1 312.2h0.8M280.8 338.9h0.8M261.4 317.2h0.8M258.5 318.9h0.8M295.5 291.5h0.8M354.8 310.3h0.8M358.9 316.5h0.8M318.7 349.7h0.8M208.6 310.9h0.8M373.1 325.4h0.8M330.9 340.5h0.8M341.6 298.9h0.8M255.3 301.1h0.8M278.7 308.3h0.8M268.7 286.0h0.8M258.4 312.0h0.8M295.7 345.2h0.8M352.6 313.6h0.8M288.6 291.1h0.8M246.9 305.6h0.8M334.9 337.9h0.8M317.3 341.4h0.8M243.2 325.6h0.8M285.2 318.7h0.8M296.8 321.1h0.8M203.4 315.7h0.8M303.7 282.3h0.8M284.3 313.6h0.8M344.9 312.1h0.8M374.4 324.4h0.8M308.8 328.6h0.8M334.3 333.0h0.8M324.5 315.8h0.8M298.7 333.9h0.8M347.5 330.7h0.8M196.7 313.3h0.8M260.2 330.2h0.8M258.5 293.1h0.8M371.4 323.5h0.8M328.3 344.9h0.8M386.4 315.8h0.8M242.4 321.2h0.8M210.2 320.5h0.8M321.9 293.0h0.8M320.2 312.3h0.8M256.3 312.2h0.8M280.1 309.9h0.8M307.2 316.9h0.8M292.7 292.6h0.8M293.2 295.6h0.8M281.8 295.7h0.8M299.5 319.3h0.8M357.9 310.5h0.8M324.5 303.4h0.8M349.2 312.7h0.8M269.1 335.6h0.8M275.5 338.1h0.8M329.6 298.4h0.8M336.0 314.5h0.8M295.2 330.7h0.8M258.7 327.7h0.8M343.8 299.3h0.8M281.2 317.2h0.8M286.0 307.2h0.8M327.5 319.1h0.8M302.4 340.4h0.8M339.9 334.0h0.8M314.5 313.0h0.8M304.8 329.5h0.8M260.3 285.0h0.8M258.0 297.1h0.8M280.3 308.8h0.8M263.8 292.9h0.8M359.8 333.3h0.8M280.9 274.9h0.8M364.9 311.5h0.8M365.3 309.5h0.8M289.6 321.2h0.8M291.9 301.0h0.8M220.9 303.1h0.8M310.2 296.8h0.8M373.9 321.5h0.8M311.9 332.7h0.8M303.7 325.9h0.8M344.3 333.7h0.8M326.2 297.2h0.8" stroke="#ff2020" stroke-width="0.8" fill="none"/>
<path d="M348.6 301.3h0.8M393.2 309.3h0.8M290.5 289.4h0.8M292.2 282.6h0.8M278.5 311.5h0.8M338.3 340.7h0.8M328.2 343.8h0.8M274.3 339.3h0.8M310.9 318.0h0.8M231.7 312.7h0.8M257.5 295.1h0.8M335.5 347.9h0.8M306.7 349.8h0.8M348.5 317.0h0.8M288.3 289.0h0.8M265.0 314.9h0.8M288.3 340.5h0.8M285.0 311.7h0.8M270.1 314.4h0.8M273.0 303.1h0.8M248.7 328.9h0.8M233.9 325.9h0.8M328.5 296.1h0.8M252.2 305.2h0.8M303.3 320.0h0.8M394.3 304.1h0.8M322.4 342.5h0.8M389.6 318.8h0.8M309.0 332.3h0.8M331.2 316.6h0.8M293.0 330.8h0.8M215.6 311.6h0.8M313.9 316.5h0.8M354.2 327.8h0.8M341.3 308.8h0.8M256.3 329.8h0.8M289.2 343.0h0.8M358.4 323.6h0.8M262.4 338.0h0.8M239.1 309.6h0.8M235.6 322.8h0.8M273.6 324.3h0.8M333.6 326.8h0.8M215.8 301.5h0.8M273.3 280.5h0.8M311.4 335.3h0.8M348.0 320.4h0.8M306.7 336.2h0.8M384.8 319.4h0.8M360.1 327.0h0.8M300.0 307.7h0.8M337.1 291.7h0.8M246.0 287.5h0.8M326.9 305.0h0.8M272.1 294.3h0.8M308.7 310.4h0.8M270.0 324.6h0.8M299.7 336.7h0.8M224.7 308.6h0.8M230.3 303.6h0.8M299.5 289.8h0.8M263.1 321.9h0.8M324.5 291.7h0.8M342.6 320.9h0.8M283.5 346.5h0.8M356.9 303.8h0.8M277.1 332.5h0.8M301.4 323.2h0.8M246.1 287.3h0.8M322.2 313.6h0.8M342.6 316.8h0.8M304.6 347.0h0.8M306.5 333.8h0.8M283.2 307.1h0.8M256.5 289.9h0.8M235.6 314.1h0.8M270.9 304.6h0.8M317.1 334.8h0.8M295.3 329.9h0.8M210.6 312.9h0.8M287.7 296.7h0.8M306.3 340.0h0.8M343.4 329.0h0.8M329.5 332.8h0.8M300.9 296.7h0.8M366.4 330.4h0.8M306.6 341.1h0.8M266.7 317.8h0.8M313.3 339.9h0.8M273.8 339.5h0.8M363.1 325.6h0.8M313.5 346.5h0.8M301.1 312.1h0.8M270.9 301.4h0.8M253.5 302.1h0.8M328.1 306.4h0.8M261.0 333.3h0.8M301.0 343.8h0.8M286.8 343.9h0.8M226.6 301.2h0.8M288.9 292.9h0.8M243.9 334.3h0.8M213.0 302.8h0.8M215.1 314.1h0.8M324.4 323.2h0.8M359.8 334.9h0.8M399.8 311.1h0.8M307.0 349.3h0.8M241.6 305.9h0.8M257.3 293.9h0.8" stroke="#20e030" stroke-width="0.8" fill="none"/>
<path d="M293.1 316.4h0.8M254.4 326.9h0.8M332.4 327.5h0.8M277.6 302.2h0.8M342.7 300.4h0.8M279.9 344.2h0.8M285.2 302.1h0.8M292.5 321.2h0.8M320.4 296.4h0.8M301.3 328.9h0.8M332.8 299.0h0.8M291.9 313.6h0.8M290.6 289.2h0.8M329.8 308.3h0.8M196.7 308.5h0.8M301.9 287.4h0.8M246.2 321.3h0.8M294.0 300.2h0.8M251.3 289.8h0.8M264.2 335.0h0.8M283.2 319.4h0.8M302.4 308.7h0.8M347.4 295.4h0.8M270.0 330.1h0.8M254.9 291.4h0.8M244.1 316.7h0.8M250.8 325.7h0.8M288.3 283.9h0.8M371.4 331.6h0.8M311.0 331.8h0.8M369.5 314.1h0.8M290.8 312.7h0.8M299.8 318.4h0.8M393.7 315.3h0.8M334.1 304.6h0.8M327.4 309.5h0.8M191.5 319.4h0.8M316.4 282.4h0.8M303.8 299.6h0.8M360.9 328.3h0.8M252.4 333.0h0.8M371.9 326.5h0.8M376.7 312.2h0.8M263.7 324.3h0.8M320.5 333.9h0.8M209.3 310.5h0.8M324.0 314.8h0.8M306.6 345.9h0.8M257.1 286.9h0.8M303.7 317.5h0.8M316.0 323.2h0.8M288.3 324.5h0.8M306.3 296.6h0.8M224.2 310.2h0.8M363.6 303.1h0.8M340.5 304.7h0.8M320.4 355.5h0.8M240.7 295.1h0.8M236.6 330.5h0.8M327.7 342.2h0.8M293.9 306.8h0.8M317.6 328.2h0.8M299.0 288.5h0.8M289.7 339.4h0.8M354.0 318.5h0.8M306.5 284.8h0.8M236.2 294.9h0.8M307.1 283.2h0.8M287.3 279.1h0.8M237.8 331.9h0.8M277.9 336.4h0.8M333.7 338.5h0.8M293.9 322.1h0.8M262.0 284.1h0.8M309.6 290.6h0.8M374.3 313.7h0.8M258.5 332.9h0.8M288.3 288.0h0.8M246.7 292.7h0.8M331.1 295.7h0.8M366.0 321.9h0.8M272.3 297.6h0.8M286.7 317.5h0.8M300.3 288.0h0.8M334.4 335.2h0.8M259.7 333.0h0.8M278.0 332.1h0.8M284.4 323.1h0.8M362.8 299.7h0.8M314.9 306.0h0.8M265.9 302.8h0.8M294.4 335.4h0.8M358.2 297.8h0.8M300.7 318.6h0.8M325.6 300.6h0.8M290.7 323.3h0.8M259.1 301.0h0.8M252.7 294.7h0.8M223.3 319.0h0.8M349.8 332.5h0.8M294.3 317.6h0.8M317.2 331.2h0.8M341.3 301.0h0.8M190.7 312.1h0.8M313.3 286.1h0.8M319.0 311.3h0.8M357.7 313.0h0.8M229.7 316.8h0.8M251.9 311.1h0.8M349.1 307.7h0.8M298.0 319.5h0.8M226.1 316.1h0.8M304.6 293.4h0.8M277.6 281.8h0.8M396.7 314.5h0.8M315.8 336.4h0.8M250.1 289.1h0.8M274.3 322.5h0.8M363.1 319.5h0.8M297.0 322.7h0.8M278.4 309.5h0.8M283.1 285.4h0.8M245.0 327.4h0.8M271.3 280.4h0.8M245.5 328.3h0.8M221.7 300.1h0.8M314.9 315.5h0.8M199.2 316.1h0.8M346.2 335.1h0.8M281.6 284.5h0.8M293.8 290.2h0.8M303.4 289.6h0.8M342.3 293.0h0.8M368.0 308.0h0.8M323.8 329.1h0.8M291.5 338.8h0.8M305.1 338.6h0.8M270.2 299.7h0.8M390.4 310.5h0.8M329.2 335.3h0.8M281.1 330.1h0.8M312.1 345.1h0.8M250.2 334.3h0.8M215.1 317.4h0.8M319.7 308.3h0.8M320.7 330.7h0.8M248.4 319.3h0.8M279.6 296.4h0.8M318.0 302.2h0.8M275.1 279.4h0.8M332.3 328.4h0.8M384.1 309.3h0.8M326.8 329.0h0.8M291.1 347.1h0.8M287.3 283.0h0.8M204.0 317.9h0.8M321.2 289.3h0.8M314.2 292.1h0.8M245.4 308.8h0.8M304.2 329.1h0.8M289.9 314.2h0.8M301.4 342.3h0.8M289.3 324.7h0.8M364.2 325.7h0.8M277.3 319.7h0.8M350.6 320.6h0.8M276.1 297.2h0.8M348.8 315.9h0.8M220.9 309.2h0.8M322.0 317.3h0.8M258.5 337.6h0.8M327.8 314.1h0.8M263.8 315.4h0.8M238.6 297.5h0.8M254.8 315.9h0.8M186.9 312.3h0.8M282.8 326.0h0.8M282.3 275.1h0.8M266.3 290.3h0.8M339.7 313.7h0.8M261.1 330.3h0.8M262.9 305.9h0.8M333.4 300.6h0.8M364.9 304.4h0.8M275.8 339.6h0.8M299.3 320.1h0.8M305.1 279.4h0.8M287.3 334.6h0.8M324.4 305.9h0.8M322.4 342.6h0.8M331.7 332.6h0.8M254.1 318.5h0.8M340.1 338.6h0.8M328.0 319.0h0.8M251.3 335.3h0.8M359.1 317.7h0.8M269.6 331.0h0.8M326.3 329.2h0.8M229.7 293.6h0.8M245.8 329.9h0.8M391.4 314.4h0.8M325.7 322.0h0.8M258.5 312.1h0.8M247.0 317.0h0.8M316.9 305.9h0.8M332.8 314.7h0.8M364.3 325.1h0.8M242.9 297.4h0.8M372.1 317.3h0.8M286.6 279.0h0.8M254.8 307.9h0.8M240.4 295.2h0.8M240.2 333.3h0.8M257.5 291.0h0.8M288.3 307.0h0.8M302.9 332.6h0.8M301.1 310.1h0.8M341.2 324.8h0.8M213.6 310.8h0.8M275.9 336.1h0.8M376.8 306.4h0.8M271.8 298.9h0.8M200.4 311.8h0.8M381.5 304.7h0.8M312.0 300.8h0.8M375.8 312.5h0.8M348.5 319.7h0.8M358.0 324.1h0.8M245.9 299.4h0.8M237.3 296.0h0.8M226.1 302.6h0.8M326.2 352.5h0.8M339.9 328.7h0.8M259.6 306.2h0.8M334.0 309.5h0.8M401.7 308.9h0.8M230.0 296.9h0.8M286.2 282.9h0.8M333.4 346.7h0.8M312.0 333.6h0.8M342.4 310.5h0.8M324.6 348.1h0.8M288.6 318.5h0.8M276.4 303.5h0.8M307.0 352.5h0.8M380.9 318.1h0.8M209.9 321.1h0.8M280.7 326.5h0.8M316.8 318.8h0.8M328.5 342.8h0.8M318.2 341.5h0.8M288.4 289.0h0.8M378.9 318.4h0.8M264.6 301.6h0.8M251.2 320.0h0.8M284.2 283.0h0.8M215.3 308.0h0.8M291.4 306.8h0.8M262.5 317.7h0.8M235.5 326.6h0.8M298.4 333.4h0.8M329.9 324.6h0.8M312.2 318.6h0.8M246.1 301.6h0.8M322.3 314.8h0.8M334.5 326.9h0.8M349.8 315.2h0.8M356.2 302.3h0.8M300.5 325.3h0.8M290.1 335.3h0.8M297.1 340.8h0.8M364.0 313.5h0.8M325.7 295.7h0.8M319.6 305.6h0.8M355.7 329.2h0.8M333.8 349.2h0.8M303.4 301.6h0.8M232.7 302.7h0.8M273.0 285.2h0.8M319.9 327.7h0.8M284.4 338.2h0.8M331.7 333.4h0.8M337.6 332.4h0.8M272.6 299.8h0.8M387.8 319.0h0.8M339.7 315.8h0.8M252.7 288.8h0.8M275.0 281.7h0.8M281.2 289.5h0.8M189.7 312.5h0.8M271.2 323.6h0.8M368.7 302.4h0.8M310.4 343.5h0.8M346.7 341.0h0.8M349.1 298.5h0.8M336.6 300.4h0.8M250.1 291.4h0.8M252.9 303.7h0.8M274.6 333.0h0.8M264.5 313.2h0.8M290.5 330.3h0.8M217.0 304.7h0.8M201.7 313.1h0.8M286.5 328.1h0.8M303.8 300.6h0.8M231.2 310.2h0.8M232.3 304.8h0.8M246.9 297.3h0.8M257.2 300.9h0.8M299.7 301.4h0.8M205.8 305.4h0.8M336.8 291.9h0.8M227.3 305.5h0.8M265.6 330.8h0.8M313.8 325.7h0.8M215.6 315.9h0.8M275.8 286.9h0.8M227.2 303.7h0.8M358.5 296.6h0.8M351.7 340.4h0.8M211.7 320.4h0.8M293.8 326.2h0.8M334.5 316.9h0.8M301.3 302.0h0.8M237.2 296.5h0.8M344.0 319.7h0.8M240.5 298.0h0.8M314.3 285.0h0.8M306.4 295.2h0.8M317.0 317.7h0.8M368.7 306.4h0.8M190.0 320.1h0.8M274.5 328.0h0.8M281.6 327.2h0.8M283.4 282.9h0.8M389.5 310.4h0.8M256.5 334.2h0.8M284.5 333.1h0.8M300.6 301.4h0.8M274.9 311.6h0.8M391.9 314.8h0.8M375.7 322.0h0.8M236.1 298.5h0.8M287.4 324.0h0.8M344.9 341.6h0.8M342.6 306.8h0.8M301.4 327.0h0.8M286.0 319.8h0.8M233.7 329.1h0.8M257.9 318.1h0.8M214.4 313.8h0.8M330.4 300.7h0.8M285.8 310.3h0.8M272.7 281.9h0.8M344.4 321.4h0.8M313.5 282.6h0.8M267.0 296.2h0.8M300.7 341.3h0.8M228.4 307.1h0.8M272.5 332.8h0.8M311.1 304.7h0.8M309.6 308.4h0.8M292.0 305.7h0.8M236.0 303.0h0.8M399.2 309.0h0.8M381.9 306.2h0.8M353.7 328.8h0.8M246.6 320.0h0.8M227.1 311.2h0.8M367.8 332.0h0.8M301.4 297.6h0.8M366.3 301.0h0.8M212.6 324.0h0.8M277.5 316.5h0.8M238.5 296.4h0.8M289.1 281.3h0.8M349.5 308.5h0.8M283.0 318.7h0.8M370.2 306.5h0.8M339.5 312.1h0.8M249.4 289.3h0.8M298.7 294.3h0.8M275.9 324.0h0.8M308.6 297.2h0.8M240.3 311.7h0.8M396.5 316.9h0.8M340.8 312.8h0.8M298.4 329.9h0.8M285.2 286.5h0.8M283.6 339.3h0.8M341.8 301.3h0.8M299.5 320.1h0.8M222.0 313.8h0.8M304.1 312.8h0.8M338.5 298.8h0.8M217.8 317.6h0.8M356.2 318.0h0.8M301.7 337.7h0.8M323.7 305.4h0.8M349.6 319.0h0.8M358.3 320.0h0.8M354.9 331.0h0.8M337.7 303.5h0.8M266.9 318.4h0.8M290.9 336.0h0.8M267.3 297.7h0.8M263.4 331.6h0.8M335.7 314.5h0.8M284.4 302.3h0.8M240.8 322.4h0.8M318.0 347.9h0.8M398.8 310.4h0.8M335.4 338.4h0.8M360.7 319.0h0.8M296.3 303.3h0.8M358.5 329.3h0.8M261.2 306.4h0.8M314.6 301.6h0.8M283.9 287.8h0.8M282.2 310.8h0.8M298.4 294.3h0.8M281.4 325.0h0.8M233.6 298.9h0.8M334.8 291.9h0.8M389.8 318.0h0.8M299.9 277.3h0.8M376.2 317.7h0.8M314.9 340.0h0.8M202.6 309.7h0.8M260.1 283.1h0.8M297.7 285.7h0.8M361.1 328.4h0.8M235.0 321.7h0.8M288.9 297.2h0.8M289.6 292.5h0.8M258.8 302.0h0.8M259.9 298.8h0.8M270.1 286.4h0.8M274.0 311.7h0.8M326.6 344.9h0.8M348.4 311.0h0.8M345.7 298.1h0.8M233.4 303.1h0.8M256.5 304.8h0.8M305.0 339.2h0.8M295.0 315.4h0.8M316.0 351.1h0.8M237.2 314.8h0.8M309.3 316.8h0.8M336.9 310.1h0.8M336.6 305.7h0.8M205.1 320.6h0.8M330.4 344.6h0.8M300.6 288.3h0.8M302.5 287.9h0.8M273.1 333.9h0.8M282.6 345.7h0.8M255.9 335.9h0.8M260.3 307.1h0.8M283.6 318.9h0.8M231.6 324.5h0.8M314.9 301.1h0.8M367.5 328.3h0.8M375.7 311.6h0.8M250.9 329.2h0.8M213.7 314.0h0.8M260.2 292.4h0.8M246.5 328.8h0.8M332.0 323.0h0.8M217.2 323.5h0.8M390.0 308.6h0.8M278.2 299.7h0.8M341.7 314.9h0.8M358.9 325.2h0.8M301.9 311.8h0.8M212.9 322.1h0.8M357.3 333.3h0.8M290.6 282.8h0.8M281.5 307.7h0.8M321.7 340.7h0.8M296.7 315.8h0.8M356.1 313.5h0.8M241.0 294.1h0.8M297.0 283.5h0.8M291.2 339.9h0.8M349.2 314.8h0.8M288.5 316.8h0.8M281.3 339.7h0.8M337.4 310.0h0.8M307.2 332.5h0.8M327.0 307.4h0.8M275.0 300.6h0.8M380.4 319.7h0.8M310.0 353.3h0.8M205.8 318.1h0.8M309.8 287.2h0.8M260.7 304.6h0.8M229.0 301.6h0.8M283.8 281.9h0.8M333.5 291.6h0.8" stroke="#ff2020" stroke-width="0.8" fill="none"/>
<path d="M301.8 335.9h0.8M263.3 296.7h0.8M289.2 338.1h0.8M378.5 312.4h0.8M289.1 337.4h0.8M251.0 319.0h0.8M242.6 324.1h0.8M340.0 340.4h0.8M243.8 323.2h0.8M291.4 344.5h0.8M378.4 312.7h0.8M355.6 296.5h0.8M258.0 305.1h0.8M199.4 309.5h0.8M272.4 320.7h0.8M339.1 319.7h0.8M309.2 340.3h0.8M356.4 300.1h0.8M240.4 307.9h0.8M320.8 339.3h0.8M291.0 340.8h0.8M284.9 316.3h0.8M286.1 322.7h0.8M239.6 302.2h0.8M334.6 331.5h0.8M275.3 337.1h0.8M322.1 288.4h0.8M329.3 327.2h0.8M262.9 321.7h0.8M292.5 318.9h0.8M286.7 317.3h0.8M258.2 299.1h0.8M229.5 323.7h0.8M252.1 322.3h0.8M389.7 310.8h0.8M324.3 346.8h0.8M361.6 314.0h0.8M267.8 314.6h0.8M356.2 304.4h0.8M314.3 307.3h0.8M222.6 321.9h0.8M335.5 314.3h0.8M327.0 346.4h0.8M293.6 329.7h0.8M241.0 291.0h0.8M278.3 303.4h0.8M321.8 312.3h0.8M305.1 343.9h0.8M368.4 302.4h0.8M336.1 322.6h0.8M333.2 300.7h0.8M397.6 311.8h0.8M279.3 312.1h0.8M289.3 339.6h0.8M336.5 314.4h0.8M279.6 286.4h0.8M353.2 315.8h0.8M367.7 319.7h0.8M321.5 353.2h0.8M260.4 284.7h0.8M272.5 337.7h0.8M338.5 343.2h0.8M282.3 278.2h0.8M241.7 300.1h0.8M321.9 316.4h0.8M275.7 303.3h0.8M276.7 291.9h0.8M251.9 310.3h0.8M294.0 317.6h0.8M377.7 305.6h0.8M250.7 301.2h0.8M259.9 338.3h0.8M408.8 307.9h0.8M269.8 323.6h0.8M314.9 347.6h0.8M291.0 344.1h0.8M319.0 332.8h0.8M342.6 329.8h0.8M308.7 317.0h0.8M264.7 333.2h0.8M312.7 320.3h0.8M293.0 320.7h0.8M229.8 317.7h0.8M288.0 291.5h0.8M370.6 307.0h0.8M199.9 312.0h0.8M365.6 302.2h0.8M370.7 313.7h0.8M349.5 304.4h0.8M336.0 326.9h0.8M357.0 317.7h0.8M343.2 320.4h0.8M225.4 319.4h0.8M371.4 306.5h0.8M339.4 325.7h0.8M329.7 340.2h0.8M295.6 289.5h0.8M390.1 317.5h0.8M329.4 306.5h0.8M294.4 291.8h0.8M316.1 326.3h0.8M367.7 319.7h0.8M348.5 324.3h0.8M260.0 322.4h0.8M267.6 311.3h0.8M385.9 314.3h0.8M215.0 303.5h0.8M336.9 325.3h0.8M282.7 301.9h0.8M291.9 275.6h0.8" stroke="#20e030" stroke-width="0.8" fill="none"/>
<path d="M254.6 322.1h0.8M299.8 285.7h0.8M295.6 285.3h0.8M311.7 347.2h0.8M334.6 288.9h0.8M319.8 312.9h0.8M385.3 317.1h0.8M294.1 307.5h0.8M315.7 335.6h0.8M298.4 281.5h0.8M310.8 343.0h0.8M342.0 308.7h0.8M279.1 324.1h0.8M261.2 336.6h0.8M372.7 312.6h0.8M355.9 329.4h0.8M244.1 292.0h0.8M335.2 308.0h0.8M239.3 313.7h0.8M299.3 319.0h0.8M373.5 324.2h0.8M286.0 342.4h0.8M358.0 300.4h0.8M253.1 314.4h0.8M271.2 317.3h0.8M240.5 325.3h0.8M356.6 331.9h0.8M281.4 304.9h0.8M381.3 314.6h0.8M297.7 312.2h0.8M298.0 334.4h0.8M229.3 298.5h0.8M331.2 298.4h0.8M347.9 301.5h0.8M286.8 339.3h0.8M281.6 290.9h0.8M318.5 346.3h0.8M374.5 321.2h0.8M339.8 319.0h0.8M273.3 316.9h0.8M402.9 312.6h0.8M283.5 328.3h0.8M379.3 323.9h0.8M310.7 310.0h0.8M330.0 321.3h0.8M287.6 293.7h0.8M330.9 315.6h0.8M333.0 332.9h0.8M326.5 288.7h0.8M380.3 322.4h0.8M308.9 308.1h0.8M328.7 304.2h0.8M396.4 312.7h0.8M332.9 312.2h0.8M263.1 293.7h0.8M220.3 309.4h0.8M384.9 312.6h0.8M319.1 327.9h0.8M307.6 290.7h0.8M322.2 351.8h0.8M271.7 334.7h0.8M313.6 311.8h0.8M323.5 332.0h0.8M333.2 315.8h0.8M338.9 294.2h0.8M315.8 303.3h0.8M288.6 314.8h0.8M266.3 316.6h0.8M332.4 319.6h0.8M253.4 286.0h0.8M300.8 288.4h0.8M345.2 318.5h0.8M356.3 313.9h0.8M321.0 339.2h0.8M317.3 295.5h0.8M297.2 313.6h0.8M281.2 326.4h0.8M298.3 291.9h0.8M320.7 352.2h0.8M246.4 299.4h0.8M373.0 328.6h0.8M295.0 339.0h0.8M353.2 334.5h0.8M279.2 325.6h0.8M303.1 349.1h0.8M207.5 322.7h0.8M299.6 340.2h0.8M287.2 314.0h0.8M268.7 289.9h0.8M288.9 330.4h0.8M307.1 286.8h0.8M272.6 286.1h0.8M218.8 311.4h0.8M286.9 336.4h0.8M323.0 286.7h0.8M236.6 321.8h0.8M275.5 298.7h0.8M229.1 331.2h0.8M193.5 313.1h0.8M331.5 300.6h0.8M273.3 330.8h0.8M337.4 304.9h0.8M332.8 332.3h0.8M327.1 307.5h0.8M346.4 311.5h0.8M367.8 315.4h0.8M322.0 335.0h0.8M345.6 327.3h0.8M351.0 301.6h0.8M279.2 323.4h0.8M308.2 313.0h0.8M250.7 322.1h0.8M353.4 304.0h0.8M247.2 301.2h0.8M222.2 320.4h0.8M343.4 325.4h0.8M324.7 294.8h0.8M341.7 319.1h0.8M340.7 323.4h0.8M277.1 294.4h0.8M287.2 283.3h0.8M294.8 299.1h0.8M356.7 329.6h0.8M280.8 285.2h0.8M339.4 310.4h0.8M290.0 296.8h0.8M261.1 297.4h0.8M250.5 294.4h0.8M270.9 289.5h0.8M327.4 314.9h0.8M292.7 326.3h0.8M296.8 346.8h0.8M248.5 306.8h0.8M369.5 320.7h0.8M263.4 311.9h0.8M302.0 289.7h0.8M263.7 335.1h0.8M261.4 284.8h0.8M359.0 314.1h0.8M267.3 298.9h0.8M382.2 321.2h0.8M315.4 310.4h0.8M348.2 299.0h0.8M348.9 313.6h0.8M284.4 295.4h0.8M310.8 313.9h0.8M331.2 299.6h0.8M289.5 281.6h0.8M300.0 345.4h0.8M311.0 289.4h0.8M271.3 287.0h0.8M303.0 312.1h0.8M266.6 317.2h0.8M270.1 334.8h0.8M407.6 311.4h0.8M330.0 307.8h0.8M290.2 285.7h0.8M274.1 339.9h0.8M321.4 306.3h0.8M274.5 329.8h0.8M312.5 332.6h0.8M282.8 289.2h0.8M200.1 308.8h0.8M363.4 302.2h0.8M352.5 310.4h0.8M314.2 332.5h0.8M313.4 337.7h0.8M287.2 281.6h0.8M324.3 325.2h0.8M307.9 347.2h0.8M261.1 287.4h0.8M290.8 299.7h0.8M359.5 334.8h0.8M295.9 309.7h0.8M327.7 337.5h0.8M389.4 310.4h0.8M248.9 323.4h0.8M288.5 324.6h0.8M307.9 301.0h0.8M286.7 287.4h0.8M238.1 289.8h0.8M297.6 302.3h0.8M328.8 296.3h0.8M270.0 331.2h0.8M318.0 350.9h0.8M330.4 315.3h0.8M255.9 292.0h0.8M295.1 321.1h0.8M205.4 314.3h0.8M321.3 319.7h0.8M307.4 328.2h0.8M329.6 334.8h0.8M293.0 286.2h0.8M278.6 314.6h0.8M323.4 343.7h0.8M388.5 301.1h0.8M296.7 342.8h0.8M267.3 307.9h0.8M324.6 296.9h0.8M336.3 298.0h0.8M199.3 318.0h0.8M362.4 318.2h0.8M293.6 320.5h0.8M277.6 320.8h0.8M266.7 319.7h0.8M295.6 318.3h0.8M282.4 278.8h0.8M318.1 285.1h0.8M284.8 320.2h0.8M332.0 314.5h0.8M244.9 301.0h0.8M239.0 294.8h0.8M264.3 292.1h0.8M262.5 316.4h0.8M301.3 295.1h0.8M312.7 287.3h0.8M294.6 290.6h0.8M224.2 317.6h0.8M271.6 310.8h0.8M316.1 323.4h0.8M290.7 278.3h0.8M207.5 319.5h0.8M267.2 338.9h0.8M304.7 290.3h0.8M278.5 292.5h0.8M239.5 318.8h0.8M303.2 343.5h0.8M349.4 324.5h0.8M280.3 320.4h0.8M334.6 325.1h0.8M323.4 330.4h0.8M206.0 313.1h0.8M350.1 345.0h0.8M313.2 289.5h0.8M383.7 316.1h0.8M341.9 314.1h0.8M348.6 331.9h0.8M326.9 335.6h0.8M281.8 341.2h0.8M298.6 313.9h0.8M395.1 316.9h0.8M289.7 290.1h0.8M329.5 320.7h0.8M292.3 312.9h0.8M274.2 310.5h0.8M321.9 319.7h0.8M369.0 308.3h0.8M266.0 313.4h0.8M314.1 350.9h0.8M271.9 297.1h0.8M376.7 321.3h0.8M283.6 308.5h0.8M310.5 329.7h0.8M242.7 294.3h0.8M292.7 332.3h0.8M216.2 313.5h0.8M373.4 305.3h0.8M292.5 312.9h0.8M277.5 307.0h0.8M256.4 301.6h0.8M320.8 314.1h0.8M330.2 296.1h0.8M244.9 321.6h0.8M363.7 316.9h0.8M356.1 332.6h0.8M204.7 311.5h0.8M392.2 309.2h0.8M291.3 289.8h0.8M303.1 298.6h0.8M214.0 308.8h0.8M242.8 311.9h0.8M278.3 324.5h0.8M307.1 351.3h0.8M285.6 343.2h0.8M280.2 274.9h0.8M275.3 281.5h0.8M320.3 291.8h0.8M383.9 311.0h0.8M307.6 348.6h0.8M368.4 314.5h0.8M256.8 301.7h0.8M321.2 311.6h0.8M308.1 348.6h0.8M310.2 330.4h0.8M318.0 303.4h0.8M290.1 299.2h0.8M289.6 274.7h0.8M269.7 287.0h0.8M298.3 320.7h0.8M299.6 286.8h0.8M298.8 285.9h0.8M350.2 315.0h0.8M289.1 291.3h0.8M289.4 337.1h0.8M364.9 316.7h0.8M220.2 320.5h0.8M231.5 300.9h0.8M283.5 279.2h0.8M326.5 327.2h0.8M367.9 327.1h0.8M229.6 321.4h0.8M303.8 327.2h0.8M263.0 307.3h0.8M300.3 335.6h0.8M314.7 351.5h0.8M274.7 332.8h0.8M381.9 319.7h0.8M254.1 303.0h0.8M288.3 318.7h0.8M324.6 294.9h0.8M218.6 305.3h0.8M284.1 281.7h0.8M255.3 295.6h0.8M240.6 314.8h0.8M302.0 313.5h0.8M266.0 283.5h0.8M310.5 328.1h0.8M277.6 324.3h0.8M274.3 289.0h0.8M248.8 284.5h0.8M250.5 327.4h0.8M298.9 290.1h0.8M333.3 303.7h0.8M264.0 327.4h0.8M331.3 312.7h0.8M285.2 332.1h0.8M301.1 339.6h0.8M348.4 299.9h0.8M294.2 303.3h0.8M404.2 308.8h0.8M363.5 321.5h0.8M254.1 320.7h0.8M260.3 304.6h0.8M293.4 302.7h0.8M347.7 302.8h0.8M357.8 298.2h0.8M287.6 320.3h0.8M284.4 317.3h0.8M273.4 294.2h0.8M380.0 304.8h0.8M286.0 294.9h0.8M256.9 333.5h0.8M250.3 316.2h0.8M219.7 308.4h0.8M344.1 320.1h0.8M349.0 312.0h0.8M286.3 286.7h0.8M314.0 297.9h0.8M273.2 302.2h0.8M358.6 306.3h0.8M317.2 299.3h0.8M238.7 310.5h0.8M295.8 331.1h0.8M275.3 316.1h0.8M219.4 328.0h0.8M347.9 302.4h0.8M290.7 279.8h0.8M277.1 316.2h0.8M364.1 328.5h0.8M278.8 309.6h0.8M333.1 298.7h0.8M334.5 320.3h0.8M358.2 306.7h0.8M203.0 310.3h0.8M198.2 317.3h0.8M292.8 311.8h0.8M320.1 304.8h0.8M313.8 345.5h0.8M319.9 325.9h0.8M268.5 294.8h0.8M328.3 291.6h0.8M352.1 309.1h0.8M277.7 335.2h0.8M281.6 275.3h0.8M205.8 309.3h0.8M351.8 310.3h0.8M297.6 321.8h0.8M290.5 309.4h0.8M241.8 314.3h0.8M305.4 304.1h0.8M314.1 320.0h0.8M383.4 323.7h0.8M391.2 309.8h0.8M240.3 326.5h0.8M328.9 306.5h0.8M321.0 308.7h0.8M357.5 312.6h0.8M282.8 330.1h0.8M369.8 312.4h0.8M221.1 312.9h0.8M395.7 318.6h0.8M334.3 303.6h0.8M331.9 293.7h0.8M274.4 297.9h0.8M275.0 325.6h0.8M340.7 342.6h0.8M193.8 309.5h0.8M356.3 311.4h0.8M330.5 312.9h0.8M315.3 321.0h0.8M243.1 317.9h0.8M333.2 328.4h0.8M385.8 309.1h0.8M282.6 311.1h0.8M223.8 309.0h0.8M235.6 294.6h0.8M268.9 327.6h0.8M338.9 300.4h0.8M263.8 291.7h0.8M264.6 319.9h0.8M236.8 313.6h0.8M227.2 319.9h0.8M377.7 307.2h0.8M274.7 318.9h0.8M226.8 312.6h0.8M375.1 314.9h0.8M356.8 325.8h0.8M256.0 334.0h0.8M321.6 331.2h0.8M283.8 322.3h0.8M330.1 339.7h0.8M256.0 284.8h0.8M323.3 351.4h0.8M225.8 324.9h0.8M292.1 305.7h0.8M245.6 315.2h0.8M302.0 306.4h0.8M301.9 300.2h0.8M252.0 309.4h0.8M328.7 298.3h0.8M329.8 319.8h0.8M280.7 321.2h0.8M267.0 330.9h0.8M269.6 300.0h0.8M207.9 320.8h0.8M336.7 317.7h0.8M256.9 285.4h0.8M316.2 333.5h0.8M250.0 297.2h0.8M338.8 308.3h0.8M250.2 328.5h0.8M303.2 283.4h0.8M359.5 319.7h0.8M314.1 340.4h0.8M326.1 317.5h0.8M292.2 319.5h0.8M320.0 312.3h0.8M320.8 296.0h0.8M364.8 315.5h0.8M279.9 283.2h0.8M226.2 313.2h0.8M292.0 319.2h0.8M256.0 327.6h0.8M302.3 305.1h0.8M263.1 302.5h0.8M299.4 296.9h0.8M285.0 311.6h0.8M314.5 350.9h0.8M212.3 311.9h0.8M345.1 326.7h0.8M225.0 312.9h0.8M304.8 320.0h0.8M275.8 310.0h0.8M278.1 306.9h0.8M308.4 296.6h0.8M295.1 304.4h0.8M270.2 295.2h0.8M340.2 299.3h0.8M236.6 307.5h0.8M261.9 317.8h0.8M316.3 335.8h0.8M250.9 315.7h0.8M350.4 302.3h0.8M294.6 318.3h0.8M309.7 284.0h0.8M308.7 343.5h0.8M273.9 340.6h0.8M316.8 319.8h0.8M232.7 318.1h0.8M255.8 338.3h0.8M225.8 312.2h0.8M279.1 274.1h0.8M332.5 305.1h0.8M313.5 316.7h0.8M397.8 311.9h0.8M246.1 292.1h0.8M346.3 337.5h0.8M352.8 307.5h0.8M210.9 308.8h0.8M318.6 330.4h0.8M255.6 311.5h0.8M324.4 329.3h0.8M241.3 293.5h0.8M292.3 351.4h0.8M267.8 279.5h0.8M271.1 294.8h0.8M299.3 327.0h0.8M284.2 338.7h0.8M312.4 299.8h0.8M219.2 297.9h0.8" stroke="#ff2020" stroke-width="0.8" fill="none"/>
<path d="M298.0 307.3h0.8M404.8 313.1h0.8M283.4 315.4h0.8M318.8 330.2h0.8M297.4 299.6h0.8M354.7 326.9h0.8M362.9 315.6h0.8M250.8 297.8h0.8M215.6 320.0h0.8M304.2 283.2h0.8M292.1 281.0h0.8M305.8 312.3h0.8M307.7 296.9h0.8M312.4 288.7h0.8M226.6 302.2h0.8M270.3 285.7h0.8M350.1 322.4h0.8M356.4 310.6h0.8M301.0 311.6h0.8M244.4 321.6h0.8M257.5 330.3h0.8M267.1 285.9h0.8M359.6 302.9h0.8M223.3 313.4h0.8M376.0 314.9h0.8M346.7 313.4h0.8M317.5 330.0h0.8M260.7 298.8h0.8M312.2 295.1h0.8M237.3 297.4h0.8M397.4 313.3h0.8M262.6 281.3h0.8M284.5 332.7h0.8M242.2 297.7h0.8M249.2 295.6h0.8M291.7 344.9h0.8M277.6 278.4h0.8M324.9 296.6h0.8M360.5 308.9h0.8M303.6 309.8h0.8M355.7 328.2h0.8M298.0 283.5h0.8M247.9 290.9h0.8M358.0 321.8h0.8M274.9 316.7h0.8M259.4 290.0h0.8M270.7 340.4h0.8M295.1 325.9h0.8M279.3 335.1h0.8M362.5 307.2h0.8M247.6 327.6h0.8M337.5 319.7h0.8M273.5 328.0h0.8M300.1 299.2h0.8M235.7 298.4h0.8M293.1 278.5h0.8M299.8 342.6h0.8M294.8 286.7h0.8M259.3 314.8h0.8M274.8 299.3h0.8M258.1 336.9h0.8M351.3 316.2h0.8M257.3 293.7h0.8M306.5 309.9h0.8M284.1 328.8h0.8M333.2 342.1h0.8M226.2 316.7h0.8M321.3 305.8h0.8M267.1 297.7h0.8M314.8 344.6h0.8M276.1 332.3h0.8M242.2 306.0h0.8M355.2 307.5h0.8M296.6 306.6h0.8M272.9 326.9h0.8M333.4 341.7h0.8M356.2 301.7h0.8M279.1 299.2h0.8M314.8 316.9h0.8M304.9 299.7h0.8M286.1 337.4h0.8M254.1 333.7h0.8M365.1 324.7h0.8M254.4 324.2h0.8M292.7 309.3h0.8M306.4 290.2h0.8M381.2 308.6h0.8M249.4 297.3h0.8M329.9 338.9h0.8M293.6 303.6h0.8M208.3 316.7h0.8M279.2 327.2h0.8M316.1 291.0h0.8M335.1 334.0h0.8M262.2 298.5h0.8M242.4 325.2h0.8M322.5 331.9h0.8M233.3 300.2h0.8M313.4 294.4h0.8M280.6 328.3h0.8M384.8 304.8h0.8M326.5 313.2h0.8M260.1 325.4h0.8M288.9 314.6h0.8M326.3 299.6h0.8M286.1 323.5h0.8M311.4 295.6h0.8M261.3 304.9h0.8M300.0 319.7h0.8M316.1 306.1h0.8" stroke="#20e030" stroke-width="0.8" fill="none"/>
<path d="M191.3 311.1h0.9M192.0 309.9h0.9M192.8 306.9h0.9M198.4 312.0h0.9M192.0 310.2h0.9M186.4 305.2h0.9M190.3 309.3h0.9M191.8 306.9h0.9M192.6 304.9h0.9M195.6 309.0h0.9M194.6 305.1h0.9M191.6 313.5h0.9M189.8 311.6h0.9M189.2 308.9h0.9M189.3 308.9h0.9M188.4 316.4h0.9M187.4 311.4h0.9M190.4 311.5h0.9M190.6 308.6h0.9M189.7 306.8h0.9M191.8 308.0h0.9M191.9 310.4h0.9M189.4 313.4h0.9M192.9 307.4h0.9M190.9 310.6h0.9M192.7 308.6h0.9M187.5 303.9h0.9M188.9 312.6h0.9M190.2 310.7h0.9M190.9 310.3h0.9M191.5 309.1h0.9M196.3 305.7h0.9M194.7 307.8h0.9M191.0 308.9h0.9M200.2 315.1h0.9M191.8 312.8h0.9M193.8 307.5h0.9M194.7 305.7h0.9M193.6 307.8h0.9M182.9 307.5h0.9M194.7 307.9h0.9M192.9 309.1h0.9M192.5 311.3h0.9M191.0 304.0h0.9M190.5 312.0h0.9" stroke="#ff2020" stroke-width="0.9" fill="none"/>
<path d="M266.7 274.8h0.9M284.2 277.7h0.9M274.9 269.1h0.9M286.2 268.3h0.9M290.9 276.1h0.9M284.7 276.8h0.9M296.1 276.7h0.9M280.1 277.4h0.9M278.8 268.7h0.9M279.8 272.8h0.9M279.1 279.5h0.9M268.4 268.5h0.9M273.4 275.3h0.9M296.7 276.0h0.9M294.3 270.9h0.9M287.9 274.2h0.9M261.5 272.0h0.9M285.8 276.0h0.9M284.9 269.9h0.9M290.0 273.2h0.9M279.2 267.7h0.9M269.8 275.6h0.9M283.0 274.9h0.9M270.9 275.0h0.9M289.7 267.6h0.9M289.6 268.7h0.9M290.7 271.7h0.9M286.2 268.8h0.9M289.4 275.4h0.9M292.2 278.1h0.9M289.0 273.2h0.9M282.7 273.2h0.9M276.4 273.4h0.9M278.3 271.1h0.9M286.9 275.6h0.9M288.3 271.6h0.9M288.6 272.2h0.9M286.1 273.0h0.9M270.3 278.1h0.9M285.9 279.2h0.9M294.4 273.7h0.9M282.9 272.6h0.9M295.9 268.9h0.9M278.8 270.6h0.9M281.2 270.5h0.9M282.4 274.0h0.9M275.2 276.2h0.9M281.2 273.1h0.9M276.7 276.5h0.9M297.1 273.3h0.9M284.9 268.3h0.9M298.9 273.2h0.9M287.7 273.3h0.9M267.3 270.6h0.9M276.7 272.2h0.9M301.1 275.5h0.9M282.6 270.4h0.9M289.7 271.3h0.9M271.3 274.1h0.9M286.9 273.5h0.9M276.3 273.7h0.9M286.3 267.2h0.9M295.4 274.5h0.9M288.0 271.7h0.9M272.7 274.2h0.9M294.7 272.9h0.9M271.6 274.7h0.9M288.4 274.0h0.9M282.8 276.2h0.9M282.5 278.6h0.9" stroke="#ff2020" stroke-width="0.9" fill="none"/>
<path d="M385.7 292.4h0.9M393.7 302.1h0.9M418.0 303.2h0.9M388.9 300.7h0.9M375.6 294.4h0.9M375.6 302.1h0.9M376.8 292.7h0.9M389.4 296.3h0.9M395.2 301.8h0.9M404.7 305.0h0.9M392.8 300.2h0.9M375.6 294.3h0.9M374.9 295.4h0.9M403.4 305.6h0.9M411.4 305.7h0.9M387.7 302.5h0.9M372.6 296.6h0.9M384.0 296.9h0.9M400.8 306.0h0.9M375.0 293.7h0.9M399.0 296.7h0.9M382.4 297.8h0.9M380.5 303.5h0.9M416.3 309.4h0.9M377.5 296.0h0.9M378.3 296.1h0.9M382.1 295.5h0.9M391.5 301.9h0.9M380.4 301.4h0.9M385.6 298.6h0.9M382.4 292.5h0.9M401.6 305.4h0.9M390.6 299.3h0.9M395.9 299.2h0.9M371.7 299.5h0.9M399.3 304.2h0.9M399.6 301.7h0.9M371.3 293.6h0.9M395.3 298.9h0.9M404.5 305.5h0.9M399.4 303.7h0.9M384.1 297.6h0.9M396.5 295.0h0.9M400.6 307.1h0.9M395.6 298.6h0.9M390.1 303.7h0.9M400.2 302.6h0.9M419.2 310.8h0.9M386.2 303.1h0.9M387.8 300.3h0.9M380.8 294.5h0.9M403.7 303.7h0.9M392.7 297.0h0.9M385.2 297.3h0.9M399.9 298.0h0.9M387.0 301.2h0.9M396.7 299.6h0.9M398.6 301.9h0.9M387.7 303.1h0.9M370.8 291.6h0.9M406.6 307.3h0.9M397.4 299.6h0.9M394.5 302.6h0.9M399.8 306.8h0.9M369.8 294.1h0.9M408.7 305.1h0.9M404.4 305.5h0.9M412.4 308.7h0.9M405.9 299.6h0.9M373.7 295.9h0.9M385.5 300.5h0.9M392.9 298.1h0.9M393.6 298.7h0.9M382.0 298.3h0.9M397.8 305.4h0.9M397.3 302.4h0.9M394.3 299.6h0.9M398.7 295.7h0.9M401.2 309.2h0.9M407.6 301.4h0.9M402.0 303.9h0.9M412.6 305.5h0.9M378.8 292.3h0.9M403.0 308.1h0.9M378.4 296.5h0.9M429.3 309.8h0.9M394.6 304.3h0.9M375.1 295.4h0.9M377.2 295.0h0.9M397.6 297.8h0.9" stroke="#ff2020" stroke-width="0.9" fill="none"/>
<path d="M354.2 345.1h0.9M352.5 343.6h0.9M344.6 346.7h0.9M360.7 340.8h0.9M365.8 335.4h0.9M346.3 346.8h0.9M355.0 341.2h0.9M348.2 344.4h0.9M356.3 340.8h0.9M345.4 349.3h0.9M356.3 340.4h0.9M332.5 351.9h0.9M344.9 345.2h0.9M357.1 339.8h0.9M355.4 340.6h0.9M357.1 340.3h0.9M366.4 336.5h0.9M350.2 345.8h0.9M352.7 342.5h0.9M347.0 345.5h0.9M339.2 349.1h0.9M358.7 341.3h0.9M351.0 347.9h0.9M350.1 343.1h0.9M349.6 344.3h0.9M363.0 339.9h0.9M344.1 347.5h0.9M351.6 346.6h0.9M357.0 340.8h0.9M360.3 341.8h0.9M356.5 342.4h0.9M354.6 343.0h0.9M351.4 342.8h0.9M357.4 340.5h0.9M344.3 349.9h0.9M351.3 343.1h0.9M347.1 346.0h0.9M351.9 342.6h0.9M363.5 337.5h0.9M345.1 350.2h0.9M358.3 341.8h0.9M353.8 342.9h0.9M349.8 343.1h0.9M339.6 351.4h0.9M345.6 343.6h0.9M350.7 339.2h0.9M345.8 348.4h0.9M348.1 344.4h0.9M368.3 337.9h0.9M357.9 341.0h0.9" stroke="#ff2020" stroke-width="0.9" fill="none"/>
<path d="M232.0 301.1h0.8M243.0 283.5h0.8M235.1 291.8h0.8M245.4 280.5h0.8M216.7 286.2h0.8M244.6 282.6h0.8M248.2 270.2h0.8M173.0 296.1h0.8M219.8 286.4h0.8M200.8 302.1h0.8M230.3 277.5h0.8M254.2 276.5h0.8M225.0 285.7h0.8M225.6 293.3h0.8M181.3 311.9h0.8M250.2 280.2h0.8M293.2 262.2h0.8M244.3 285.5h0.8M251.9 264.2h0.8M196.3 290.0h0.8M264.2 275.9h0.8M173.2 317.8h0.8M265.7 279.0h0.8M197.3 300.4h0.8M251.6 287.6h0.8M213.5 306.4h0.8M255.8 273.5h0.8M217.8 288.2h0.8M234.8 272.0h0.8M245.0 287.1h0.8M249.2 281.4h0.8M302.6 259.5h0.8M226.2 297.0h0.8M235.6 284.8h0.8M280.5 284.7h0.8M210.9 305.5h0.8M221.4 304.1h0.8M217.1 314.1h0.8M215.9 286.9h0.8M230.4 289.9h0.8M232.2 298.4h0.8M260.0 267.6h0.8M247.5 275.7h0.8M207.3 286.5h0.8M228.8 292.8h0.8M230.3 287.1h0.8M213.3 273.0h0.8M253.9 295.0h0.8M205.4 286.6h0.8M254.5 282.1h0.8M256.7 284.8h0.8M202.7 293.9h0.8M228.1 297.0h0.8M219.0 272.3h0.8M264.8 266.1h0.8M220.7 283.6h0.8M208.7 301.3h0.8M236.4 284.1h0.8M243.5 273.1h0.8M207.0 307.5h0.8M226.6 280.8h0.8M202.6 291.6h0.8M178.8 313.7h0.8M223.2 300.8h0.8M243.1 278.7h0.8M207.5 293.1h0.8M163.0 321.1h0.8M225.1 282.4h0.8M278.2 260.5h0.8M269.6 277.8h0.8M225.3 287.7h0.8M273.0 245.4h0.8M254.6 269.3h0.8M258.8 276.7h0.8M199.8 295.5h0.8M199.4 275.9h0.8M194.3 295.6h0.8M183.0 295.3h0.8M249.6 293.6h0.8M260.7 290.8h0.8M223.3 295.9h0.8M197.5 297.4h0.8M158.0 305.9h0.8M230.5 293.3h0.8M201.5 310.0h0.8M251.7 281.5h0.8M222.2 290.6h0.8M235.8 296.4h0.8M209.5 291.1h0.8M199.5 302.6h0.8M237.1 275.7h0.8M267.2 282.1h0.8M250.9 283.6h0.8M268.7 285.7h0.8M244.2 274.2h0.8M215.7 284.3h0.8M242.5 283.6h0.8M227.9 280.6h0.8M226.1 297.1h0.8M205.4 295.4h0.8M244.0 274.3h0.8M222.6 292.4h0.8M244.8 291.3h0.8M223.5 296.3h0.8M246.6 281.2h0.8M185.3 288.7h0.8M215.2 284.6h0.8M248.5 273.3h0.8M236.9 281.0h0.8M173.8 305.6h0.8M211.5 300.4h0.8M223.2 291.1h0.8M207.1 294.9h0.8M236.0 277.7h0.8M281.7 271.4h0.8M268.1 285.1h0.8M204.4 291.6h0.8M244.5 288.6h0.8M228.8 285.2h0.8M232.1 272.5h0.8M245.6 270.8h0.8M265.2 262.3h0.8M207.3 310.0h0.8M223.6 296.9h0.8M236.6 292.6h0.8M261.6 274.7h0.8M235.1 286.8h0.8M221.5 278.1h0.8M216.3 290.1h0.8M234.9 282.3h0.8M251.6 282.2h0.8M232.2 293.9h0.8M281.8 254.1h0.8M234.6 289.9h0.8M220.8 295.8h0.8M261.7 280.8h0.8M251.6 282.4h0.8M266.7 281.7h0.8M225.2 291.5h0.8M228.4 280.1h0.8M227.1 295.4h0.8M227.0 297.0h0.8M243.3 286.1h0.8M209.8 288.4h0.8M257.7 282.1h0.8M213.9 281.3h0.8M205.5 300.7h0.8M208.0 311.4h0.8M194.9 303.4h0.8M222.0 279.9h0.8M244.8 287.2h0.8M227.1 278.4h0.8M247.4 286.4h0.8M220.4 268.0h0.8M233.2 278.7h0.8M233.1 297.7h0.8M227.7 294.5h0.8M273.5 248.8h0.8M257.3 262.9h0.8M215.1 290.1h0.8M218.7 295.6h0.8M216.9 288.4h0.8M249.8 272.2h0.8M173.0 308.7h0.8M215.8 278.6h0.8M284.3 269.2h0.8M226.2 287.6h0.8M166.1 320.1h0.8M207.3 302.1h0.8M173.9 318.8h0.8M235.2 272.7h0.8M233.8 290.0h0.8M222.2 308.2h0.8M214.6 306.1h0.8M258.0 265.7h0.8M188.1 303.7h0.8M263.7 266.7h0.8M219.2 273.7h0.8M253.5 278.2h0.8M234.1 273.9h0.8M212.7 292.4h0.8M246.3 264.9h0.8M249.6 280.7h0.8M209.2 298.9h0.8M240.1 266.0h0.8M236.6 278.3h0.8M238.4 289.8h0.8M233.7 280.3h0.8M241.0 279.3h0.8M238.1 290.2h0.8M250.7 275.6h0.8M235.0 288.9h0.8M228.8 284.4h0.8M269.1 286.0h0.8M216.1 283.8h0.8M224.7 268.8h0.8M273.0 275.0h0.8M280.0 273.5h0.8M179.1 296.4h0.8M254.9 275.3h0.8M245.1 283.5h0.8M210.1 279.8h0.8M245.5 279.4h0.8M256.9 278.7h0.8M190.8 295.7h0.8M220.3 291.7h0.8M197.1 277.8h0.8M246.8 266.4h0.8M241.6 290.7h0.8M253.8 283.9h0.8M258.0 261.0h0.8M216.8 296.0h0.8M267.6 266.7h0.8M196.8 296.0h0.8M270.1 273.7h0.8M193.4 294.4h0.8M245.3 288.7h0.8M248.2 293.1h0.8M236.5 288.0h0.8M239.3 291.5h0.8M231.6 293.7h0.8M249.5 273.2h0.8M244.4 280.5h0.8M234.8 283.1h0.8M237.3 285.3h0.8M199.8 289.4h0.8M232.8 277.3h0.8M192.5 319.8h0.8M227.2 274.7h0.8M252.6 278.9h0.8" stroke="#30f040" stroke-width="0.8" fill="none"/>
<path d="M359.0 285.5h0.8M334.3 282.1h0.8M298.0 271.8h0.8M375.3 297.1h0.8M367.1 288.1h0.8M383.1 299.0h0.8M279.8 258.3h0.8M299.4 264.2h0.8M404.2 290.9h0.8M372.8 278.9h0.8M292.4 257.3h0.8M337.3 273.2h0.8M269.4 253.9h0.8M344.8 277.2h0.8M303.4 255.3h0.8M320.4 281.5h0.8M379.6 311.2h0.8M340.2 273.9h0.8M309.3 278.4h0.8M326.2 272.3h0.8M300.6 268.4h0.8M364.0 278.1h0.8M357.6 281.4h0.8M360.8 276.6h0.8M321.7 266.7h0.8M343.1 275.5h0.8M302.0 267.9h0.8M373.4 295.6h0.8M344.9 278.7h0.8M385.4 282.8h0.8M422.5 310.4h0.8M356.6 287.7h0.8M401.0 283.0h0.8M316.7 274.3h0.8M336.0 285.4h0.8M355.7 276.0h0.8M305.4 285.1h0.8M317.0 262.5h0.8M317.1 269.2h0.8M362.6 284.5h0.8M294.6 282.1h0.8M394.2 294.8h0.8M289.9 270.2h0.8M357.9 283.2h0.8M376.5 305.2h0.8M338.4 278.0h0.8M351.8 284.9h0.8M339.0 293.8h0.8M378.9 301.7h0.8M302.1 274.8h0.8M333.1 262.4h0.8M392.4 280.3h0.8M305.8 250.1h0.8M306.6 274.1h0.8M392.2 302.9h0.8M354.8 292.2h0.8M332.7 277.3h0.8M339.9 271.7h0.8M387.8 278.9h0.8M350.9 283.9h0.8M293.2 255.2h0.8M357.6 276.9h0.8M349.4 278.3h0.8M344.7 276.5h0.8M337.6 287.0h0.8M293.4 258.1h0.8M358.1 288.4h0.8M367.9 289.5h0.8M268.6 270.0h0.8M320.7 273.5h0.8M301.8 276.1h0.8M349.5 271.7h0.8M362.5 295.3h0.8M365.7 268.9h0.8M368.3 292.9h0.8M421.1 308.3h0.8M403.3 299.0h0.8M286.4 247.9h0.8M383.5 296.9h0.8M351.1 295.5h0.8M342.1 281.7h0.8M355.1 284.5h0.8M328.7 276.5h0.8M360.0 297.0h0.8M345.6 285.0h0.8M363.1 277.8h0.8M312.9 273.5h0.8M334.0 269.2h0.8M326.5 260.7h0.8M380.8 295.3h0.8M384.0 270.6h0.8M343.4 283.1h0.8M321.0 282.6h0.8M343.9 284.8h0.8M343.4 278.1h0.8M329.6 277.4h0.8M388.0 291.7h0.8M320.5 268.6h0.8M372.5 301.7h0.8M365.0 290.5h0.8M368.8 278.0h0.8M330.6 281.8h0.8M356.6 302.1h0.8M328.8 284.8h0.8M396.6 286.7h0.8M340.5 286.1h0.8M358.2 287.9h0.8M394.3 305.8h0.8M313.8 266.2h0.8M316.0 271.3h0.8M369.1 289.5h0.8M375.3 294.9h0.8M325.8 258.0h0.8M328.2 265.5h0.8M302.1 266.3h0.8M407.3 293.3h0.8M369.7 293.8h0.8M346.3 273.4h0.8M405.7 297.5h0.8M409.7 301.3h0.8M341.8 280.3h0.8M329.8 270.8h0.8M364.6 279.2h0.8M367.7 277.3h0.8M287.3 263.0h0.8M380.7 284.0h0.8M408.0 309.2h0.8M341.0 291.2h0.8M336.1 278.3h0.8M359.1 284.4h0.8M384.9 281.6h0.8M311.2 257.5h0.8M334.9 276.3h0.8M309.0 277.0h0.8M299.1 259.7h0.8M394.4 288.8h0.8M352.1 257.3h0.8M346.0 281.9h0.8M339.7 285.7h0.8M337.0 279.3h0.8M321.1 273.1h0.8M343.9 289.5h0.8M323.0 265.5h0.8M332.5 272.3h0.8M336.0 290.2h0.8M330.2 293.7h0.8M383.7 291.7h0.8M341.5 281.2h0.8M317.7 278.9h0.8M361.1 282.7h0.8M329.5 281.6h0.8M302.2 264.4h0.8M313.5 257.0h0.8M312.6 277.6h0.8M385.6 283.7h0.8M326.7 281.4h0.8M349.9 276.2h0.8M323.6 285.0h0.8M286.8 252.6h0.8M344.7 284.0h0.8M316.9 264.7h0.8M381.4 292.4h0.8M305.8 273.7h0.8M336.3 289.3h0.8M374.1 280.5h0.8M321.2 274.4h0.8M329.4 281.8h0.8M336.2 294.6h0.8M311.5 259.0h0.8M327.3 271.4h0.8M327.7 270.6h0.8M315.8 277.2h0.8M342.5 277.4h0.8M298.2 273.3h0.8M389.0 291.4h0.8M344.8 291.6h0.8M342.4 288.1h0.8M331.1 270.2h0.8M390.5 280.7h0.8M368.0 298.7h0.8M350.1 282.9h0.8M377.2 280.5h0.8M341.4 283.1h0.8M349.6 267.5h0.8M352.4 279.0h0.8M388.3 311.2h0.8M298.0 271.0h0.8M333.0 256.1h0.8M364.5 308.0h0.8M330.4 292.7h0.8M392.8 298.7h0.8M350.6 298.6h0.8M287.8 263.8h0.8M313.8 277.1h0.8M347.4 284.9h0.8M361.2 304.9h0.8M392.7 295.0h0.8M336.9 291.0h0.8M357.7 294.0h0.8M260.0 268.8h0.8M379.6 267.3h0.8M347.5 285.3h0.8M289.3 276.8h0.8M357.0 275.4h0.8M317.1 273.1h0.8M347.0 277.2h0.8M355.0 295.6h0.8M349.5 281.8h0.8M406.7 308.0h0.8M332.8 277.9h0.8M326.2 274.8h0.8M332.7 270.1h0.8M366.8 283.6h0.8M317.5 268.9h0.8M312.0 271.1h0.8M338.1 271.4h0.8M375.2 291.4h0.8M371.8 289.5h0.8M364.3 272.7h0.8M334.9 287.3h0.8M327.8 279.7h0.8M297.5 252.4h0.8M297.6 286.2h0.8M363.9 278.6h0.8M357.4 283.5h0.8M356.8 280.4h0.8M343.0 290.1h0.8M370.3 289.5h0.8M364.7 287.6h0.8M355.2 275.1h0.8M338.6 292.4h0.8M349.0 286.4h0.8M395.8 305.3h0.8M403.9 306.8h0.8M399.8 286.4h0.8M361.7 286.5h0.8M293.4 270.2h0.8M353.5 285.0h0.8M360.1 285.7h0.8M400.2 292.9h0.8M348.1 267.1h0.8M339.5 284.8h0.8M360.4 291.5h0.8M350.1 284.8h0.8M329.6 291.7h0.8M313.2 270.9h0.8M302.7 278.7h0.8M335.5 278.2h0.8M302.2 284.0h0.8M325.8 286.1h0.8M346.7 281.7h0.8M340.5 273.7h0.8M362.1 292.2h0.8M422.5 288.1h0.8M338.6 271.6h0.8M330.7 265.6h0.8M313.9 279.9h0.8M327.7 274.0h0.8M373.5 291.3h0.8M356.0 283.2h0.8" stroke="#30f040" stroke-width="0.8" fill="none"/>
<path d="M338.6 365.7h0.85M373.4 365.1h0.85M318.1 368.7h0.85M342.8 363.9h0.85M380.2 369.4h0.85M353.5 369.7h0.85M306.3 368.9h0.85M351.2 370.1h0.85M320.9 359.4h0.85M312.0 377.3h0.85M274.3 392.3h0.85M264.2 370.0h0.85M375.5 363.9h0.85M325.8 354.5h0.85M323.2 374.6h0.85M313.6 373.7h0.85M318.1 367.0h0.85M322.0 384.1h0.85M370.8 378.4h0.85M304.0 362.9h0.85M307.5 370.6h0.85M358.7 381.2h0.85M294.1 382.3h0.85M321.7 367.4h0.85M360.3 352.7h0.85M361.2 385.9h0.85M368.9 359.2h0.85M344.4 374.0h0.85M307.2 387.1h0.85M332.9 380.2h0.85M331.4 366.0h0.85M323.2 377.2h0.85M349.9 380.0h0.85M290.2 359.2h0.85M357.4 366.1h0.85M371.0 372.0h0.85M329.6 372.9h0.85M324.8 362.9h0.85M341.7 365.2h0.85M332.7 368.5h0.85M298.0 372.5h0.85M344.4 360.7h0.85M354.8 362.9h0.85M396.6 342.6h0.85M368.6 381.6h0.85M342.6 360.9h0.85M332.7 387.9h0.85M329.3 374.8h0.85M336.7 366.7h0.85M345.0 381.8h0.85M384.8 353.5h0.85M326.4 368.3h0.85M366.0 362.2h0.85M315.6 367.4h0.85M337.2 375.2h0.85M348.2 359.1h0.85M299.6 399.3h0.85M335.3 361.7h0.85M371.2 357.4h0.85M326.1 381.3h0.85M351.6 383.9h0.85M339.7 376.3h0.85M314.1 371.2h0.85M379.1 369.8h0.85M334.8 361.3h0.85M362.5 385.3h0.85M346.7 383.1h0.85M349.6 361.5h0.85M356.0 363.0h0.85M343.4 381.1h0.85M340.0 371.0h0.85M300.2 368.4h0.85M336.1 356.7h0.85M358.4 374.8h0.85M341.6 363.1h0.85M304.7 365.1h0.85M339.7 366.3h0.85M292.3 374.3h0.85M309.7 361.0h0.85M327.2 370.1h0.85M349.2 354.4h0.85M335.0 375.5h0.85M350.7 361.5h0.85M311.8 371.3h0.85M332.8 374.9h0.85M286.3 370.1h0.85M333.9 372.6h0.85M357.0 350.8h0.85M327.4 365.4h0.85M323.4 362.8h0.85M329.3 376.3h0.85M340.2 371.0h0.85M320.0 389.8h0.85M293.4 378.5h0.85M343.5 376.1h0.85M320.5 375.9h0.85M308.1 370.8h0.85M368.1 366.6h0.85M377.8 371.8h0.85M311.9 374.1h0.85M310.1 373.9h0.85M368.6 355.8h0.85M359.1 349.4h0.85M308.8 378.0h0.85M323.8 386.6h0.85M310.2 360.3h0.85M342.1 354.6h0.85M316.5 366.1h0.85M299.1 371.4h0.85M330.0 367.1h0.85M346.1 360.5h0.85M331.0 353.9h0.85M297.9 377.1h0.85M306.2 378.1h0.85M380.0 369.0h0.85M323.3 367.1h0.85M371.9 354.4h0.85M308.0 385.4h0.85M355.9 372.6h0.85M326.8 364.9h0.85M320.4 365.4h0.85M316.9 373.3h0.85M291.5 392.3h0.85M293.2 367.7h0.85M336.1 369.1h0.85M328.3 366.5h0.85M354.1 360.8h0.85M349.6 364.0h0.85M366.7 376.0h0.85M361.9 387.2h0.85M332.5 366.2h0.85M336.9 358.1h0.85M341.7 365.9h0.85M376.6 344.7h0.85M347.1 363.8h0.85M339.6 389.9h0.85M292.7 374.4h0.85M304.3 374.9h0.85M283.7 376.7h0.85M351.3 361.7h0.85M360.9 375.0h0.85M329.2 384.3h0.85M335.2 371.7h0.85M344.0 367.7h0.85M285.8 379.6h0.85M336.8 359.0h0.85M412.6 357.1h0.85M342.0 382.9h0.85M393.0 364.0h0.85M349.7 370.8h0.85M312.7 374.1h0.85M307.9 381.7h0.85M383.7 357.5h0.85M341.7 363.7h0.85M380.5 361.2h0.85M329.2 374.6h0.85M370.9 362.5h0.85M331.8 359.0h0.85M326.9 387.6h0.85M364.2 355.0h0.85M353.5 356.1h0.85M387.4 364.7h0.85M327.8 381.0h0.85M324.7 369.2h0.85M349.5 377.7h0.85M355.4 379.0h0.85M280.1 363.5h0.85M295.8 369.6h0.85M338.6 359.7h0.85M354.1 350.6h0.85M328.3 364.0h0.85M320.9 374.5h0.85M343.5 389.8h0.85M352.3 362.7h0.85M335.0 370.8h0.85M337.9 360.0h0.85M313.4 384.8h0.85M298.8 365.0h0.85M370.7 363.4h0.85M301.8 379.2h0.85M366.7 356.7h0.85M309.3 364.1h0.85M374.9 350.3h0.85M298.3 375.0h0.85M311.5 374.8h0.85M347.7 358.8h0.85M367.9 361.5h0.85M377.6 372.8h0.85M388.8 359.6h0.85M370.0 367.1h0.85M364.1 353.0h0.85M384.5 373.5h0.85M301.4 376.9h0.85M363.2 357.5h0.85M369.9 352.9h0.85M313.8 370.1h0.85M320.9 352.5h0.85M336.7 374.7h0.85M337.6 372.0h0.85M340.0 365.3h0.85" stroke="#30f040" stroke-width="0.85" fill="none"/>
</g>
<path d="M183.0 244.6L183.0 375.8M183.0 375.8L315.0 404.6M315.0 404.6L412.9 366.5M183.0 244.6h-1.7M183.0 257.7h-1.7M183.0 270.8h-1.7M183.0 284.0h-1.7M183.0 297.1h-1.7M183.0 310.2h-1.7M183.0 323.3h-1.7M183.0 336.4h-1.7M183.0 349.6h-1.7M183.0 362.7h-1.7M183.0 375.8h-1.7M183.0 375.8l1.9 -0.75M249.0 390.2l1.9 -0.75M315.0 404.6l1.9 -0.75M315.0 404.6l-2.0 -0.42M339.5 395.1l-2.0 -0.42M363.9 385.6l-2.0 -0.42M388.4 376.0l-2.0 -0.42M412.9 366.5l-2.0 -0.42" stroke="#444" stroke-width="0.72" fill="none"/>
<text x="179.80" y="246.50" text-anchor="end" fill="#111" style="font-size:5.8px;font-weight:bold;" >−16.5</text>
<text x="179.80" y="259.62" text-anchor="end" fill="#111" style="font-size:5.8px;font-weight:bold;" >−16.7</text>
<text x="179.80" y="272.74" text-anchor="end" fill="#111" style="font-size:5.8px;font-weight:bold;" >−16.9</text>
<text x="179.80" y="285.86" text-anchor="end" fill="#111" style="font-size:5.8px;font-weight:bold;" >−17.1</text>
<text x="179.80" y="298.98" text-anchor="end" fill="#111" style="font-size:5.8px;font-weight:bold;" >−17.3</text>
<text x="179.80" y="312.10" text-anchor="end" fill="#111" style="font-size:5.8px;font-weight:bold;" >−17.5</text>
<text x="179.80" y="325.22" text-anchor="end" fill="#111" style="font-size:5.8px;font-weight:bold;" >−17.7</text>
<text x="179.80" y="338.34" text-anchor="end" fill="#111" style="font-size:5.8px;font-weight:bold;" >−17.9</text>
<text x="179.80" y="351.46" text-anchor="end" fill="#111" style="font-size:5.8px;font-weight:bold;" >−18.1</text>
<text x="179.80" y="364.58" text-anchor="end" fill="#111" style="font-size:5.8px;font-weight:bold;" >−18.3</text>
<text x="179.80" y="377.70" text-anchor="end" fill="#111" style="font-size:5.8px;font-weight:bold;" >−18.5</text>
<text x="178.10" y="383.80" text-anchor="middle" fill="#111" style="font-size:5.8px;font-weight:bold;" >5</text>
<text x="243.30" y="397.40" text-anchor="middle" fill="#111" style="font-size:5.8px;font-weight:bold;" >0</text>
<text x="308.70" y="411.30" text-anchor="middle" fill="#111" style="font-size:5.8px;font-weight:bold;" >−5</text>
<text x="324.60" y="410.80" text-anchor="middle" fill="#111" style="font-size:5.8px;font-weight:bold;" >−10</text>
<text x="348.00" y="401.10" text-anchor="middle" fill="#111" style="font-size:5.8px;font-weight:bold;" >−5</text>
<text x="370.40" y="391.70" text-anchor="middle" fill="#111" style="font-size:5.8px;font-weight:bold;" >0</text>
<text x="394.60" y="381.90" text-anchor="middle" fill="#111" style="font-size:5.8px;font-weight:bold;" >5</text>
<text x="420.60" y="372.90" text-anchor="middle" fill="#111" style="font-size:5.8px;font-weight:bold;" >10</text>
<text x="256.20" y="413.00" text-anchor="middle" fill="#111" style="font-size:5.7px;font-weight:bold;" >Along(m)</text>
<text x="370.50" y="410.30" text-anchor="middle" fill="#111" style="font-size:5.7px;font-weight:bold;" >Across(m)</text>
<text transform="translate(163.8,310) rotate(-90)" text-anchor="middle" fill="#111" style="font-size:5.7px;font-weight:bold">Height(m)</text>
<text x="175.60" y="224.70" text-anchor="start" fill="#111" style="font-size:19px;font-weight:normal;letter-spacing:0.9px;" >(c)</text>
<rect x="336.1" y="234.4" width="59.1" height="17.5" fill="#fff" stroke="#333" stroke-width="0.7"/>
<rect x="342.9" y="237.3" width="1" height="1" fill="#ff4040"/>
<text x="350.70" y="239.40" text-anchor="start" fill="#111" style="font-size:4.65px;font-weight:bold;" >FWConv</text>
<rect x="342.9" y="242.7" width="1" height="1" fill="#40f050"/>
<text x="350.70" y="244.75" text-anchor="start" fill="#111" style="font-size:4.65px;font-weight:bold;" >Waveform processing</text>
<rect x="342.9" y="248.0" width="1" height="1" fill="#4040ff"/>
<text x="350.70" y="250.10" text-anchor="start" fill="#111" style="font-size:4.65px;font-weight:bold;" >MBES</text>
</svg>
</body></html>
